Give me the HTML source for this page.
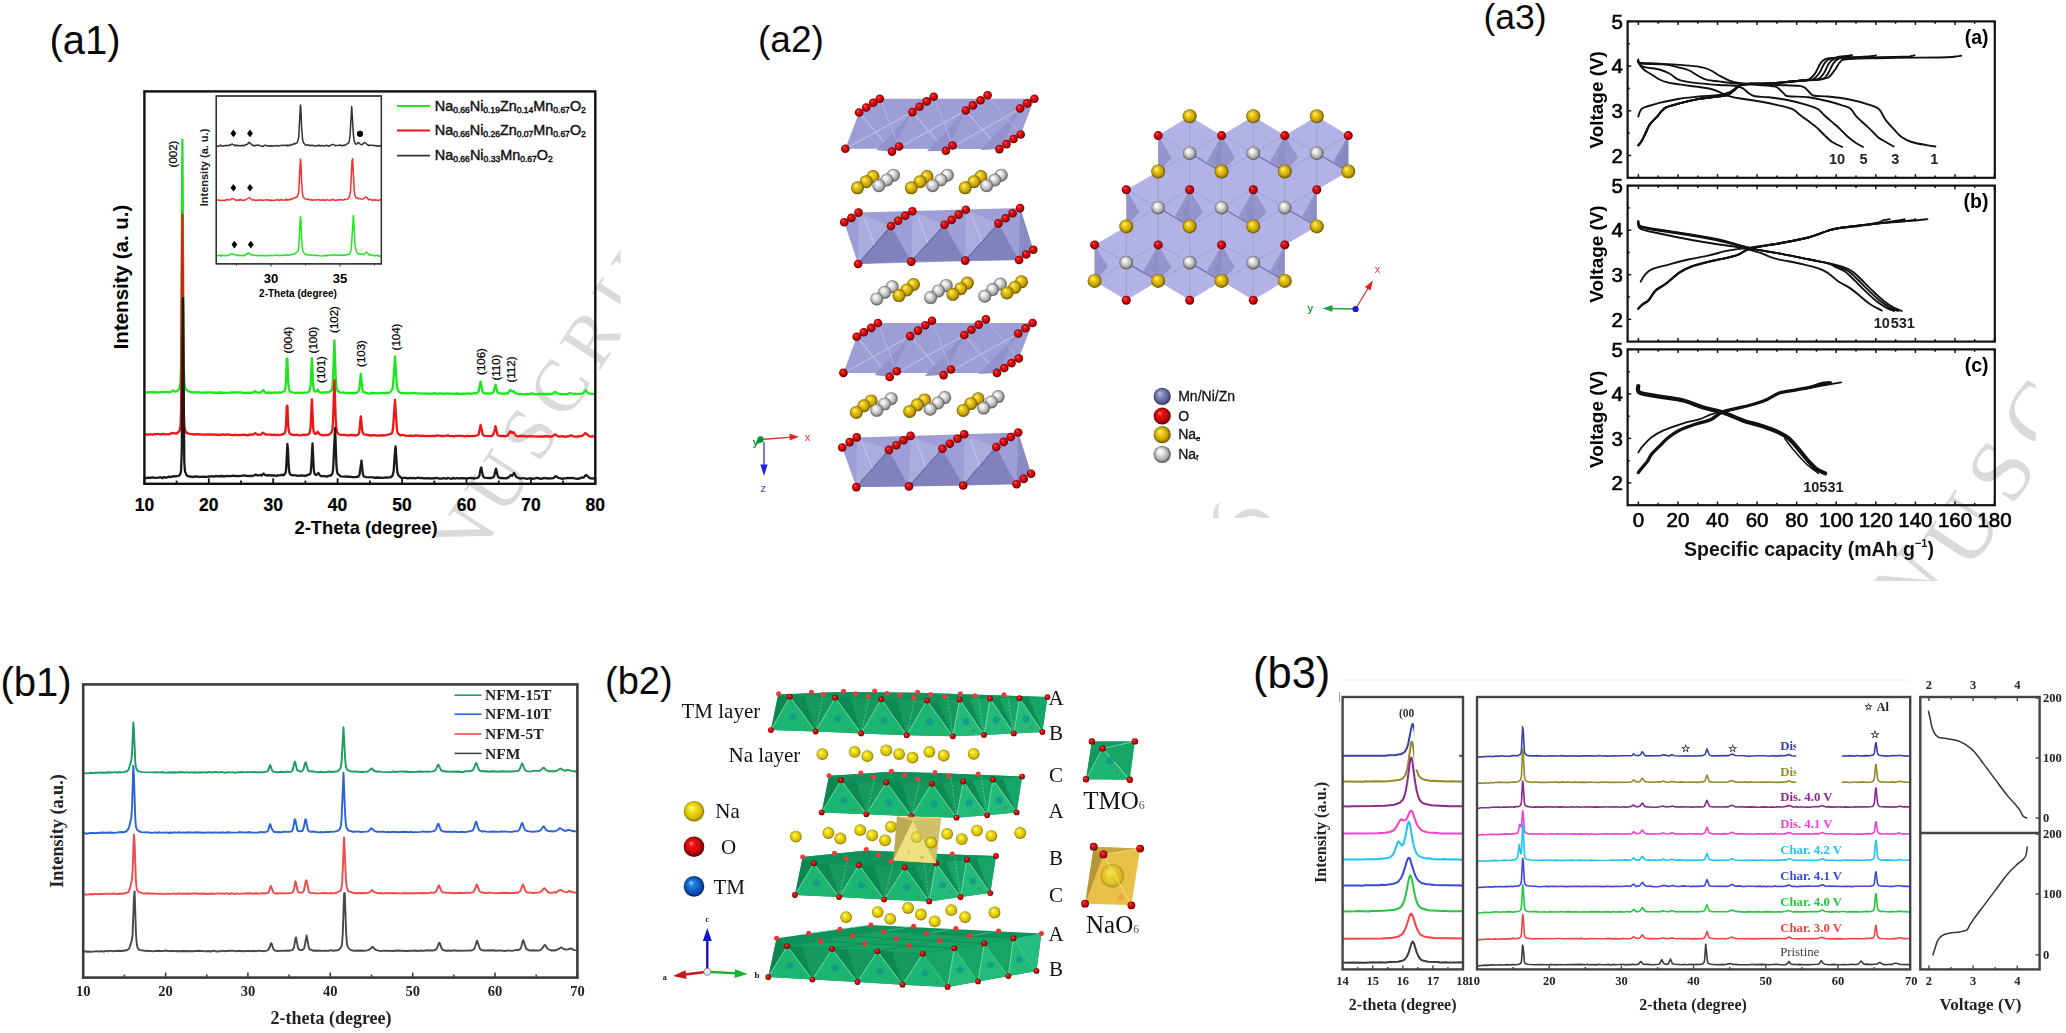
<!DOCTYPE html>
<html><head><meta charset="utf-8"><title>Figure</title>
<style>html,body{margin:0;padding:0;background:#fff;}svg{display:block;}</style></head>
<body>
<svg width="2066" height="1033" viewBox="0 0 2066 1033">
<rect width="2066" height="1033" fill="#fff"/>
<!-- p_wm -->
<clipPath id="wm1"><rect x="40" y="0" width="580.5" height="537"/></clipPath>
<g clip-path="url(#wm1)"><text transform="translate(469.5 571) rotate(-57)" font-family="'Liberation Serif',serif" font-size="74" letter-spacing="10" fill="#dadada">NUSCRIPT</text></g>
<clipPath id="wm3"><rect x="1470" y="0" width="565.7" height="581"/></clipPath>
<g clip-path="url(#wm3)" font-family="'Liberation Serif',serif" font-size="88" letter-spacing="14" fill="#dadada"><text transform="translate(1909.9 627.8) rotate(-50)">N</text><text transform="translate(1969.8 572.5) rotate(-57)">USCRIPT</text></g>
<clipPath id="wm2"><rect x="1100" y="400" width="200" height="118"/></clipPath>
<g clip-path="url(#wm2)"><ellipse cx="1252" cy="525" rx="20" ry="16" fill="#dcdcdc"/><ellipse cx="1252" cy="529" rx="18" ry="13" fill="#fff"/><path d="M1213,518 q0,-12 7,-16 q-3,8 -1,16z" fill="#dcdcdc"/></g>
<!-- p_labels -->
<text x="49.5" y="54" font-size="40" text-anchor="start" font-weight="normal" font-family="'Liberation Sans',sans-serif" fill="#0a0a0a" >(a1)</text>
<text x="758" y="52" font-size="37" text-anchor="start" font-weight="normal" font-family="'Liberation Sans',sans-serif" fill="#0a0a0a" >(a2)</text>
<text x="1483.5" y="28.6" font-size="35.5" text-anchor="start" font-weight="normal" font-family="'Liberation Sans',sans-serif" fill="#0a0a0a" >(a3)</text>
<text x="0.5" y="696" font-size="40" text-anchor="start" font-weight="normal" font-family="'Liberation Sans',sans-serif" fill="#0a0a0a" >(b1)</text>
<text x="605" y="693.7" font-size="38" text-anchor="start" font-weight="normal" font-family="'Liberation Sans',sans-serif" fill="#0a0a0a" >(b2)</text>
<text x="1253" y="687.5" font-size="43.5" text-anchor="start" font-weight="normal" font-family="'Liberation Sans',sans-serif" fill="#0a0a0a" >(b3)</text>
<!-- p_a1 -->
<polyline points="144.4,392.5 153.4,392.1 159.2,392.5 161.1,391.8 163.1,392.2 166.9,391.8 168.9,392.5 170.8,391.9 172.7,390.6 173.4,390.6 174.7,391.5 176.6,391.4 177.9,390.6 179.2,389 180.5,383.1 181.1,364.3 182.4,139.6 183.7,364.1 184.3,383.2 185,387.4 185.6,389.1 187.6,390.8 191.4,392.4 195.3,392.1 196.6,392.6 198.5,392.2 201.1,392.9 204.9,392.4 206.2,392.9 208.2,392.3 211.4,392.4 213.3,392.9 215.3,392.5 216.5,392.8 219.8,392.5 226.9,392.8 232.6,392.3 234.6,392.7 236.5,392.3 241,392.3 243.6,393.1 244.9,392.7 246.2,393.1 247.5,392.7 251.3,392.8 253.9,392.1 255.2,391.3 257.8,392.8 260.3,392.5 261.6,391.9 262.9,390.2 263.6,390.4 264.9,392.2 266.1,392.8 268.7,392.5 271.9,393 275.2,392.4 277.1,392.9 279,392.4 281.6,392.5 284.2,391.2 284.8,390.4 285.5,387.7 286.1,378.4 286.8,358.5 287.4,358.4 288,377.9 288.7,387.4 289.3,390.3 290,391.3 291.9,392.4 295.8,393 299,392.6 300.9,393 308,392.3 309.3,391.1 309.9,389.7 310.6,385.3 311.9,358.2 313.2,385.2 313.8,389.8 314.5,391.3 315.7,391.7 317.7,389.6 319,391.9 319.6,392.4 321.5,392.8 322.8,392.3 324.8,392.5 325.4,392.1 328,392.5 331.2,390.9 331.8,389.7 332.5,386.6 333.1,377.4 334.4,340.4 335.7,377.8 336.4,386.7 337,389.7 337.6,390.7 340.2,392.5 342.2,392.7 343.4,392.4 345.4,393 346.7,392.8 347.9,393.2 349.2,392.9 350.5,393.1 351.8,392.8 355.7,393 357.6,392.3 358.9,390.6 359.5,387.3 360.8,373.9 362.1,387.4 362.8,391 363.4,392.1 367.9,393.4 370.5,393.7 371.8,392.8 376.9,393.3 382.7,392.8 384.7,393.3 386,392.7 387.9,393 389.8,392.5 391.1,391.2 392.4,389.1 393,386.1 395,356.4 396.9,386.2 398.2,390.9 399.5,392.3 400.8,393 404.6,393.1 408.5,393.5 410.4,393 411.7,393.4 414.9,392.9 416.2,393.3 420.7,393.3 422.7,393.6 427.2,393.4 429.1,393.8 430.4,393.5 432.3,393.8 434.3,393.1 437.5,393.8 439.4,393.3 440.1,393.6 442,393.3 443.9,393.8 445.2,393.5 449.1,393.5 451,393.8 452.3,393.5 454.2,393.9 456.8,393.5 461.3,393.8 462.6,393.5 463.9,393.9 465.2,393.5 465.8,393.7 469.7,393.5 471.6,393.9 474.2,393 476.1,393.4 478.1,392.2 478.7,391.1 480.6,381.7 482.6,391.8 483.2,392.8 485.8,393.5 487.7,393.3 489.7,393.6 492.9,392.9 493.5,392 495.5,384.6 497.4,392.1 498,393 498.7,393.2 501.9,393.6 503.2,393.3 505.1,393.7 506.4,393.2 507.7,393.3 508.3,392.9 510.3,389.9 512.2,391.4 513.5,391.1 516.1,393.7 518,393.6 519.9,394.3 521.9,394 523.2,394.3 527.7,393.8 529.6,394.2 532.2,393.4 535.4,394.3 540.5,394 551.5,394 552.8,393.6 554.7,392.1 555.4,392 557.3,393.4 560.5,394.1 567.6,394.2 569.5,393 574,394 575.3,393.7 577.3,394.1 581.8,393.7 583.7,392.5 585.6,390.2 587.6,392.7 589.5,393.7 595.3,394.1" fill="none" stroke="#1ee61e" stroke-width="2.3" stroke-linejoin="round" />
<polyline points="144.4,434.5 145.7,434.3 148.9,434.6 150.8,434.2 152.1,434.8 154.7,434 156,434.3 157.3,433.8 161.1,434.4 163.1,433.8 165.7,434.4 168.9,434.3 172.7,432.9 174,433.4 176.6,433.5 179.2,431.5 179.8,430 180.5,426.3 181.1,410.2 182.4,214.6 183.7,410.3 184.3,426.5 185,429.9 186.3,432.7 189.5,433.9 194.6,434.5 197.9,434.1 202.4,434.7 209.5,434.4 210.7,434.7 212.7,434.4 219.1,435 223.6,434.4 224.9,434.8 226.9,434.4 233.3,435.1 235.9,434.7 237.2,435.2 238.4,434.8 239.7,435.1 244.2,434.6 246.8,435.3 248.1,434.9 249.4,435 251.3,434.3 253.3,434.6 255.2,433.1 257.8,434.9 259.1,434.6 260.3,434.7 261,434.6 262.9,432.6 264.9,434.1 266.1,434.7 270.7,434.7 271.9,435.1 273.9,434.7 275.8,435.1 277.7,434.7 279,435.2 281.6,434.6 284.2,433.6 284.8,432.9 285.5,430.8 286.1,423 286.8,406 287.4,405.6 288,422.3 288.7,430.3 289.3,432.7 290,433.6 291.3,434.5 294.5,435.1 296.4,434.6 298.4,435.2 300.3,435.3 303.5,434.6 304.8,435 307.4,434.6 309.3,433.7 309.9,432.1 310.6,427.3 311.9,399.3 313.2,427.6 313.8,432.2 314.5,433.4 315.7,433.9 316.4,433.6 317.7,431.7 319,433.7 320.3,434.7 323.5,435.3 325.4,434.8 328,435.2 331.2,432.9 331.8,431.9 332.5,428.8 333.1,419.2 334.4,380.3 335.7,418.9 336.4,428.4 337,431.6 337.6,433 338.9,434.3 340.2,434.8 345.4,434.9 346.7,435.3 349.2,435.4 350.5,434.9 356.3,435.5 358.3,434.4 358.9,433.4 359.5,430.2 360.8,416.4 362.1,429.8 362.8,432.8 364.1,434.4 371.1,435.5 374.4,435.2 376.3,435.6 380.8,435.3 381.4,435.7 383.4,435.2 384.7,435.5 391.1,433.8 391.8,433.3 392.4,431.8 393,428.5 395,399.9 396.9,429.1 397.5,432.5 398.2,433.8 400.8,435.5 402.7,434.7 404.6,435.5 407.2,435.8 411.1,435.6 413.7,435.9 415.6,435.5 418.8,435.6 420.7,436.1 422.7,435.7 424.6,436.1 425.9,435.8 430.4,436.2 431.7,435.8 435.6,436 437.5,435.3 440.7,436 443.3,436 445.9,435.9 447.8,435.4 449.7,436 452.9,436.1 454.2,436.4 455.5,435.9 458.1,435.8 462.6,435.9 464.5,436.3 466.5,435.8 471,436.1 472.9,435.9 474.2,436.2 478.1,435 478.7,434.2 480.6,424.9 482.6,434.1 483.2,435.1 484.5,435.9 490.9,436.2 492.9,435.2 494.2,432.1 495.5,426.2 497.4,434.6 498,435.5 500,436 503.2,435.9 505.1,436.3 507.7,435.4 510.3,431.3 512.2,433 513.5,432.1 515.4,435.2 516.7,436.2 518,436.4 520.6,435.8 521.9,436.2 524.4,435.9 527,436.7 528.3,436.2 538,436.7 539.9,436.3 543.8,436.5 545.7,436.1 547,436.4 548.3,436.1 550.2,436.9 552.8,436.2 554.7,434.5 555.4,434.4 556.7,435.6 558.6,436.6 563.1,436.2 565,436.8 569.5,436 570.8,435.3 574,436.6 577.9,436.5 581.8,435.9 583.7,434.8 585,433.3 585.6,433.2 589.5,436.4 590.8,436.7 592.7,436.2 594,436.8 595.3,436.8" fill="none" stroke="#f21414" stroke-width="2.3" stroke-linejoin="round" />
<polyline points="144.4,477.5 147,478.1 148.3,477.7 150.2,478 152.1,477.3 155.4,477.8 158.6,477.7 160.5,477.2 162.4,478.1 164.4,477.1 166.3,477.7 168.9,476.6 170.2,477.1 174,476.1 175.3,476.4 178.5,475.9 179.8,474.9 180.5,473.5 181.1,469.9 181.8,449.8 183,298.2 184.3,462.1 185,471.4 186.3,474.7 187.6,476.1 193.4,477 194.6,476.5 195.9,476.5 199.8,476.9 204.3,476.6 205.6,477.1 208.8,476.4 210.1,476.6 211.4,476.2 213.3,476.6 216.5,476 217.8,476.3 221.1,476 224.9,476.4 226.2,476 230.7,476.2 233.3,475.7 235.9,476.2 237.2,475.8 239.1,476.1 244.9,475.4 246.2,475.8 250.7,476 253.9,475.6 255.8,474.6 257.8,475.5 259.7,475 261.6,475.6 262.9,473.8 263.6,473.6 264.9,474.8 266.8,475.5 268.7,475.1 271.3,475.5 274.5,475.4 276.4,475.9 277.7,475.4 280.3,475.3 281.6,474.7 283.5,475.4 285.5,473 286.1,470.1 287.4,444 288,450.1 288.7,465.7 289.3,472 290,473.8 290.6,474.7 291.9,475.2 295.8,475.3 297.7,475.8 301.6,475.3 305.4,475.8 309.9,474.2 310.6,472.7 311.2,467.2 312.5,443.5 313.8,470 314.5,473.4 315.1,474.6 316.4,475 318.3,472.9 319.6,475 320.9,476.2 324.8,476.1 326.7,476.6 328.6,475.8 330.6,475.5 331.8,474.5 332.5,473.2 333.1,469.6 335.1,427.8 336.4,464.6 337,471.5 337.6,473.6 339.6,475.6 340.9,476.4 344.7,476.7 346.7,476.4 347.9,476.9 349.2,476.7 352.5,477.2 355.7,477.2 357,476.7 358.3,476.8 359.5,474.7 361.5,460.7 362.8,473.3 363.4,475.8 364.1,476.5 366,477.1 373.7,477.4 375,477.9 376.9,477.5 383.4,477.8 386,477.4 387.9,477.7 391.1,477.1 392.4,475.7 393,474.3 393.7,470.8 395,451.2 395.6,446.4 396.9,467 397.5,472.8 398.2,474.9 400.8,477.6 405.9,477.8 407.9,478.3 409.8,477.8 412.4,478.1 413.7,477.9 415.6,478.3 418.2,477.7 420.1,478.2 422,478 424,478.4 426.5,478.1 428.5,478.4 430.4,478.2 431,478.6 433,478.2 434.3,478.4 436.2,477.8 438.8,478.5 441.3,478.6 443.3,478.2 446.5,478.7 447.8,478 448.4,478 451.7,478.8 452.9,477.9 454.9,478.6 456.8,478 458.1,478.4 462,478.1 466.5,478.3 471,477.8 474.8,478.5 478.1,477.7 478.7,477 479.4,475.6 480.6,469 481.3,467.5 482.6,474.6 483.2,476.5 484.5,477.6 488.4,478.2 489.7,477.9 490.9,478.2 493.5,477.1 494.2,476 495.5,470.2 496.1,468.7 497.4,474.9 498,476.6 498.7,477.4 500,478 506.4,478.4 509,477.1 510.9,475 512.2,475.9 514.1,473 516.1,476.8 516.7,477.3 519.3,478.3 521.2,478.5 523.2,478 527,478.9 529,478.4 531.5,478.4 533.5,478.9 536,478 538.6,478.1 540.5,478.8 544.4,478 545.7,478.3 547,478.1 548.3,478.5 550.9,478.4 553.4,478.2 555.4,476.3 556,476.2 557.9,477.7 562.4,478.8 563.7,478.4 565.7,478.4 567.6,477.8 570.2,478.1 572.1,477.9 577.3,478.9 578.6,478.4 579.8,478.5 581.8,477.5 583.7,477.6 585.6,475.2 586.3,475.1 590.1,478.4 595.3,478.5" fill="none" stroke="#1a1a1a" stroke-width="2.3" stroke-linejoin="round" />
<rect x="144.4" y="91.4" width="450.9" height="392.4" stroke="#111" stroke-width="2.4" fill="none" />
<line x1="144.4" y1="483.8" x2="144.4" y2="478.3" stroke="#111" stroke-width="1.8" />
<line x1="176.6" y1="483.8" x2="176.6" y2="480.6" stroke="#111" stroke-width="1.8" />
<line x1="208.8" y1="483.8" x2="208.8" y2="478.3" stroke="#111" stroke-width="1.8" />
<line x1="241" y1="483.8" x2="241" y2="480.6" stroke="#111" stroke-width="1.8" />
<line x1="273.2" y1="483.8" x2="273.2" y2="478.3" stroke="#111" stroke-width="1.8" />
<line x1="305.4" y1="483.8" x2="305.4" y2="480.6" stroke="#111" stroke-width="1.8" />
<line x1="337.6" y1="483.8" x2="337.6" y2="478.3" stroke="#111" stroke-width="1.8" />
<line x1="369.9" y1="483.8" x2="369.9" y2="480.6" stroke="#111" stroke-width="1.8" />
<line x1="402.1" y1="483.8" x2="402.1" y2="478.3" stroke="#111" stroke-width="1.8" />
<line x1="434.3" y1="483.8" x2="434.3" y2="480.6" stroke="#111" stroke-width="1.8" />
<line x1="466.5" y1="483.8" x2="466.5" y2="478.3" stroke="#111" stroke-width="1.8" />
<line x1="498.7" y1="483.8" x2="498.7" y2="480.6" stroke="#111" stroke-width="1.8" />
<line x1="530.9" y1="483.8" x2="530.9" y2="478.3" stroke="#111" stroke-width="1.8" />
<line x1="563.1" y1="483.8" x2="563.1" y2="480.6" stroke="#111" stroke-width="1.8" />
<line x1="595.3" y1="483.8" x2="595.3" y2="478.3" stroke="#111" stroke-width="1.8" />
<text x="144.4" y="511" font-size="17.5" text-anchor="middle" font-weight="bold" font-family="'Liberation Sans',sans-serif" fill="#000" stroke="#000" stroke-width="0.2">10</text>
<text x="208.8" y="511" font-size="17.5" text-anchor="middle" font-weight="bold" font-family="'Liberation Sans',sans-serif" fill="#000" stroke="#000" stroke-width="0.2">20</text>
<text x="273.2" y="511" font-size="17.5" text-anchor="middle" font-weight="bold" font-family="'Liberation Sans',sans-serif" fill="#000" stroke="#000" stroke-width="0.2">30</text>
<text x="337.6" y="511" font-size="17.5" text-anchor="middle" font-weight="bold" font-family="'Liberation Sans',sans-serif" fill="#000" stroke="#000" stroke-width="0.2">40</text>
<text x="402.1" y="511" font-size="17.5" text-anchor="middle" font-weight="bold" font-family="'Liberation Sans',sans-serif" fill="#000" stroke="#000" stroke-width="0.2">50</text>
<text x="466.5" y="511" font-size="17.5" text-anchor="middle" font-weight="bold" font-family="'Liberation Sans',sans-serif" fill="#000" stroke="#000" stroke-width="0.2">60</text>
<text x="530.9" y="511" font-size="17.5" text-anchor="middle" font-weight="bold" font-family="'Liberation Sans',sans-serif" fill="#000" stroke="#000" stroke-width="0.2">70</text>
<text x="595.3" y="511" font-size="17.5" text-anchor="middle" font-weight="bold" font-family="'Liberation Sans',sans-serif" fill="#000" stroke="#000" stroke-width="0.2">80</text>
<text x="366" y="533.5" font-size="18.4" text-anchor="middle" font-weight="bold" font-family="'Liberation Sans',sans-serif" fill="#000" >2-Theta (degree)</text>
<text transform="translate(127.5 277) rotate(-90)" font-size="20.5" text-anchor="middle" font-weight="bold" font-family="'Liberation Sans',sans-serif" fill="#000" >Intensity (a. u.)</text>
<text transform="translate(176.5 154) rotate(-90)" font-size="11.5" text-anchor="middle" font-weight="normal" font-family="'Liberation Sans',sans-serif" fill="#000" stroke="#000" stroke-width="0.25">(002)</text>
<text transform="translate(292 340) rotate(-90)" font-size="11.5" text-anchor="middle" font-weight="normal" font-family="'Liberation Sans',sans-serif" fill="#000" stroke="#000" stroke-width="0.25">(004)</text>
<text transform="translate(316.5 340) rotate(-90)" font-size="11.5" text-anchor="middle" font-weight="normal" font-family="'Liberation Sans',sans-serif" fill="#000" stroke="#000" stroke-width="0.25">(100)</text>
<text transform="translate(325.3 369.5) rotate(-90)" font-size="11.5" text-anchor="middle" font-weight="normal" font-family="'Liberation Sans',sans-serif" fill="#000" stroke="#000" stroke-width="0.25">(101)</text>
<text transform="translate(337.8 319.5) rotate(-90)" font-size="11.5" text-anchor="middle" font-weight="normal" font-family="'Liberation Sans',sans-serif" fill="#000" stroke="#000" stroke-width="0.25">(102)</text>
<text transform="translate(364.8 353.5) rotate(-90)" font-size="11.5" text-anchor="middle" font-weight="normal" font-family="'Liberation Sans',sans-serif" fill="#000" stroke="#000" stroke-width="0.25">(103)</text>
<text transform="translate(400 337) rotate(-90)" font-size="11.5" text-anchor="middle" font-weight="normal" font-family="'Liberation Sans',sans-serif" fill="#000" stroke="#000" stroke-width="0.25">(104)</text>
<text transform="translate(485 361.5) rotate(-90)" font-size="11.5" text-anchor="middle" font-weight="normal" font-family="'Liberation Sans',sans-serif" fill="#000" stroke="#000" stroke-width="0.25">(106)</text>
<text transform="translate(499.8 367.5) rotate(-90)" font-size="11.5" text-anchor="middle" font-weight="normal" font-family="'Liberation Sans',sans-serif" fill="#000" stroke="#000" stroke-width="0.25">(110)</text>
<text transform="translate(514.8 369.5) rotate(-90)" font-size="11.5" text-anchor="middle" font-weight="normal" font-family="'Liberation Sans',sans-serif" fill="#000" stroke="#000" stroke-width="0.25">(112)</text>
<rect x="216.3" y="96" width="165.1" height="167.8" stroke="#333" stroke-width="1.3" fill="#fff" />
<polyline points="216.4,146 218.8,146.3 220.5,145.1 221.3,145.8 223,146.2 224.6,145.6 225.5,145.8 227.1,145.3 227.9,145.7 229.2,145.1 230.4,145.3 231.3,144.3 232.9,144.3 233.7,144.7 234.6,145.7 235.4,145.1 236.2,145.8 237.1,145.2 237.9,145.8 239.5,145.4 241.6,145.8 242.4,145.2 244.1,145.7 244.5,145.7 245.3,144.6 246.2,144.8 247.4,144.1 249.1,142.4 253.2,145.7 254,145.3 254.9,146 256.1,145.1 257.3,145.4 259,145 260.2,145.9 261.5,146.3 262.3,146 263.1,146.5 264,145.7 265.6,145.1 266.9,146 268.5,145.7 270.2,146.3 271,145.6 271.8,146.2 273.1,146.1 273.9,145.5 274.7,146.1 276.8,145.5 278,146.1 282.2,145.2 283,145.4 283.8,145.2 284.2,145.6 285.9,145.1 286.7,145.9 287.6,145.1 288.4,145.7 289.2,145 290,145.5 291.7,144.3 292.5,144.8 294.6,143.2 295.4,143.9 297.1,142.7 297.5,141.9 298.7,137.4 300.4,105 300.8,107 301.6,127.4 302.5,138.7 303.3,142.6 305.4,144.9 306.2,144.9 306.6,145.4 307.8,144.7 308.7,145.5 309.5,145.2 310.7,145.7 311.2,145.3 312.4,145.3 314.5,146 317,145.5 317.8,145.9 319,145.1 320.3,146.1 321.9,145.4 322.8,145.9 323.6,145.6 324.8,145.9 326.5,145.3 329,146.2 329.8,145.6 330.6,145.6 331.4,144.7 333.1,144.4 334.3,144.8 335.6,145.9 336.8,145.4 339.3,145.3 339.7,144.9 340.6,145.6 341.8,145.2 342.6,145.9 343.5,145.2 344.3,145.5 345.1,144.9 345.9,144.9 347.6,143.5 348.4,143.6 349.2,141.3 350.1,134.9 351.7,106.5 353.4,134.7 354.2,140.9 355.5,143.9 355.9,144.2 357.1,143.7 358.4,142.4 360,144.1 362.1,144.8 364.2,142.6 364.6,142.5 368.7,145.7 369.5,145.1 372,145.5 373.3,145.1 374.1,145.7 376.2,145.5 377.4,146.3 378.2,145.7 379.9,146.2 381.1,145.5" fill="none" stroke="#333" stroke-width="1.5" stroke-linejoin="round" />
<polyline points="216.4,200.2 218,199.9 219.3,200.4 220.5,200.2 222.6,200.6 223.4,200.3 224.2,200.6 225.5,200.4 226.3,199.6 227.1,199.9 227.9,199.3 228.8,199.9 230.4,199.8 232.1,198.4 236.6,200.5 238.3,200.1 239.1,199.6 240,200.3 240.8,199.4 242.8,200.6 243.7,200.1 244.5,200.2 246.2,199.5 249.1,197.5 252.8,200.3 254,199.6 255.3,200.4 257.3,199.9 259,200.2 260.7,199.8 261.5,200.2 264.4,200.2 265.2,199.8 266.4,199.7 267.3,200.1 268.1,199.8 268.9,200.4 269.8,199.8 271,200.8 271.8,200.1 272.7,200.5 276.4,199.9 276.8,200.1 277.6,199.6 279.3,200.5 280.9,199.5 283,200.3 284.7,199.9 285.5,200 286.3,199 287.1,200.3 288,199.6 288.8,200 290.5,199 291.7,199.6 292.9,198.3 294.6,198.3 295.4,197.3 296.7,197.2 297.1,196.8 298.3,193.8 298.7,191.6 300.4,159 300.8,161 301.6,181.9 302.5,193.7 302.9,196.1 304.5,198.6 307,199.6 308.3,199 309.5,199.9 311.2,199.9 311.6,199.5 312.4,200.3 314.9,199.7 317,200.1 317.8,199.6 319,199.7 319.9,200.4 321.1,199.8 322.3,200.4 323.6,199.7 325.6,200.5 326.9,199.6 329.4,200.4 331.9,199.8 332.7,199.2 333.5,199.9 334.3,199.9 335.6,200.5 338.1,199.8 339.3,199.9 340.1,199.3 341.4,200 343.9,199.9 344.7,199.2 345.5,199.5 347.6,199.1 349.2,197.2 349.7,196.2 350.5,191.4 352.1,160.5 352.6,158.7 354.2,190.2 355,195.7 355.9,197.5 356.3,198 357.5,198.1 358.4,198.8 359.2,198.4 362.1,199.4 364.2,198.4 365,197.2 365.8,196.9 369.1,199.9 370.4,199.3 372.8,200.5 374.5,199.4 375.3,200.2 376.6,199.9 378.6,200.7 379.5,199.8 380.3,200.1 381.1,199.6" fill="none" stroke="#f53030" stroke-width="1.5" stroke-linejoin="round" />
<polyline points="216.4,255.4 219.3,255.5 220.1,255.1 220.9,256 221.3,256 222.1,255.1 224.2,255.7 224.6,255.4 225.5,255.9 226.3,255.4 226.7,255.7 228.4,255.1 229.2,255.2 231.3,253.9 232.1,253.8 233.7,254.6 236.2,254.7 237.1,255.8 238.7,255.2 242.8,255.7 243.7,255.1 244.5,255.8 245.3,254.6 246.6,254.5 248.2,252.9 248.6,252.9 249.5,253.7 250.3,253.9 251.5,254.9 253.2,254.8 255.3,255.6 256.1,255.1 257.3,255.9 258.6,255.2 259.4,255.6 260.7,255.4 261.5,255.9 263.5,255.2 266,256 267.3,255.3 269.3,255.8 270.2,255.2 273.9,255.7 274.7,255.2 275.6,255.3 276.4,254.6 277.6,255.6 279.7,255.2 280.5,255.5 284.2,255.1 285.1,255.4 285.9,254.8 288,255.3 291.7,254.5 292.5,254.6 295.8,253.3 297.9,251.3 298.7,247.5 300.4,216.5 300.8,218.8 301.6,237.8 302.5,248.7 302.9,251 303.7,252.8 305.8,254.7 306.2,254.9 307,254 308.3,255.1 309.5,254.8 310.3,255.4 311.2,255 312.4,255.4 314.1,254.9 314.9,255.8 315.7,255.1 316.5,255.5 318.2,255.3 319.9,255.9 323.2,255.7 324,255.4 326.5,255.9 327.3,255.1 329.8,255.6 332.3,254.8 337.2,255.4 338.5,254.8 339.3,255.4 340.1,255 341,255.2 344.3,255 345.1,255.5 346.8,254.4 349.2,254.4 350.5,252.4 351.3,248.2 353.4,215.5 355,244.4 355.5,248 356.7,252.4 357.9,253.9 359.6,253.6 360.8,254.6 362.1,254.1 363.7,254.7 366.6,252 369.1,255 369.9,254.8 372,255.3 372.8,255 373.7,255.8 375.7,255.8 376.6,255.2 379.5,256.3 380.3,255.6 381.1,255.9" fill="none" stroke="#22e622" stroke-width="1.5" stroke-linejoin="round" />
<rect x="216.3" y="96" width="165.1" height="167.8" stroke="#333" stroke-width="1.3" fill="none" />
<line x1="236.5" y1="263.8" x2="236.5" y2="265.6" stroke="#333" stroke-width="1" />
<line x1="271" y1="263.8" x2="271" y2="266.6" stroke="#333" stroke-width="1" />
<line x1="305.5" y1="263.8" x2="305.5" y2="265.6" stroke="#333" stroke-width="1" />
<line x1="340" y1="263.8" x2="340" y2="266.6" stroke="#333" stroke-width="1" />
<line x1="374.5" y1="263.8" x2="374.5" y2="265.6" stroke="#333" stroke-width="1" />
<text x="271" y="283" font-size="13" text-anchor="middle" font-weight="bold" font-family="'Liberation Sans',sans-serif" fill="#000" >30</text>
<text x="340" y="283" font-size="13" text-anchor="middle" font-weight="bold" font-family="'Liberation Sans',sans-serif" fill="#000" >35</text>
<text x="298" y="296.8" font-size="10" text-anchor="middle" font-weight="bold" font-family="'Liberation Sans',sans-serif" fill="#000" >2-Theta (degree)</text>
<text transform="translate(208.3 167.5) rotate(-90)" font-size="11" text-anchor="middle" font-weight="bold" font-family="'Liberation Sans',sans-serif" fill="#222" >Intensity (a. u.)</text>
<polygon points="233.4,129.6 236.3,133.4 233.4,137.2 230.5,133.4" fill="#000" stroke="none" stroke-width="0" />
<polygon points="250,129.6 252.9,133.4 250,137.2 247.1,133.4" fill="#000" stroke="none" stroke-width="0" />
<polygon points="233.4,184 236.3,187.8 233.4,191.6 230.5,187.8" fill="#000" stroke="none" stroke-width="0" />
<polygon points="250,184 252.9,187.8 250,191.6 247.1,187.8" fill="#000" stroke="none" stroke-width="0" />
<polygon points="234.4,240.8 237.3,244.6 234.4,248.4 231.5,244.6" fill="#000" stroke="none" stroke-width="0" />
<polygon points="250.8,240.8 253.7,244.6 250.8,248.4 247.9,244.6" fill="#000" stroke="none" stroke-width="0" />
<circle cx="360" cy="133.8" r="3.1" fill="#000" />
<line x1="397" y1="106" x2="430" y2="106" stroke="#1ee61e" stroke-width="1.8" />
<text x="434.8" y="110.5" font-family="'Liberation Sans',sans-serif" fill="#111" stroke="#111" stroke-width="0.45" textLength="151" lengthAdjust="spacingAndGlyphs"><tspan font-size="14.5">Na</tspan><tspan font-size="8.6" dy="2.2">0.66</tspan><tspan dy="-2.2" font-size="1">&#8203;</tspan><tspan font-size="14.5">Ni</tspan><tspan font-size="8.6" dy="2.2">0.19</tspan><tspan dy="-2.2" font-size="1">&#8203;</tspan><tspan font-size="14.5">Zn</tspan><tspan font-size="8.6" dy="2.2">0.14</tspan><tspan dy="-2.2" font-size="1">&#8203;</tspan><tspan font-size="14.5">Mn</tspan><tspan font-size="8.6" dy="2.2">0.67</tspan><tspan dy="-2.2" font-size="1">&#8203;</tspan><tspan font-size="14.5">O</tspan><tspan font-size="8.6" dy="2.2">2</tspan><tspan dy="-2.2" font-size="1">&#8203;</tspan></text>
<line x1="397" y1="130.5" x2="430" y2="130.5" stroke="#f21414" stroke-width="1.8" />
<text x="434.8" y="135" font-family="'Liberation Sans',sans-serif" fill="#111" stroke="#111" stroke-width="0.45" textLength="151" lengthAdjust="spacingAndGlyphs"><tspan font-size="14.5">Na</tspan><tspan font-size="8.6" dy="2.2">0.66</tspan><tspan dy="-2.2" font-size="1">&#8203;</tspan><tspan font-size="14.5">Ni</tspan><tspan font-size="8.6" dy="2.2">0.26</tspan><tspan dy="-2.2" font-size="1">&#8203;</tspan><tspan font-size="14.5">Zn</tspan><tspan font-size="8.6" dy="2.2">0.07</tspan><tspan dy="-2.2" font-size="1">&#8203;</tspan><tspan font-size="14.5">Mn</tspan><tspan font-size="8.6" dy="2.2">0.67</tspan><tspan dy="-2.2" font-size="1">&#8203;</tspan><tspan font-size="14.5">O</tspan><tspan font-size="8.6" dy="2.2">2</tspan><tspan dy="-2.2" font-size="1">&#8203;</tspan></text>
<line x1="397" y1="155.6" x2="430" y2="155.6" stroke="#333" stroke-width="1.8" />
<text x="434.8" y="160.1" font-family="'Liberation Sans',sans-serif" fill="#111" stroke="#111" stroke-width="0.45" textLength="118" lengthAdjust="spacingAndGlyphs"><tspan font-size="14.5">Na</tspan><tspan font-size="8.6" dy="2.2">0.66</tspan><tspan dy="-2.2" font-size="1">&#8203;</tspan><tspan font-size="14.5">Ni</tspan><tspan font-size="8.6" dy="2.2">0.33</tspan><tspan dy="-2.2" font-size="1">&#8203;</tspan><tspan font-size="14.5">Mn</tspan><tspan font-size="8.6" dy="2.2">0.67</tspan><tspan dy="-2.2" font-size="1">&#8203;</tspan><tspan font-size="14.5">O</tspan><tspan font-size="8.6" dy="2.2">2</tspan><tspan dy="-2.2" font-size="1">&#8203;</tspan></text>
<!-- p_a2 -->
<defs>
<radialGradient id="gY" cx="0.5" cy="0.5" r="0.52" fx="0.34" fy="0.3"><stop offset="0" stop-color="#fff8a0"/><stop offset="0.28" stop-color="#f0d01e"/><stop offset="0.7" stop-color="#c6a208"/><stop offset="1" stop-color="#5c4a00"/></radialGradient>
<radialGradient id="gW" cx="0.5" cy="0.5" r="0.52" fx="0.34" fy="0.3"><stop offset="0" stop-color="#ffffff"/><stop offset="0.3" stop-color="#ebebeb"/><stop offset="0.7" stop-color="#b0b0b0"/><stop offset="1" stop-color="#4c4c4c"/></radialGradient>
<radialGradient id="gR" cx="0.5" cy="0.5" r="0.52" fx="0.34" fy="0.3"><stop offset="0" stop-color="#ff8478"/><stop offset="0.28" stop-color="#f01212"/><stop offset="0.7" stop-color="#c00606"/><stop offset="1" stop-color="#4a0000"/></radialGradient>
<radialGradient id="gB" cx="0.5" cy="0.5" r="0.52" fx="0.34" fy="0.3"><stop offset="0" stop-color="#c0c4e6"/><stop offset="0.3" stop-color="#8c92c2"/><stop offset="0.75" stop-color="#5a6092"/><stop offset="1" stop-color="#282c4c"/></radialGradient>
<radialGradient id="gTM" cx="0.5" cy="0.5" r="0.52" fx="0.34" fy="0.3"><stop offset="0" stop-color="#90ccff"/><stop offset="0.3" stop-color="#1e7ee2"/><stop offset="0.75" stop-color="#0a4cb2"/><stop offset="1" stop-color="#041c48"/></radialGradient>
<radialGradient id="gNa" cx="0.5" cy="0.5" r="0.52" fx="0.36" fy="0.32"><stop offset="0" stop-color="#ffffa0"/><stop offset="0.3" stop-color="#f4e41c"/><stop offset="0.75" stop-color="#d4bc08"/><stop offset="1" stop-color="#7a6a00"/></radialGradient>
<filter id="soft" x="-5%" y="-5%" width="110%" height="110%"><feGaussianBlur stdDeviation="0.6"/></filter>
</defs>
<g filter="url(#soft)">
<polygon points="859.1,112.5 879.8,98.7 1034.4,98.7 1020.7,134.5 999.4,149.1 845.3,148.7" fill="#9e9ed6" stroke="none" stroke-width="0" />
<line x1="859.1" y1="112.5" x2="892" y2="151.6" stroke="#bcbce4" stroke-width="1.1" />
<line x1="845.3" y1="148.7" x2="912.4" y2="112.1" stroke="#bcbce4" stroke-width="1.1" />
<polygon points="912.4,112.1 892,151.6 876.6,150.2" fill="#9292cc" stroke="none" stroke-width="0" />
<line x1="879.8" y1="98.7" x2="899.1" y2="146.5" stroke="#b4b4e2" stroke-width="0.9" />
<line x1="912.4" y1="112.1" x2="945.9" y2="150.8" stroke="#bcbce4" stroke-width="1.1" />
<line x1="892" y1="151.6" x2="965.8" y2="110.5" stroke="#bcbce4" stroke-width="1.1" />
<polygon points="965.8,110.5 945.9,150.8 927,151.2" fill="#9292cc" stroke="none" stroke-width="0" />
<line x1="933.7" y1="96.7" x2="952.6" y2="145.5" stroke="#b4b4e2" stroke-width="0.9" />
<line x1="965.8" y1="110.5" x2="999.4" y2="149.1" stroke="#bcbce4" stroke-width="1.1" />
<line x1="945.9" y1="150.8" x2="1020.1" y2="108.5" stroke="#bcbce4" stroke-width="1.1" />
<polygon points="1020.1,108.5 999.4,149.1 980.6,149.9" fill="#9292cc" stroke="none" stroke-width="0" />
<line x1="987.6" y1="95.3" x2="1020.7" y2="134.5" stroke="#b4b4e2" stroke-width="0.9" />
<polygon points="844.2,222.3 858.5,212.6 1020.1,208.1 1033.3,249.8 1019.1,260 858.1,264" fill="#9e9ed6" stroke="none" stroke-width="0" />
<polygon points="858.1,264 891,226 911.3,261.6" fill="#8181be" stroke="none" stroke-width="0" />
<polygon points="858.5,212.6 891,226 858.1,264" fill="#b6b6e4" stroke="none" stroke-width="0" opacity="0.55"/>
<line x1="858.1" y1="264" x2="891" y2="226" stroke="#6c6ca6" stroke-width="1.3" />
<line x1="891" y1="226" x2="911.3" y2="261.6" stroke="#9a9ad0" stroke-width="0.9" />
<line x1="874.5" y1="245" x2="864.5" y2="218.6" stroke="#c8c8ee" stroke-width="0.9" />
<polygon points="911.3,261.6 944.5,224.8 965.2,260.6" fill="#8181be" stroke="none" stroke-width="0" />
<polygon points="912.4,211.2 944.5,224.8 911.3,261.6" fill="#b6b6e4" stroke="none" stroke-width="0" opacity="0.55"/>
<line x1="911.3" y1="261.6" x2="944.5" y2="224.8" stroke="#6c6ca6" stroke-width="1.3" />
<line x1="944.5" y1="224.8" x2="965.2" y2="260.6" stroke="#9a9ad0" stroke-width="0.9" />
<line x1="927.9" y1="243.2" x2="918.4" y2="217.2" stroke="#c8c8ee" stroke-width="0.9" />
<polygon points="965.2,260.6 998.4,223.4 1019.1,260" fill="#8181be" stroke="none" stroke-width="0" />
<polygon points="965.8,209.7 998.4,223.4 965.2,260.6" fill="#b6b6e4" stroke="none" stroke-width="0" opacity="0.55"/>
<line x1="965.2" y1="260.6" x2="998.4" y2="223.4" stroke="#6c6ca6" stroke-width="1.3" />
<line x1="998.4" y1="223.4" x2="1019.1" y2="260" stroke="#9a9ad0" stroke-width="0.9" />
<line x1="981.8" y1="242" x2="971.8" y2="215.7" stroke="#c8c8ee" stroke-width="0.9" />
<polygon points="1019.1,260 1020.1,208.1 1033.3,249.8" fill="#8181be" stroke="none" stroke-width="0" opacity="0.7"/>
<polygon points="856.7,336.8 877.9,323 1032.6,323 1018.8,358.4 997,372.9 843.4,372.9" fill="#9e9ed6" stroke="none" stroke-width="0" />
<line x1="856.7" y1="336.8" x2="889.7" y2="376.9" stroke="#bcbce4" stroke-width="1.1" />
<line x1="843.4" y1="372.9" x2="910.2" y2="336.1" stroke="#bcbce4" stroke-width="1.1" />
<polygon points="910.2,336.1 889.7,376.9 874.5,374.9" fill="#9292cc" stroke="none" stroke-width="0" />
<line x1="877.9" y1="323" x2="896.8" y2="371.3" stroke="#b4b4e2" stroke-width="0.9" />
<line x1="910.2" y1="336.1" x2="943.6" y2="375.1" stroke="#bcbce4" stroke-width="1.1" />
<line x1="889.7" y1="376.9" x2="964.3" y2="335" stroke="#bcbce4" stroke-width="1.1" />
<polygon points="964.3,335 943.6,375.1 924.6,376" fill="#9292cc" stroke="none" stroke-width="0" />
<line x1="932" y1="320.8" x2="950.9" y2="369.5" stroke="#b4b4e2" stroke-width="0.9" />
<line x1="964.3" y1="335" x2="997" y2="372.9" stroke="#bcbce4" stroke-width="1.1" />
<line x1="943.6" y1="375.1" x2="1018.2" y2="333.5" stroke="#bcbce4" stroke-width="1.1" />
<polygon points="1018.2,333.5 997,372.9 978.3,374" fill="#9292cc" stroke="none" stroke-width="0" />
<line x1="985.9" y1="319.4" x2="1018.8" y2="358.4" stroke="#b4b4e2" stroke-width="0.9" />
<polygon points="842.2,447.5 856.7,437.4 1018.2,432.5 1031.1,473.7 1016.6,484.2 856.3,487.1" fill="#9e9ed6" stroke="none" stroke-width="0" />
<polygon points="856.3,487.1 889,449.9 909,486.4" fill="#8181be" stroke="none" stroke-width="0" />
<polygon points="856.7,437.4 889,449.9 856.3,487.1" fill="#b6b6e4" stroke="none" stroke-width="0" opacity="0.55"/>
<line x1="856.3" y1="487.1" x2="889" y2="449.9" stroke="#6c6ca6" stroke-width="1.3" />
<line x1="889" y1="449.9" x2="909" y2="486.4" stroke="#9a9ad0" stroke-width="0.9" />
<line x1="872.6" y1="468.5" x2="862.7" y2="443.4" stroke="#c8c8ee" stroke-width="0.9" />
<polygon points="909,486.4 942.4,448.8 963.2,485.5" fill="#8181be" stroke="none" stroke-width="0" />
<polygon points="910.6,435.9 942.4,448.8 909,486.4" fill="#b6b6e4" stroke="none" stroke-width="0" opacity="0.55"/>
<line x1="909" y1="486.4" x2="942.4" y2="448.8" stroke="#6c6ca6" stroke-width="1.3" />
<line x1="942.4" y1="448.8" x2="963.2" y2="485.5" stroke="#9a9ad0" stroke-width="0.9" />
<line x1="925.7" y1="467.6" x2="916.6" y2="441.9" stroke="#c8c8ee" stroke-width="0.9" />
<polygon points="963.2,485.5 996.3,447 1016.6,484.2" fill="#8181be" stroke="none" stroke-width="0" />
<polygon points="964.3,434.3 996.3,447 963.2,485.5" fill="#b6b6e4" stroke="none" stroke-width="0" opacity="0.55"/>
<line x1="963.2" y1="485.5" x2="996.3" y2="447" stroke="#6c6ca6" stroke-width="1.3" />
<line x1="996.3" y1="447" x2="1016.6" y2="484.2" stroke="#9a9ad0" stroke-width="0.9" />
<line x1="979.7" y1="466.3" x2="970.3" y2="440.3" stroke="#c8c8ee" stroke-width="0.9" />
<polygon points="1016.6,484.2 1018.2,432.5 1031.1,473.7" fill="#8181be" stroke="none" stroke-width="0" opacity="0.7"/>
<circle cx="879.8" cy="98.7" r="4.3" fill="url(#gR)"/>
<circle cx="873.1" cy="102.8" r="4.3" fill="url(#gR)"/>
<circle cx="866.2" cy="107.5" r="4.3" fill="url(#gR)"/>
<circle cx="859.1" cy="112.5" r="4.3" fill="url(#gR)"/>
<circle cx="933.7" cy="96.7" r="4.3" fill="url(#gR)"/>
<circle cx="926.6" cy="101.4" r="4.3" fill="url(#gR)"/>
<circle cx="919.5" cy="106.8" r="4.3" fill="url(#gR)"/>
<circle cx="912.4" cy="112.1" r="4.3" fill="url(#gR)"/>
<circle cx="987.6" cy="95.3" r="4.3" fill="url(#gR)"/>
<circle cx="980.5" cy="100.3" r="4.3" fill="url(#gR)"/>
<circle cx="972.9" cy="105.4" r="4.3" fill="url(#gR)"/>
<circle cx="965.8" cy="110.5" r="4.3" fill="url(#gR)"/>
<circle cx="1034.4" cy="98.7" r="4.3" fill="url(#gR)"/>
<circle cx="1027.2" cy="103.4" r="4.3" fill="url(#gR)"/>
<circle cx="1020.1" cy="108.5" r="4.3" fill="url(#gR)"/>
<circle cx="845.3" cy="148.7" r="4.3" fill="url(#gR)"/>
<circle cx="899.1" cy="146.5" r="4.3" fill="url(#gR)"/>
<circle cx="892" cy="151.6" r="4.3" fill="url(#gR)"/>
<circle cx="952.6" cy="145.5" r="4.3" fill="url(#gR)"/>
<circle cx="945.9" cy="150.8" r="4.3" fill="url(#gR)"/>
<circle cx="1020.7" cy="134.5" r="4.3" fill="url(#gR)"/>
<circle cx="1013.6" cy="139" r="4.3" fill="url(#gR)"/>
<circle cx="1006.5" cy="144.1" r="4.3" fill="url(#gR)"/>
<circle cx="999.4" cy="149.1" r="4.3" fill="url(#gR)"/>
<circle cx="858.5" cy="212.6" r="4.3" fill="url(#gR)"/>
<circle cx="851.4" cy="217.9" r="4.3" fill="url(#gR)"/>
<circle cx="844.2" cy="222.3" r="4.3" fill="url(#gR)"/>
<circle cx="912.4" cy="211.2" r="4.3" fill="url(#gR)"/>
<circle cx="905.2" cy="215.8" r="4.3" fill="url(#gR)"/>
<circle cx="898.1" cy="220.7" r="4.3" fill="url(#gR)"/>
<circle cx="891" cy="226" r="4.3" fill="url(#gR)"/>
<circle cx="965.8" cy="209.7" r="4.3" fill="url(#gR)"/>
<circle cx="958.7" cy="214.6" r="4.3" fill="url(#gR)"/>
<circle cx="951.6" cy="219.9" r="4.3" fill="url(#gR)"/>
<circle cx="944.5" cy="224.8" r="4.3" fill="url(#gR)"/>
<circle cx="1020.1" cy="208.1" r="4.3" fill="url(#gR)"/>
<circle cx="1012.6" cy="213.2" r="4.3" fill="url(#gR)"/>
<circle cx="1005.5" cy="218.3" r="4.3" fill="url(#gR)"/>
<circle cx="998.4" cy="223.4" r="4.3" fill="url(#gR)"/>
<circle cx="858.1" cy="264" r="4.3" fill="url(#gR)"/>
<circle cx="911.3" cy="261.6" r="4.3" fill="url(#gR)"/>
<circle cx="965.2" cy="260.6" r="4.3" fill="url(#gR)"/>
<circle cx="1033.3" cy="249.8" r="4.3" fill="url(#gR)"/>
<circle cx="1026.2" cy="254.5" r="4.3" fill="url(#gR)"/>
<circle cx="1019.1" cy="260" r="4.3" fill="url(#gR)"/>
<circle cx="877.9" cy="323" r="4.3" fill="url(#gR)"/>
<circle cx="871.2" cy="327.9" r="4.3" fill="url(#gR)"/>
<circle cx="863.8" cy="332.3" r="4.3" fill="url(#gR)"/>
<circle cx="856.7" cy="336.8" r="4.3" fill="url(#gR)"/>
<circle cx="932" cy="320.8" r="4.3" fill="url(#gR)"/>
<circle cx="925.3" cy="325.2" r="4.3" fill="url(#gR)"/>
<circle cx="918" cy="330.6" r="4.3" fill="url(#gR)"/>
<circle cx="910.2" cy="336.1" r="4.3" fill="url(#gR)"/>
<circle cx="985.9" cy="319.4" r="4.3" fill="url(#gR)"/>
<circle cx="978.7" cy="324.6" r="4.3" fill="url(#gR)"/>
<circle cx="971.4" cy="329.7" r="4.3" fill="url(#gR)"/>
<circle cx="964.3" cy="335" r="4.3" fill="url(#gR)"/>
<circle cx="1032.6" cy="323" r="4.3" fill="url(#gR)"/>
<circle cx="1025.5" cy="328.3" r="4.3" fill="url(#gR)"/>
<circle cx="1018.2" cy="333.5" r="4.3" fill="url(#gR)"/>
<circle cx="843.4" cy="372.9" r="4.3" fill="url(#gR)"/>
<circle cx="896.8" cy="371.3" r="4.3" fill="url(#gR)"/>
<circle cx="889.7" cy="376.9" r="4.3" fill="url(#gR)"/>
<circle cx="950.9" cy="369.5" r="4.3" fill="url(#gR)"/>
<circle cx="943.6" cy="375.1" r="4.3" fill="url(#gR)"/>
<circle cx="1018.8" cy="358.4" r="4.3" fill="url(#gR)"/>
<circle cx="1011.5" cy="363.1" r="4.3" fill="url(#gR)"/>
<circle cx="1004.3" cy="368" r="4.3" fill="url(#gR)"/>
<circle cx="997" cy="372.9" r="4.3" fill="url(#gR)"/>
<circle cx="856.7" cy="437.4" r="4.3" fill="url(#gR)"/>
<circle cx="849.6" cy="442.1" r="4.3" fill="url(#gR)"/>
<circle cx="842.2" cy="447.5" r="4.3" fill="url(#gR)"/>
<circle cx="910.6" cy="435.9" r="4.3" fill="url(#gR)"/>
<circle cx="903.5" cy="440.3" r="4.3" fill="url(#gR)"/>
<circle cx="896.4" cy="445.2" r="4.3" fill="url(#gR)"/>
<circle cx="889" cy="449.9" r="4.3" fill="url(#gR)"/>
<circle cx="964.3" cy="434.3" r="4.3" fill="url(#gR)"/>
<circle cx="957.4" cy="438.8" r="4.3" fill="url(#gR)"/>
<circle cx="949.8" cy="443.7" r="4.3" fill="url(#gR)"/>
<circle cx="942.4" cy="448.8" r="4.3" fill="url(#gR)"/>
<circle cx="1018.2" cy="432.5" r="4.3" fill="url(#gR)"/>
<circle cx="1010.8" cy="437" r="4.3" fill="url(#gR)"/>
<circle cx="1003.7" cy="441.9" r="4.3" fill="url(#gR)"/>
<circle cx="996.3" cy="447" r="4.3" fill="url(#gR)"/>
<circle cx="856.3" cy="487.1" r="4.3" fill="url(#gR)"/>
<circle cx="909" cy="486.4" r="4.3" fill="url(#gR)"/>
<circle cx="963.2" cy="485.5" r="4.3" fill="url(#gR)"/>
<circle cx="1031.1" cy="473.7" r="4.3" fill="url(#gR)"/>
<circle cx="1023.7" cy="478.9" r="4.3" fill="url(#gR)"/>
<circle cx="1016.6" cy="484.2" r="4.3" fill="url(#gR)"/>
<circle cx="893.4" cy="175.2" r="6.5" fill="url(#gW)"/>
<circle cx="873.1" cy="176.6" r="6.5" fill="url(#gY)"/>
<circle cx="886.9" cy="180" r="6.5" fill="url(#gW)"/>
<circle cx="866.2" cy="181.7" r="6.5" fill="url(#gY)"/>
<circle cx="878.8" cy="185.7" r="6.5" fill="url(#gW)"/>
<circle cx="857.5" cy="187.8" r="6.5" fill="url(#gY)"/>
<circle cx="947.3" cy="175.2" r="6.5" fill="url(#gW)"/>
<circle cx="927" cy="176.6" r="6.5" fill="url(#gY)"/>
<circle cx="940.8" cy="180" r="6.5" fill="url(#gW)"/>
<circle cx="920.1" cy="181.7" r="6.5" fill="url(#gY)"/>
<circle cx="932.7" cy="185.7" r="6.5" fill="url(#gW)"/>
<circle cx="911.3" cy="187.8" r="6.5" fill="url(#gY)"/>
<circle cx="1001.2" cy="175.2" r="6.5" fill="url(#gW)"/>
<circle cx="980.9" cy="176.6" r="6.5" fill="url(#gY)"/>
<circle cx="994.7" cy="180" r="6.5" fill="url(#gW)"/>
<circle cx="974" cy="181.7" r="6.5" fill="url(#gY)"/>
<circle cx="986.6" cy="185.7" r="6.5" fill="url(#gW)"/>
<circle cx="965.2" cy="187.8" r="6.5" fill="url(#gY)"/>
<circle cx="913.5" cy="284.5" r="6.5" fill="url(#gY)"/>
<circle cx="892.3" cy="286.7" r="6.5" fill="url(#gW)"/>
<circle cx="906.8" cy="290" r="6.5" fill="url(#gY)"/>
<circle cx="884.6" cy="292.3" r="6.5" fill="url(#gW)"/>
<circle cx="899" cy="295.6" r="6.5" fill="url(#gY)"/>
<circle cx="876.8" cy="298.9" r="6.5" fill="url(#gW)"/>
<circle cx="967.4" cy="283.1" r="6.5" fill="url(#gY)"/>
<circle cx="946.2" cy="285.4" r="6.5" fill="url(#gW)"/>
<circle cx="960.7" cy="288.7" r="6.5" fill="url(#gY)"/>
<circle cx="938.4" cy="290.9" r="6.5" fill="url(#gW)"/>
<circle cx="952.9" cy="294.3" r="6.5" fill="url(#gY)"/>
<circle cx="930.6" cy="297.6" r="6.5" fill="url(#gW)"/>
<circle cx="1021.5" cy="281.8" r="6.5" fill="url(#gY)"/>
<circle cx="1000.3" cy="284" r="6.5" fill="url(#gW)"/>
<circle cx="1014.8" cy="287.3" r="6.5" fill="url(#gY)"/>
<circle cx="992.5" cy="289.6" r="6.5" fill="url(#gW)"/>
<circle cx="1007" cy="292.9" r="6.5" fill="url(#gY)"/>
<circle cx="984.8" cy="296.2" r="6.5" fill="url(#gW)"/>
<circle cx="891.2" cy="398.7" r="6.5" fill="url(#gW)"/>
<circle cx="871.2" cy="400.9" r="6.5" fill="url(#gY)"/>
<circle cx="884.6" cy="404" r="6.5" fill="url(#gW)"/>
<circle cx="863.8" cy="405.8" r="6.5" fill="url(#gY)"/>
<circle cx="876.8" cy="410.3" r="6.5" fill="url(#gW)"/>
<circle cx="856.3" cy="412.5" r="6.5" fill="url(#gY)"/>
<circle cx="944.7" cy="397.6" r="6.5" fill="url(#gW)"/>
<circle cx="924.6" cy="399.9" r="6.5" fill="url(#gY)"/>
<circle cx="938" cy="403" r="6.5" fill="url(#gW)"/>
<circle cx="917.3" cy="404.8" r="6.5" fill="url(#gY)"/>
<circle cx="930.2" cy="409.2" r="6.5" fill="url(#gW)"/>
<circle cx="909.7" cy="411.4" r="6.5" fill="url(#gY)"/>
<circle cx="998.1" cy="396.6" r="6.5" fill="url(#gW)"/>
<circle cx="978.1" cy="398.8" r="6.5" fill="url(#gY)"/>
<circle cx="991.4" cy="401.9" r="6.5" fill="url(#gW)"/>
<circle cx="970.7" cy="403.7" r="6.5" fill="url(#gY)"/>
<circle cx="983.6" cy="408.1" r="6.5" fill="url(#gW)"/>
<circle cx="963.2" cy="410.4" r="6.5" fill="url(#gY)"/>
<clipPath id="hexclip"><polygon points="1158.2,135.6 1189.7,116.3 1221.6,135.6 1253.3,116.3 1284.8,135.6 1316.8,116.3 1348.3,135.6 1348.3,171.5 1316.8,189.8 1316.8,226.4 1284.8,244.9 1284.8,280.9 1253.3,300.2 1221.6,280.9 1189.7,300.2 1158.2,280.9 1126.3,300.2 1094.6,280.9 1094.6,244.9 1126.3,226.4 1126.3,189.8 1158.2,171.5"/></clipPath>
<polygon points="1158.2,135.6 1189.7,116.3 1221.6,135.6 1253.3,116.3 1284.8,135.6 1316.8,116.3 1348.3,135.6 1348.3,171.5 1316.8,189.8 1316.8,226.4 1284.8,244.9 1284.8,280.9 1253.3,300.2 1221.6,280.9 1189.7,300.2 1158.2,280.9 1126.3,300.2 1094.6,280.9 1094.6,244.9 1126.3,226.4 1126.3,189.8 1158.2,171.5" fill="#b2b2e6" stroke="none" stroke-width="0" />
<g clip-path="url(#hexclip)">
<polygon points="1158.2,135.6 1143.6,161.6 1158.2,172.3 1171.6,157.8" fill="#8787c0" stroke="none" stroke-width="0" opacity="0.68"/>
<polygon points="1158.2,135.6 1150.6,159.4 1158.2,172.3" fill="#8080b8" stroke="none" stroke-width="0" opacity="0.35"/>
<polygon points="1221.6,135.6 1207,161.6 1221.6,172.3 1235,157.8" fill="#8787c0" stroke="none" stroke-width="0" opacity="0.68"/>
<polygon points="1221.6,135.6 1214,159.4 1221.6,172.3" fill="#8080b8" stroke="none" stroke-width="0" opacity="0.35"/>
<polygon points="1284.8,135.6 1270.2,161.6 1284.8,172.3 1298.2,157.8" fill="#8787c0" stroke="none" stroke-width="0" opacity="0.68"/>
<polygon points="1284.8,135.6 1277.2,159.4 1284.8,172.3" fill="#8080b8" stroke="none" stroke-width="0" opacity="0.35"/>
<polygon points="1348.3,135.6 1333.6,161.6 1348.3,172.3 1361.6,157.8" fill="#8787c0" stroke="none" stroke-width="0" opacity="0.68"/>
<polygon points="1348.3,135.6 1340.6,159.4 1348.3,172.3" fill="#8080b8" stroke="none" stroke-width="0" opacity="0.35"/>
<polygon points="1126.3,189.8 1111.7,215.9 1126.3,226.5 1139.7,212" fill="#8787c0" stroke="none" stroke-width="0" opacity="0.68"/>
<polygon points="1126.3,189.8 1118.7,213.7 1126.3,226.5" fill="#8080b8" stroke="none" stroke-width="0" opacity="0.35"/>
<polygon points="1189.7,189.8 1175.1,215.9 1189.7,226.5 1203.1,212" fill="#8787c0" stroke="none" stroke-width="0" opacity="0.68"/>
<polygon points="1189.7,189.8 1182.1,213.7 1189.7,226.5" fill="#8080b8" stroke="none" stroke-width="0" opacity="0.35"/>
<polygon points="1253.3,189.8 1238.7,215.9 1253.3,226.5 1266.7,212" fill="#8787c0" stroke="none" stroke-width="0" opacity="0.68"/>
<polygon points="1253.3,189.8 1245.7,213.7 1253.3,226.5" fill="#8080b8" stroke="none" stroke-width="0" opacity="0.35"/>
<polygon points="1316.8,189.8 1302.1,215.9 1316.8,226.5 1330.1,212" fill="#8787c0" stroke="none" stroke-width="0" opacity="0.68"/>
<polygon points="1316.8,189.8 1309.1,213.7 1316.8,226.5" fill="#8080b8" stroke="none" stroke-width="0" opacity="0.35"/>
<polygon points="1094.6,244.9 1080,271 1094.6,281.6 1108,267.1" fill="#8787c0" stroke="none" stroke-width="0" opacity="0.68"/>
<polygon points="1094.6,244.9 1087,268.8 1094.6,281.6" fill="#8080b8" stroke="none" stroke-width="0" opacity="0.35"/>
<polygon points="1158.2,244.9 1143.6,271 1158.2,281.6 1171.6,267.1" fill="#8787c0" stroke="none" stroke-width="0" opacity="0.68"/>
<polygon points="1158.2,244.9 1150.6,268.8 1158.2,281.6" fill="#8080b8" stroke="none" stroke-width="0" opacity="0.35"/>
<polygon points="1221.6,244.9 1207,271 1221.6,281.6 1235,267.1" fill="#8787c0" stroke="none" stroke-width="0" opacity="0.68"/>
<polygon points="1221.6,244.9 1214,268.8 1221.6,281.6" fill="#8080b8" stroke="none" stroke-width="0" opacity="0.35"/>
<polygon points="1284.8,244.9 1270.2,271 1284.8,281.6 1298.2,267.1" fill="#8787c0" stroke="none" stroke-width="0" opacity="0.68"/>
<polygon points="1284.8,244.9 1277.2,268.8 1284.8,281.6" fill="#8080b8" stroke="none" stroke-width="0" opacity="0.35"/>
<polygon points="1126.3,300.2 1111.7,326.3 1126.3,336.9 1139.7,322.4" fill="#8787c0" stroke="none" stroke-width="0" opacity="0.68"/>
<polygon points="1126.3,300.2 1118.7,324 1126.3,336.9" fill="#8080b8" stroke="none" stroke-width="0" opacity="0.35"/>
<polygon points="1189.7,300.2 1175.1,326.3 1189.7,336.9 1203.1,322.4" fill="#8787c0" stroke="none" stroke-width="0" opacity="0.68"/>
<polygon points="1189.7,300.2 1182.1,324 1189.7,336.9" fill="#8080b8" stroke="none" stroke-width="0" opacity="0.35"/>
<polygon points="1253.3,300.2 1238.7,326.3 1253.3,336.9 1266.7,322.4" fill="#8787c0" stroke="none" stroke-width="0" opacity="0.68"/>
<polygon points="1253.3,300.2 1245.7,324 1253.3,336.9" fill="#8080b8" stroke="none" stroke-width="0" opacity="0.35"/>
<polygon points="1094.6,171.5 1080,197.6 1094.6,208.2 1108,193.7" fill="#8787c0" stroke="none" stroke-width="0" opacity="0.68"/>
<polygon points="1094.6,171.5 1087,195.4 1094.6,208.2" fill="#8080b8" stroke="none" stroke-width="0" opacity="0.35"/>
<polygon points="1348.3,135.6 1333.6,161.6 1348.3,172.3 1361.6,157.8" fill="#8787c0" stroke="none" stroke-width="0" opacity="0.68"/>
<polygon points="1348.3,135.6 1340.6,159.4 1348.3,172.3" fill="#8080b8" stroke="none" stroke-width="0" opacity="0.35"/>
<line x1="1189.7" y1="153.2" x2="1189.7" y2="116.5" stroke="#9c9cd0" stroke-width="0.8" />
<line x1="1189.7" y1="153.2" x2="1221.5" y2="134.9" stroke="#9c9cd0" stroke-width="0.8" />
<line x1="1189.7" y1="153.2" x2="1221.5" y2="171.6" stroke="#7676ac" stroke-width="1.3" />
<line x1="1189.7" y1="153.2" x2="1189.7" y2="189.9" stroke="#9c9cd0" stroke-width="0.8" />
<line x1="1189.7" y1="153.2" x2="1158" y2="171.6" stroke="#9c9cd0" stroke-width="0.8" />
<line x1="1189.7" y1="153.2" x2="1158" y2="134.9" stroke="#9c9cd0" stroke-width="0.8" />
<line x1="1253.3" y1="153.2" x2="1253.3" y2="116.5" stroke="#9c9cd0" stroke-width="0.8" />
<line x1="1253.3" y1="153.2" x2="1285.1" y2="134.9" stroke="#9c9cd0" stroke-width="0.8" />
<line x1="1253.3" y1="153.2" x2="1285.1" y2="171.6" stroke="#7676ac" stroke-width="1.3" />
<line x1="1253.3" y1="153.2" x2="1253.3" y2="189.9" stroke="#9c9cd0" stroke-width="0.8" />
<line x1="1253.3" y1="153.2" x2="1221.6" y2="171.6" stroke="#9c9cd0" stroke-width="0.8" />
<line x1="1253.3" y1="153.2" x2="1221.6" y2="134.9" stroke="#9c9cd0" stroke-width="0.8" />
<line x1="1316.8" y1="153.2" x2="1316.8" y2="116.5" stroke="#9c9cd0" stroke-width="0.8" />
<line x1="1316.8" y1="153.2" x2="1348.5" y2="134.9" stroke="#9c9cd0" stroke-width="0.8" />
<line x1="1316.8" y1="153.2" x2="1348.5" y2="171.6" stroke="#7676ac" stroke-width="1.3" />
<line x1="1316.8" y1="153.2" x2="1316.8" y2="189.9" stroke="#9c9cd0" stroke-width="0.8" />
<line x1="1316.8" y1="153.2" x2="1285" y2="171.6" stroke="#9c9cd0" stroke-width="0.8" />
<line x1="1316.8" y1="153.2" x2="1285" y2="134.9" stroke="#9c9cd0" stroke-width="0.8" />
<line x1="1158.2" y1="207.7" x2="1158.2" y2="171" stroke="#9c9cd0" stroke-width="0.8" />
<line x1="1158.2" y1="207.7" x2="1190" y2="189.4" stroke="#9c9cd0" stroke-width="0.8" />
<line x1="1158.2" y1="207.7" x2="1190" y2="226.1" stroke="#7676ac" stroke-width="1.3" />
<line x1="1158.2" y1="207.7" x2="1158.2" y2="244.4" stroke="#9c9cd0" stroke-width="0.8" />
<line x1="1158.2" y1="207.7" x2="1126.5" y2="226.1" stroke="#9c9cd0" stroke-width="0.8" />
<line x1="1158.2" y1="207.7" x2="1126.5" y2="189.4" stroke="#9c9cd0" stroke-width="0.8" />
<line x1="1221.6" y1="207.7" x2="1221.6" y2="171" stroke="#9c9cd0" stroke-width="0.8" />
<line x1="1221.6" y1="207.7" x2="1253.4" y2="189.4" stroke="#9c9cd0" stroke-width="0.8" />
<line x1="1221.6" y1="207.7" x2="1253.4" y2="226.1" stroke="#7676ac" stroke-width="1.3" />
<line x1="1221.6" y1="207.7" x2="1221.6" y2="244.4" stroke="#9c9cd0" stroke-width="0.8" />
<line x1="1221.6" y1="207.7" x2="1189.9" y2="226.1" stroke="#9c9cd0" stroke-width="0.8" />
<line x1="1221.6" y1="207.7" x2="1189.9" y2="189.4" stroke="#9c9cd0" stroke-width="0.8" />
<line x1="1284.8" y1="207.7" x2="1284.8" y2="171" stroke="#9c9cd0" stroke-width="0.8" />
<line x1="1284.8" y1="207.7" x2="1316.6" y2="189.4" stroke="#9c9cd0" stroke-width="0.8" />
<line x1="1284.8" y1="207.7" x2="1316.6" y2="226.1" stroke="#7676ac" stroke-width="1.3" />
<line x1="1284.8" y1="207.7" x2="1284.8" y2="244.4" stroke="#9c9cd0" stroke-width="0.8" />
<line x1="1284.8" y1="207.7" x2="1253.1" y2="226.1" stroke="#9c9cd0" stroke-width="0.8" />
<line x1="1284.8" y1="207.7" x2="1253.1" y2="189.4" stroke="#9c9cd0" stroke-width="0.8" />
<line x1="1126.3" y1="262.6" x2="1126.3" y2="225.9" stroke="#9c9cd0" stroke-width="0.8" />
<line x1="1126.3" y1="262.6" x2="1158.1" y2="244.2" stroke="#9c9cd0" stroke-width="0.8" />
<line x1="1126.3" y1="262.6" x2="1158.1" y2="280.9" stroke="#7676ac" stroke-width="1.3" />
<line x1="1126.3" y1="262.6" x2="1126.3" y2="299.3" stroke="#9c9cd0" stroke-width="0.8" />
<line x1="1126.3" y1="262.6" x2="1094.6" y2="280.9" stroke="#9c9cd0" stroke-width="0.8" />
<line x1="1126.3" y1="262.6" x2="1094.6" y2="244.2" stroke="#9c9cd0" stroke-width="0.8" />
<line x1="1189.7" y1="262.6" x2="1189.7" y2="225.9" stroke="#9c9cd0" stroke-width="0.8" />
<line x1="1189.7" y1="262.6" x2="1221.5" y2="244.2" stroke="#9c9cd0" stroke-width="0.8" />
<line x1="1189.7" y1="262.6" x2="1221.5" y2="280.9" stroke="#7676ac" stroke-width="1.3" />
<line x1="1189.7" y1="262.6" x2="1189.7" y2="299.3" stroke="#9c9cd0" stroke-width="0.8" />
<line x1="1189.7" y1="262.6" x2="1158" y2="280.9" stroke="#9c9cd0" stroke-width="0.8" />
<line x1="1189.7" y1="262.6" x2="1158" y2="244.2" stroke="#9c9cd0" stroke-width="0.8" />
<line x1="1253.3" y1="262.6" x2="1253.3" y2="225.9" stroke="#9c9cd0" stroke-width="0.8" />
<line x1="1253.3" y1="262.6" x2="1285.1" y2="244.2" stroke="#9c9cd0" stroke-width="0.8" />
<line x1="1253.3" y1="262.6" x2="1285.1" y2="280.9" stroke="#7676ac" stroke-width="1.3" />
<line x1="1253.3" y1="262.6" x2="1253.3" y2="299.3" stroke="#9c9cd0" stroke-width="0.8" />
<line x1="1253.3" y1="262.6" x2="1221.6" y2="280.9" stroke="#9c9cd0" stroke-width="0.8" />
<line x1="1253.3" y1="262.6" x2="1221.6" y2="244.2" stroke="#9c9cd0" stroke-width="0.8" />
</g>
<circle cx="1158.2" cy="135.6" r="4.5" fill="url(#gR)"/>
<circle cx="1221.6" cy="135.6" r="4.5" fill="url(#gR)"/>
<circle cx="1284.8" cy="135.6" r="4.5" fill="url(#gR)"/>
<circle cx="1348.3" cy="135.6" r="4.5" fill="url(#gR)"/>
<circle cx="1126.3" cy="189.8" r="4.5" fill="url(#gR)"/>
<circle cx="1189.7" cy="189.8" r="4.5" fill="url(#gR)"/>
<circle cx="1253.3" cy="189.8" r="4.5" fill="url(#gR)"/>
<circle cx="1316.8" cy="189.8" r="4.5" fill="url(#gR)"/>
<circle cx="1094.6" cy="244.9" r="4.5" fill="url(#gR)"/>
<circle cx="1158.2" cy="244.9" r="4.5" fill="url(#gR)"/>
<circle cx="1221.6" cy="244.9" r="4.5" fill="url(#gR)"/>
<circle cx="1284.8" cy="244.9" r="4.5" fill="url(#gR)"/>
<circle cx="1126.3" cy="300.2" r="4.5" fill="url(#gR)"/>
<circle cx="1189.7" cy="300.2" r="4.5" fill="url(#gR)"/>
<circle cx="1253.3" cy="300.2" r="4.5" fill="url(#gR)"/>
<circle cx="1189.7" cy="116.3" r="7" fill="url(#gY)"/>
<circle cx="1253.3" cy="116.3" r="7" fill="url(#gY)"/>
<circle cx="1316.8" cy="116.3" r="7" fill="url(#gY)"/>
<circle cx="1158.2" cy="171.5" r="7" fill="url(#gY)"/>
<circle cx="1221.6" cy="171.5" r="7" fill="url(#gY)"/>
<circle cx="1284.8" cy="171.5" r="7" fill="url(#gY)"/>
<circle cx="1348.3" cy="171.5" r="7" fill="url(#gY)"/>
<circle cx="1126.3" cy="226.4" r="7" fill="url(#gY)"/>
<circle cx="1189.7" cy="226.4" r="7" fill="url(#gY)"/>
<circle cx="1253.3" cy="226.4" r="7" fill="url(#gY)"/>
<circle cx="1316.8" cy="226.4" r="7" fill="url(#gY)"/>
<circle cx="1094.6" cy="280.9" r="7" fill="url(#gY)"/>
<circle cx="1158.2" cy="280.9" r="7" fill="url(#gY)"/>
<circle cx="1221.6" cy="280.9" r="7" fill="url(#gY)"/>
<circle cx="1284.8" cy="280.9" r="7" fill="url(#gY)"/>
<circle cx="1189.7" cy="153.2" r="6.8" fill="url(#gW)"/>
<circle cx="1253.3" cy="153.2" r="6.8" fill="url(#gW)"/>
<circle cx="1316.8" cy="153.2" r="6.8" fill="url(#gW)"/>
<circle cx="1158.2" cy="207.7" r="6.8" fill="url(#gW)"/>
<circle cx="1221.6" cy="207.7" r="6.8" fill="url(#gW)"/>
<circle cx="1284.8" cy="207.7" r="6.8" fill="url(#gW)"/>
<circle cx="1126.3" cy="262.6" r="6.8" fill="url(#gW)"/>
<circle cx="1189.7" cy="262.6" r="6.8" fill="url(#gW)"/>
<circle cx="1253.3" cy="262.6" r="6.8" fill="url(#gW)"/>
<circle cx="1162.2" cy="396.4" r="8.6" fill="url(#gB)"/>
<circle cx="1162.2" cy="416" r="8.6" fill="url(#gR)"/>
<circle cx="1162.2" cy="434.7" r="8.6" fill="url(#gY)"/>
<circle cx="1162.2" cy="454.3" r="8.6" fill="url(#gW)"/>
<line x1="761" y1="439.5" x2="792" y2="437.2" stroke="#e03030" stroke-width="1.3" />
<polygon points="799,436.8 789.5,433.8 789.8,440.6" fill="#e02020" stroke="none" stroke-width="0" />
<line x1="764" y1="442" x2="764" y2="466" stroke="#3030e0" stroke-width="1.3" />
<polygon points="764,476 760.4,464.5 767.6,464.5" fill="#2020e0" stroke="none" stroke-width="0" />
<circle cx="760.5" cy="439.5" r="3.2" fill="#109030" />
<polygon points="755.5,445 760,436 763,441" fill="#109030" stroke="none" stroke-width="0" />
<line x1="1355.4" y1="309" x2="1331" y2="308.5" stroke="#20a040" stroke-width="1.3" />
<polygon points="1322.5,308.4 1332.5,305 1332.5,311.8" fill="#20a040" stroke="none" stroke-width="0" />
<line x1="1356.5" y1="307.5" x2="1368.5" y2="287.5" stroke="#e03030" stroke-width="1.2" />
<polygon points="1373,280.5 1365,287 1370.5,290.5" fill="#e02020" stroke="none" stroke-width="0" />
<circle cx="1355.6" cy="309" r="3.1" fill="#1818e0" />
</g>
<text x="807.5" y="440.8" font-size="11" text-anchor="middle" font-weight="normal" font-family="'Liberation Sans',sans-serif" fill="#e03030" >x</text>
<text x="763.3" y="491.5" font-size="11" text-anchor="middle" font-weight="normal" font-family="'Liberation Sans',sans-serif" fill="#4040e0" >z</text>
<text x="755.5" y="446" font-size="10" text-anchor="middle" font-weight="bold" font-family="'Liberation Sans',sans-serif" fill="#109030" >y</text>
<text x="1310.3" y="311.5" font-size="11" text-anchor="middle" font-weight="bold" font-family="'Liberation Sans',sans-serif" fill="#30a050" >y</text>
<text x="1377.5" y="273" font-size="11" text-anchor="middle" font-weight="normal" font-family="'Liberation Sans',sans-serif" fill="#e04040" >x</text>
<text x="1178.2" y="400.9" font-size="14" text-anchor="start" font-weight="normal" font-family="'Liberation Sans',sans-serif" fill="#111" stroke="#111" stroke-width="0.3">Mn/Ni/Zn</text>
<text x="1178.2" y="420.6" font-size="14" text-anchor="start" font-weight="normal" font-family="'Liberation Sans',sans-serif" fill="#111" stroke="#111" stroke-width="0.3">O</text>
<text x="1178.2" y="439.2" font-family="'Liberation Sans',sans-serif" font-size="14" fill="#111" stroke="#111" stroke-width="0.3">Na<tspan font-size="8" dy="1.5">e</tspan></text>
<text x="1178.2" y="458.8" font-family="'Liberation Sans',sans-serif" font-size="14" fill="#111" stroke="#111" stroke-width="0.3">Na<tspan font-size="8" dy="1.5">f</tspan></text>
<!-- p_a3 -->
<path d="M1638.3,116.6C1638.5,115.8 1639.1,113.5 1639.7,112.2C1640.3,110.9 1640.9,109.6 1642.1,108.6C1643.2,107.7 1643.7,107.6 1646.6,106.6C1649.5,105.7 1654.1,104.2 1659.5,102.9C1665,101.6 1672.8,99.8 1679.4,98.7C1686,97.6 1692.6,97.2 1699.2,96.5C1705.8,95.9 1714.1,95.6 1719.1,94.9C1724,94.2 1726,93.6 1729,92.4C1732,91.1 1734.6,88.7 1736.9,87.4C1739.2,86.1 1739.2,85 1742.9,84.4C1746.5,83.8 1752.8,84.1 1758.8,83.8C1764.7,83.6 1772,83.5 1778.6,83C1785.2,82.6 1791.8,81.6 1798.5,81C1805.1,80.5 1813.3,80.1 1818.3,79.5C1823.3,78.9 1825.4,79.1 1828.2,77.5C1831,75.8 1833.2,72.1 1835.2,69.5C1837.2,67 1838.3,63.7 1840.1,62C1841.9,60.3 1839.8,59.8 1846.1,59.2C1852.4,58.6 1865.9,58.5 1877.8,58.2C1889.7,58 1905.9,57.8 1917.5,57.6C1929.1,57.5 1940.7,57.4 1947.3,57.2C1953.9,57 1954.9,56.7 1957.2,56.4C1959.5,56.2 1960.5,55.9 1961.2,55.8" fill="none" stroke="#111" stroke-width="1.9" stroke-linecap="round" stroke-linejoin="round" />
<path d="M1638.3,145.3C1638.9,144.6 1640.5,143 1641.7,141C1642.9,138.9 1644.3,135.8 1645.6,133C1647,130.3 1647.8,127.4 1649.6,124.7C1651.4,122.1 1654.6,119.4 1656.6,117.2C1658.5,114.9 1659.9,112.9 1661.5,111.2C1663.2,109.6 1663.5,108.6 1666.5,107.2C1669.5,105.9 1673.9,104.7 1679.4,103.3C1684.8,101.9 1692.6,100.1 1699.2,98.9C1705.8,97.7 1714.1,97.1 1719.1,96.3C1724,95.6 1726.3,95.5 1729,94.3C1731.6,93.2 1733,90.9 1734.9,89.4C1736.9,87.8 1738.3,85.9 1740.9,85C1743.5,84.1 1746.2,84.1 1750.8,83.8C1755.5,83.6 1762.4,83.8 1768.7,83.4C1775,83.1 1782.9,82.3 1788.5,81.8C1794.2,81.3 1798.9,80.9 1802.4,80.5C1805.9,80 1807.2,80.3 1809.4,79.1C1811.5,77.8 1813.5,75.7 1815.3,73.1C1817.1,70.5 1818.6,65.9 1820.3,63.6C1821.9,61.3 1822.8,60.2 1825.2,59.2C1827.7,58.2 1832.9,58 1835.2,57.6C1837.5,57.2 1837,57.1 1839.1,56.8C1841.3,56.6 1846.1,56.3 1848.1,56C1850,55.8 1850.5,55.4 1851,55.2" fill="none" stroke="#111" stroke-width="1.9" stroke-linecap="round" stroke-linejoin="round" />
<path d="M1638.3,145.3C1638.9,144.6 1640.5,143 1641.7,141C1642.9,138.9 1644.3,135.8 1645.6,133C1647,130.3 1647.8,127.4 1649.6,124.7C1651.4,122.1 1654.6,119.4 1656.6,117.2C1658.5,114.9 1659.9,112.9 1661.5,111.2C1663.2,109.6 1663.5,108.6 1666.5,107.2C1669.5,105.9 1673.9,104.7 1679.4,103.3C1684.8,101.9 1692.6,100.1 1699.2,98.9C1705.8,97.7 1714.1,97.1 1719.1,96.3C1724,95.6 1726.3,95.5 1729,94.3C1731.6,93.2 1733,90.9 1734.9,89.4C1736.9,87.8 1738.3,85.9 1740.9,85C1743.5,84.1 1746.2,84.1 1750.8,83.8C1755.5,83.6 1762.4,83.8 1768.7,83.4C1775,83.1 1782.9,82.3 1788.5,81.8C1794.2,81.3 1798.3,80.9 1802.4,80.5C1806.6,80 1810.5,80.3 1813.3,79.1C1816.1,77.8 1817.5,75.7 1819.3,73.1C1821.1,70.5 1822.6,65.9 1824.3,63.6C1825.9,61.3 1826.7,60.2 1829.2,59.2C1831.7,58.2 1837.3,58 1839.1,57.6C1841,57.2 1838.5,57.1 1840.1,56.8C1841.8,56.6 1847.1,56.3 1849.1,56C1851,55.8 1851.5,55.4 1852,55.2" fill="none" stroke="#111" stroke-width="1.9" stroke-linecap="round" stroke-linejoin="round" />
<path d="M1638.3,145.3C1638.9,144.6 1640.5,143 1641.7,141C1642.9,138.9 1644.3,135.8 1645.6,133C1647,130.3 1647.8,127.4 1649.6,124.7C1651.4,122.1 1654.6,119.4 1656.6,117.2C1658.5,114.9 1659.9,112.9 1661.5,111.2C1663.2,109.6 1663.5,108.6 1666.5,107.2C1669.5,105.9 1673.9,104.7 1679.4,103.3C1684.8,101.9 1692.6,100.1 1699.2,98.9C1705.8,97.7 1714.1,97.1 1719.1,96.3C1724,95.6 1726.3,95.5 1729,94.3C1731.6,93.2 1733,90.9 1734.9,89.4C1736.9,87.8 1738.3,85.9 1740.9,85C1743.5,84.1 1746.2,84.1 1750.8,83.8C1755.5,83.6 1762.4,83.8 1768.7,83.4C1775,83.1 1782.9,82.3 1788.5,81.8C1794.2,81.3 1797.5,80.9 1802.4,80.5C1807.3,80 1814.3,80.3 1817.9,79.1C1821.5,77.8 1822,75.7 1823.9,73.1C1825.7,70.5 1827.2,65.9 1828.8,63.6C1830.5,61.3 1831.3,60.2 1833.8,59.2C1836.3,58.2 1838.7,58 1843.7,57.6C1848.7,57.2 1859.1,57.1 1863.9,56.8C1868.8,56.6 1870.9,56.3 1872.9,56C1874.9,55.8 1875.4,55.4 1875.8,55.2" fill="none" stroke="#111" stroke-width="1.9" stroke-linecap="round" stroke-linejoin="round" />
<path d="M1638.3,145.3C1638.9,144.6 1640.5,143 1641.7,141C1642.9,138.9 1644.3,135.8 1645.6,133C1647,130.3 1647.8,127.4 1649.6,124.7C1651.4,122.1 1654.6,119.4 1656.6,117.2C1658.5,114.9 1659.9,112.9 1661.5,111.2C1663.2,109.6 1663.5,108.6 1666.5,107.2C1669.5,105.9 1673.9,104.7 1679.4,103.3C1684.8,101.9 1692.6,100.1 1699.2,98.9C1705.8,97.7 1714.1,97.1 1719.1,96.3C1724,95.6 1726.3,95.5 1729,94.3C1731.6,93.2 1733,90.9 1734.9,89.4C1736.9,87.8 1738.3,85.9 1740.9,85C1743.5,84.1 1746.2,84.1 1750.8,83.8C1755.5,83.6 1762.4,83.8 1768.7,83.4C1775,83.1 1782.9,82.3 1788.5,81.8C1794.2,81.3 1796.8,80.9 1802.4,80.5C1808,80 1818,80.3 1822.3,79.1C1826.6,77.8 1826.4,75.7 1828.2,73.1C1830,70.5 1831.5,65.9 1833.2,63.6C1834.8,61.3 1835.7,60.2 1838.1,59.2C1840.6,58.2 1837.3,58 1848.1,57.6C1858.8,57.2 1892.1,57.1 1902.6,56.8C1913.2,56.6 1909.6,56.3 1911.6,56C1913.6,55.8 1914.1,55.4 1914.5,55.2" fill="none" stroke="#111" stroke-width="1.9" stroke-linecap="round" stroke-linejoin="round" />
<path d="M1638.3,59.6C1638.5,60.1 1636.2,61.9 1639.7,62.6C1643.2,63.3 1651.3,63.1 1659.5,63.6C1667.8,64.1 1682,64.9 1689.3,65.6C1696.6,66.2 1699.6,66.7 1703.2,67.6C1706.8,68.4 1708.5,69.2 1711.1,70.5C1713.8,71.9 1716.1,73.8 1719.1,75.5C1722,77.1 1725.7,79.2 1729,80.5C1732.3,81.7 1734,82.4 1738.9,83C1743.9,83.6 1752.1,83.7 1758.8,84C1765.4,84.4 1772,84.7 1778.6,85C1785.2,85.3 1794.2,85.4 1798.5,85.8C1802.8,86.2 1802.4,86.1 1804.4,87.4C1806.4,88.7 1808.7,92 1810.4,93.3C1812,94.7 1811.4,95.2 1814.3,95.7C1817.3,96.3 1822.6,95.9 1828.2,96.5C1833.8,97.1 1841.5,98 1848.1,99.3C1854.7,100.6 1862.9,102.8 1867.9,104.3C1872.9,105.8 1875.5,106.7 1877.8,108.2C1880.1,109.7 1880.5,111.2 1881.8,113.2C1883.1,115.2 1883.8,117.5 1885.8,120.1C1887.8,122.8 1891.1,126.3 1893.7,129.1C1896.4,131.9 1898.7,134.9 1901.6,137C1904.6,139.2 1907.6,140.6 1911.6,142C1915.5,143.3 1921.5,144.2 1925.5,144.9C1929.4,145.7 1933.7,146.3 1935.4,146.5" fill="none" stroke="#111" stroke-width="1.9" stroke-linecap="round" stroke-linejoin="round" />
<path d="M1638.3,60.6C1638.9,61.1 1637.1,62.9 1641.7,63.6C1646.2,64.2 1659.2,63.9 1665.5,64.6C1671.8,65.2 1675.4,66.6 1679.4,67.6C1683.3,68.5 1686,69 1689.3,70.5C1692.6,72 1696.2,74.9 1699.2,76.5C1702.2,78 1703.9,79 1707.2,79.9C1710.5,80.7 1713.8,80.8 1719.1,81.4C1724.4,82.1 1732.3,83.2 1738.9,83.8C1745.5,84.4 1752.8,84.6 1758.8,85C1764.7,85.4 1771.2,85.7 1774.6,86.4C1778.1,87.1 1777.9,88.1 1779.6,89.4C1781.3,90.7 1783.1,93.2 1784.6,94.3C1786,95.5 1784.6,95.8 1788.5,96.3C1792.5,96.8 1801.8,96.5 1808.4,97.3C1815,98.1 1822.6,100 1828.2,101.3C1833.8,102.6 1838.5,104.1 1842.1,105.3C1845.7,106.4 1848.1,106.9 1850,108.2C1852,109.6 1852.7,111.5 1854,113.2C1855.3,114.8 1855.7,115.8 1858,118.2C1860.3,120.5 1864.6,123.9 1867.9,127.1C1871.2,130.2 1874.9,134.5 1877.8,137C1880.8,139.5 1883.1,140.4 1885.8,142C1888.4,143.6 1892.4,145.8 1893.7,146.5" fill="none" stroke="#111" stroke-width="1.9" stroke-linecap="round" stroke-linejoin="round" />
<path d="M1638.3,61.6C1639,62.4 1639.1,65.2 1642.7,66.6C1646.2,67.9 1655.1,68.4 1659.5,69.5C1664,70.7 1666.5,71.9 1669.5,73.5C1672.4,75.1 1674.8,77.7 1677.4,79.1C1680,80.4 1681.7,80.7 1685.3,81.4C1689,82.2 1693.6,82.8 1699.2,83.4C1704.8,84 1713.1,84.6 1719.1,85C1725,85.4 1731,85.2 1734.9,85.8C1738.9,86.4 1740.6,87.1 1742.9,88.4C1745.2,89.6 1746.9,92 1748.8,93.3C1750.8,94.7 1751.5,95.7 1754.8,96.3C1758.1,97 1763.1,96.7 1768.7,97.3C1774.3,98 1781.9,99 1788.5,100.3C1795.1,101.6 1803.4,103.8 1808.4,105.3C1813.3,106.7 1815.7,107.6 1818.3,109.2C1820.9,110.9 1821.9,113 1824.3,115.2C1826.6,117.3 1829.5,119.8 1832.2,122.1C1834.8,124.4 1837.5,126.6 1840.1,129.1C1842.8,131.6 1845.4,134.7 1848.1,137C1850.7,139.3 1853.5,141.3 1856,143C1858.5,144.6 1861.8,146.3 1862.9,146.9" fill="none" stroke="#111" stroke-width="1.9" stroke-linecap="round" stroke-linejoin="round" />
<path d="M1638.3,62.6C1639.2,63.7 1641.4,67.6 1643.7,69.5C1645.9,71.5 1649,72.8 1651.6,74.5C1654.2,76.2 1656.9,78.1 1659.5,79.5C1662.2,80.8 1664.2,81.6 1667.5,82.4C1670.8,83.3 1674.1,83.7 1679.4,84.4C1684.7,85.2 1693.9,86.2 1699.2,87C1704.5,87.8 1707.8,88.2 1711.1,89C1714.4,89.8 1716.4,90.6 1719.1,91.8C1721.7,92.9 1723.7,94.6 1727,95.7C1730.3,96.8 1733.6,97.4 1738.9,98.3C1744.2,99.2 1752.1,100.1 1758.8,101.3C1765.4,102.4 1773,103.9 1778.6,105.3C1784.2,106.6 1788.9,107.6 1792.5,109.2C1796.1,110.9 1797.8,113.2 1800.4,115.2C1803.1,117.2 1805.7,119.1 1808.4,121.1C1811,123.1 1813.7,124.8 1816.3,127.1C1819,129.4 1821.6,132.5 1824.3,135C1826.9,137.5 1829.2,140 1832.2,142C1835.2,144 1840.5,146.1 1842.1,146.9" fill="none" stroke="#111" stroke-width="1.9" stroke-linecap="round" stroke-linejoin="round" />
<path d="M1640.7,281.6C1641.3,280.5 1642.8,277.3 1644.7,275.2C1646.5,273.2 1647.5,271.1 1651.6,269.3C1655.7,267.4 1663.2,266 1669.5,264.3C1675.7,262.6 1682.7,260.8 1689.3,259.3C1695.9,257.9 1702.5,256.9 1709.1,255.4C1715.8,253.9 1722,251.7 1729,250.4C1735.9,249.1 1742.6,248.6 1750.8,247.4C1759.1,246.3 1769,245.1 1778.6,243.5C1788.2,241.8 1800.1,239.7 1808.4,237.5C1816.6,235.4 1823.3,232.1 1828.2,230.6C1833.2,229 1833.2,228.9 1838.1,228.2C1843.1,227.5 1851.4,227 1858,226.2C1864.6,225.4 1871.2,224.4 1877.8,223.6C1884.4,222.9 1891.1,222.2 1897.7,221.6C1904.3,221.1 1912.6,220.7 1917.5,220.2C1922.5,219.8 1925.8,219.3 1927.4,219.1" fill="none" stroke="#111" stroke-width="1.9" stroke-linecap="round" stroke-linejoin="round" />
<path d="M1638.3,308.4C1639,307.6 1640.9,305.4 1642.7,304C1644.4,302.6 1646.5,302.3 1648.6,300C1650.8,297.7 1652.8,292.8 1655.6,290.1C1658.4,287.4 1661.5,286.7 1665.5,283.8C1669.5,280.8 1675.1,275.2 1679.4,272.2C1683.7,269.3 1686.3,268.1 1691.3,266.3C1696.2,264.5 1702.9,262.8 1709.1,261.3C1715.4,259.8 1724,258.5 1729,257.4C1734,256.2 1735.3,255.9 1738.9,254.4C1742.6,252.9 1744.2,250.2 1750.8,248.4C1757.4,246.6 1769,245.3 1778.6,243.5C1788.2,241.6 1800.1,239.7 1808.4,237.5C1816.6,235.4 1823.3,232.1 1828.2,230.6C1833.2,229 1833.2,229 1838.1,228.2C1843.1,227.4 1851.4,226.5 1858,225.6C1864.6,224.7 1873.5,223.5 1877.8,222.6C1882.1,221.7 1881.8,220.8 1883.8,220.2C1885.8,219.7 1888.7,219.3 1889.7,219.1" fill="none" stroke="#111" stroke-width="1.9" stroke-linecap="round" stroke-linejoin="round" />
<path d="M1638.3,308.7C1639,308 1640.9,305.7 1642.7,304.4C1644.4,303 1646.5,302.7 1648.6,300.4C1650.8,298.1 1652.8,293.2 1655.6,290.5C1658.4,287.7 1661.5,287.1 1665.5,284.1C1669.5,281.1 1675.1,275.5 1679.4,272.6C1683.7,269.7 1686.3,268.5 1691.3,266.6C1696.2,264.8 1702.9,263.2 1709.1,261.7C1715.4,260.1 1724,258.6 1729,257.4C1734,256.1 1735.3,255.9 1738.9,254.4C1742.6,252.9 1744.2,250.2 1750.8,248.4C1757.4,246.6 1769,245.3 1778.6,243.5C1788.2,241.6 1800.1,239.7 1808.4,237.5C1816.6,235.4 1823.3,232.1 1828.2,230.6C1833.2,229 1833.2,229 1838.1,228.2C1843.1,227.4 1851.4,226.4 1858,225.6C1864.6,224.8 1871.1,224.1 1877.8,223.2C1884.6,222.4 1894.2,221.2 1898.7,220.5C1903.1,219.9 1903.6,219.3 1904.6,219.1" fill="none" stroke="#111" stroke-width="1.9" stroke-linecap="round" stroke-linejoin="round" />
<path d="M1638.3,309C1639,308.2 1640.9,306 1642.7,304.6C1644.4,303.2 1646.5,302.9 1648.6,300.6C1650.8,298.3 1652.8,293.4 1655.6,290.7C1658.4,288 1661.5,287.3 1665.5,284.3C1669.5,281.4 1675.1,275.7 1679.4,272.8C1683.7,269.9 1686.3,268.7 1691.3,266.9C1696.2,265.1 1702.9,263.5 1709.1,261.9C1715.4,260.3 1724,258.6 1729,257.4C1734,256.1 1735.3,255.9 1738.9,254.4C1742.6,252.9 1744.2,250.2 1750.8,248.4C1757.4,246.6 1769,245.3 1778.6,243.5C1788.2,241.6 1800.1,239.7 1808.4,237.5C1816.6,235.4 1823.3,232.1 1828.2,230.6C1833.2,229 1833.2,229 1838.1,228.2C1843.1,227.4 1851.4,226.4 1858,225.6C1864.6,224.8 1869.2,224.4 1877.8,223.6C1886.4,222.8 1903.3,221.5 1909.6,220.7C1915.9,220 1914.5,219.3 1915.5,219.1" fill="none" stroke="#111" stroke-width="1.9" stroke-linecap="round" stroke-linejoin="round" />
<path d="M1638.3,221C1638.7,221.9 1637.1,224.8 1640.7,226.2C1644.2,227.6 1651.4,228.3 1659.5,229.6C1667.6,230.9 1679.4,232.5 1689.3,234.1C1699.2,235.8 1708.8,237.1 1719.1,239.5C1729.3,241.9 1740.9,246.1 1750.8,248.4C1760.7,250.7 1769,251.6 1778.6,253.4C1788.2,255.2 1800.1,257.7 1808.4,259.3C1816.6,261 1822.6,262.1 1828.2,263.3C1833.8,264.5 1838.1,265.4 1842.1,266.7C1846.1,268 1849.1,269.3 1852,271.2C1855,273.2 1856.7,275.1 1860,278.2C1863.3,281.3 1867.9,286.3 1871.9,290.1C1875.8,293.9 1880.1,298.1 1883.8,301C1887.4,303.9 1890.7,305.9 1893.7,307.6C1896.7,309.2 1900.3,310.4 1901.6,310.9" fill="none" stroke="#111" stroke-width="1.9" stroke-linecap="round" stroke-linejoin="round" />
<path d="M1638.3,221.6C1638.7,222.5 1637.1,225.4 1640.7,226.8C1644.2,228.2 1651.4,228.8 1659.5,230.2C1667.6,231.5 1679.4,233.1 1689.3,234.7C1699.2,236.4 1708.8,237.8 1719.1,240.1C1729.3,242.4 1740.9,246.2 1750.8,248.4C1760.7,250.6 1769,251.6 1778.6,253.4C1788.2,255.2 1800.1,257.7 1808.4,259.3C1816.6,261 1823.2,262.1 1828.2,263.3C1833.2,264.5 1835.2,265.4 1838.5,266.7C1841.9,268 1845.5,269.3 1848.5,271.2C1851.4,273.2 1853.1,275.1 1856.4,278.2C1859.7,281.3 1864.3,286.3 1868.3,290.1C1872.3,293.9 1876.6,298.1 1880.2,301C1883.9,303.9 1887.2,305.9 1890.1,307.6C1893.1,309.2 1896.8,310.4 1898.1,310.9" fill="none" stroke="#111" stroke-width="1.9" stroke-linecap="round" stroke-linejoin="round" />
<path d="M1638.3,222.2C1638.7,223.1 1637.1,226 1640.7,227.4C1644.2,228.8 1651.4,229.4 1659.5,230.8C1667.6,232.1 1679.4,233.7 1689.3,235.3C1699.2,237 1708.8,238.5 1719.1,240.7C1729.3,242.9 1740.9,246.3 1750.8,248.4C1760.7,250.5 1769,251.6 1778.6,253.4C1788.2,255.2 1800.1,257.7 1808.4,259.3C1816.6,261 1823.9,262.1 1828.2,263.3C1832.6,264.5 1831.9,265.4 1834.6,266.7C1837.3,268 1841.5,269.3 1844.5,271.2C1847.5,273.2 1849.1,275.1 1852.4,278.2C1855.7,281.3 1860.4,286.3 1864.3,290.1C1868.3,293.9 1872.6,298.1 1876.2,301C1879.9,303.9 1883.2,305.9 1886.2,307.6C1889.1,309.2 1892.8,310.4 1894.1,310.9" fill="none" stroke="#111" stroke-width="1.9" stroke-linecap="round" stroke-linejoin="round" />
<path d="M1638.3,222.6C1638.7,223.7 1637.1,227.2 1640.7,229C1644.2,230.8 1651.4,231.8 1659.5,233.5C1667.6,235.3 1679.4,237.7 1689.3,239.5C1699.2,241.3 1710.8,243.1 1719.1,244.5C1727.3,245.8 1732.3,246.1 1738.9,247.4C1745.5,248.8 1752.8,250.6 1758.8,252.4C1764.7,254.2 1768,256.5 1774.6,258.3C1781.3,260.2 1791.2,261.7 1798.5,263.3C1805.7,265 1813.3,266.6 1818.3,268.3C1823.3,269.9 1824.9,271.1 1828.2,273.2C1831.5,275.4 1834.5,278.7 1838.1,281.2C1841.8,283.7 1846.4,285.6 1850,288.1C1853.7,290.6 1856.7,293.4 1860,296.1C1863.3,298.7 1866.3,301.6 1869.9,304C1873.5,306.4 1879.8,309.5 1881.8,310.5" fill="none" stroke="#111" stroke-width="1.9" stroke-linecap="round" stroke-linejoin="round" />
<path d="M1638.3,452.5C1639,451.5 1640.5,448.7 1642.7,446.2C1644.9,443.6 1648.1,439.9 1651.6,437.2C1655.1,434.6 1658.2,432.6 1663.5,430.3C1668.8,428 1677.4,425.2 1683.3,423.3C1689.3,421.5 1694.6,420.9 1699.2,419.4C1703.9,417.9 1707.2,415.8 1711.1,414.4C1715.1,413 1716.8,412.5 1723,411C1729.3,409.6 1741.9,407.2 1748.8,405.5C1755.8,403.7 1759.8,402.6 1764.7,400.5C1769.7,398.5 1774.6,394.7 1778.6,393.2C1782.6,391.6 1783.6,392.1 1788.5,391.2C1793.5,390.3 1801.8,389.1 1808.4,388C1815,386.9 1822.8,385.6 1828.2,384.7C1833.7,383.7 1839,382.7 1841.1,382.3" fill="none" stroke="#111" stroke-width="1.8" stroke-linecap="round" stroke-linejoin="round" />
<path d="M1638.3,472.6C1639,471.6 1641.1,468.9 1642.7,467C1644.2,465.1 1646.1,463.2 1647.6,461.1C1649.1,458.9 1649.6,456.6 1651.6,454.1C1653.6,451.6 1656.9,448.8 1659.5,446.2C1662.2,443.5 1664.2,440.9 1667.5,438.2C1670.8,435.6 1674.8,432.6 1679.4,430.3C1684,428 1690,426.2 1695.3,424.3C1700.5,422.5 1706.5,421.5 1711.1,419.4C1715.8,417.3 1716.8,414.2 1723,411.8C1729.3,409.5 1741.9,407.4 1748.8,405.5C1755.8,403.6 1759.8,402.6 1764.7,400.5C1769.7,398.5 1774.6,394.7 1778.6,393.2C1782.6,391.6 1783.6,392.1 1788.5,391.2C1793.5,390.3 1802.8,388.8 1808.4,387.6C1814,386.4 1818.6,384.8 1822.3,384.1C1825.9,383.3 1828.9,383.2 1830.2,383.1" fill="none" stroke="#111" stroke-width="3.3" stroke-linecap="round" stroke-linejoin="round" />
<path d="M1638.3,386C1638.5,387.1 1636.2,390.8 1639.7,392.6C1643.2,394.3 1652.3,395.2 1659.5,396.6C1666.8,397.9 1676.1,398.7 1683.3,400.5C1690.6,402.3 1696.6,405.5 1703.2,407.5C1709.8,409.5 1716.4,410.3 1723,412.4C1729.7,414.6 1736.3,418.1 1742.9,420.4C1749.5,422.7 1756.8,424.3 1762.7,426.3C1768.7,428.3 1774.3,430.3 1778.6,432.3C1782.9,434.3 1785.2,435.4 1788.5,438.2C1791.8,441 1795.1,445.3 1798.5,449.1C1801.8,453 1805.4,457.7 1808.4,461.1C1811.4,464.4 1813.5,466.9 1816.3,469C1819.1,471 1823.8,472.6 1825.2,473.4" fill="none" stroke="#111" stroke-width="4.2" stroke-linecap="round" stroke-linejoin="round" />
<path d="M1810.4,387.2C1812.3,386.4 1818.8,383.3 1822.3,382.5C1825.7,381.6 1829.7,382.1 1831.2,382.1" fill="none" stroke="#111" stroke-width="1.5" stroke-linecap="round" stroke-linejoin="round" />
<path d="M1784.6,438.2C1786.2,440.4 1790.8,446.8 1794.5,451.1C1798.1,455.4 1802.4,460.3 1806.4,464C1810.4,467.7 1816.3,471.8 1818.3,473.4" fill="none" stroke="#111" stroke-width="1.5" stroke-linecap="round" stroke-linejoin="round" />
<rect x="1627.6" y="21.4" width="367.2" height="156.4" stroke="#111" stroke-width="2.2" fill="none" />
<line x1="1638.4" y1="177.8" x2="1638.4" y2="174.2" stroke="#111" stroke-width="1.5" />
<line x1="1638.4" y1="21.4" x2="1638.4" y2="25" stroke="#111" stroke-width="1.5" />
<line x1="1658.2" y1="177.8" x2="1658.2" y2="175.4" stroke="#111" stroke-width="1.5" />
<line x1="1658.2" y1="21.4" x2="1658.2" y2="23.8" stroke="#111" stroke-width="1.5" />
<line x1="1678" y1="177.8" x2="1678" y2="174.2" stroke="#111" stroke-width="1.5" />
<line x1="1678" y1="21.4" x2="1678" y2="25" stroke="#111" stroke-width="1.5" />
<line x1="1697.8" y1="177.8" x2="1697.8" y2="175.4" stroke="#111" stroke-width="1.5" />
<line x1="1697.8" y1="21.4" x2="1697.8" y2="23.8" stroke="#111" stroke-width="1.5" />
<line x1="1717.5" y1="177.8" x2="1717.5" y2="174.2" stroke="#111" stroke-width="1.5" />
<line x1="1717.5" y1="21.4" x2="1717.5" y2="25" stroke="#111" stroke-width="1.5" />
<line x1="1737.3" y1="177.8" x2="1737.3" y2="175.4" stroke="#111" stroke-width="1.5" />
<line x1="1737.3" y1="21.4" x2="1737.3" y2="23.8" stroke="#111" stroke-width="1.5" />
<line x1="1757.1" y1="177.8" x2="1757.1" y2="174.2" stroke="#111" stroke-width="1.5" />
<line x1="1757.1" y1="21.4" x2="1757.1" y2="25" stroke="#111" stroke-width="1.5" />
<line x1="1776.9" y1="177.8" x2="1776.9" y2="175.4" stroke="#111" stroke-width="1.5" />
<line x1="1776.9" y1="21.4" x2="1776.9" y2="23.8" stroke="#111" stroke-width="1.5" />
<line x1="1796.7" y1="177.8" x2="1796.7" y2="174.2" stroke="#111" stroke-width="1.5" />
<line x1="1796.7" y1="21.4" x2="1796.7" y2="25" stroke="#111" stroke-width="1.5" />
<line x1="1816.5" y1="177.8" x2="1816.5" y2="175.4" stroke="#111" stroke-width="1.5" />
<line x1="1816.5" y1="21.4" x2="1816.5" y2="23.8" stroke="#111" stroke-width="1.5" />
<line x1="1836.2" y1="177.8" x2="1836.2" y2="174.2" stroke="#111" stroke-width="1.5" />
<line x1="1836.2" y1="21.4" x2="1836.2" y2="25" stroke="#111" stroke-width="1.5" />
<line x1="1856" y1="177.8" x2="1856" y2="175.4" stroke="#111" stroke-width="1.5" />
<line x1="1856" y1="21.4" x2="1856" y2="23.8" stroke="#111" stroke-width="1.5" />
<line x1="1875.8" y1="177.8" x2="1875.8" y2="174.2" stroke="#111" stroke-width="1.5" />
<line x1="1875.8" y1="21.4" x2="1875.8" y2="25" stroke="#111" stroke-width="1.5" />
<line x1="1895.6" y1="177.8" x2="1895.6" y2="175.4" stroke="#111" stroke-width="1.5" />
<line x1="1895.6" y1="21.4" x2="1895.6" y2="23.8" stroke="#111" stroke-width="1.5" />
<line x1="1915.4" y1="177.8" x2="1915.4" y2="174.2" stroke="#111" stroke-width="1.5" />
<line x1="1915.4" y1="21.4" x2="1915.4" y2="25" stroke="#111" stroke-width="1.5" />
<line x1="1935.2" y1="177.8" x2="1935.2" y2="175.4" stroke="#111" stroke-width="1.5" />
<line x1="1935.2" y1="21.4" x2="1935.2" y2="23.8" stroke="#111" stroke-width="1.5" />
<line x1="1955" y1="177.8" x2="1955" y2="174.2" stroke="#111" stroke-width="1.5" />
<line x1="1955" y1="21.4" x2="1955" y2="25" stroke="#111" stroke-width="1.5" />
<line x1="1974.7" y1="177.8" x2="1974.7" y2="175.4" stroke="#111" stroke-width="1.5" />
<line x1="1974.7" y1="21.4" x2="1974.7" y2="23.8" stroke="#111" stroke-width="1.5" />
<line x1="1994.5" y1="177.8" x2="1994.5" y2="174.2" stroke="#111" stroke-width="1.5" />
<line x1="1994.5" y1="21.4" x2="1994.5" y2="25" stroke="#111" stroke-width="1.5" />
<line x1="1627.6" y1="155.5" x2="1631.2" y2="155.5" stroke="#111" stroke-width="1.5" />
<text x="1623" y="162.7" font-size="20.5" text-anchor="end" font-weight="normal" font-family="'Liberation Sans',sans-serif" fill="#000" stroke="#000" stroke-width="0.6">2</text>
<line x1="1627.6" y1="133.1" x2="1629.8" y2="133.1" stroke="#111" stroke-width="1.5" />
<line x1="1627.6" y1="110.8" x2="1631.2" y2="110.8" stroke="#111" stroke-width="1.5" />
<text x="1623" y="118" font-size="20.5" text-anchor="end" font-weight="normal" font-family="'Liberation Sans',sans-serif" fill="#000" stroke="#000" stroke-width="0.6">3</text>
<line x1="1627.6" y1="88.4" x2="1629.8" y2="88.4" stroke="#111" stroke-width="1.5" />
<line x1="1627.6" y1="66.1" x2="1631.2" y2="66.1" stroke="#111" stroke-width="1.5" />
<text x="1623" y="73.3" font-size="20.5" text-anchor="end" font-weight="normal" font-family="'Liberation Sans',sans-serif" fill="#000" stroke="#000" stroke-width="0.6">4</text>
<line x1="1627.6" y1="43.7" x2="1629.8" y2="43.7" stroke="#111" stroke-width="1.5" />
<line x1="1627.6" y1="21.4" x2="1631.2" y2="21.4" stroke="#111" stroke-width="1.5" />
<text x="1623" y="28.6" font-size="20.5" text-anchor="end" font-weight="normal" font-family="'Liberation Sans',sans-serif" fill="#000" stroke="#000" stroke-width="0.6">5</text>
<text transform="translate(1602.5 99.8) rotate(-90)" font-size="18.9" text-anchor="middle" font-weight="bold" font-family="'Liberation Sans',sans-serif" fill="#000" >Voltage (V)</text>
<text x="1988.5" y="44.2" font-size="19.5" text-anchor="end" font-weight="bold" font-family="'Liberation Sans',sans-serif" fill="#000" >(a)</text>
<rect x="1627.6" y="185.6" width="367.2" height="156" stroke="#111" stroke-width="2.2" fill="none" />
<line x1="1638.4" y1="341.6" x2="1638.4" y2="338" stroke="#111" stroke-width="1.5" />
<line x1="1638.4" y1="185.6" x2="1638.4" y2="189.2" stroke="#111" stroke-width="1.5" />
<line x1="1658.2" y1="341.6" x2="1658.2" y2="339.2" stroke="#111" stroke-width="1.5" />
<line x1="1658.2" y1="185.6" x2="1658.2" y2="188" stroke="#111" stroke-width="1.5" />
<line x1="1678" y1="341.6" x2="1678" y2="338" stroke="#111" stroke-width="1.5" />
<line x1="1678" y1="185.6" x2="1678" y2="189.2" stroke="#111" stroke-width="1.5" />
<line x1="1697.8" y1="341.6" x2="1697.8" y2="339.2" stroke="#111" stroke-width="1.5" />
<line x1="1697.8" y1="185.6" x2="1697.8" y2="188" stroke="#111" stroke-width="1.5" />
<line x1="1717.5" y1="341.6" x2="1717.5" y2="338" stroke="#111" stroke-width="1.5" />
<line x1="1717.5" y1="185.6" x2="1717.5" y2="189.2" stroke="#111" stroke-width="1.5" />
<line x1="1737.3" y1="341.6" x2="1737.3" y2="339.2" stroke="#111" stroke-width="1.5" />
<line x1="1737.3" y1="185.6" x2="1737.3" y2="188" stroke="#111" stroke-width="1.5" />
<line x1="1757.1" y1="341.6" x2="1757.1" y2="338" stroke="#111" stroke-width="1.5" />
<line x1="1757.1" y1="185.6" x2="1757.1" y2="189.2" stroke="#111" stroke-width="1.5" />
<line x1="1776.9" y1="341.6" x2="1776.9" y2="339.2" stroke="#111" stroke-width="1.5" />
<line x1="1776.9" y1="185.6" x2="1776.9" y2="188" stroke="#111" stroke-width="1.5" />
<line x1="1796.7" y1="341.6" x2="1796.7" y2="338" stroke="#111" stroke-width="1.5" />
<line x1="1796.7" y1="185.6" x2="1796.7" y2="189.2" stroke="#111" stroke-width="1.5" />
<line x1="1816.5" y1="341.6" x2="1816.5" y2="339.2" stroke="#111" stroke-width="1.5" />
<line x1="1816.5" y1="185.6" x2="1816.5" y2="188" stroke="#111" stroke-width="1.5" />
<line x1="1836.2" y1="341.6" x2="1836.2" y2="338" stroke="#111" stroke-width="1.5" />
<line x1="1836.2" y1="185.6" x2="1836.2" y2="189.2" stroke="#111" stroke-width="1.5" />
<line x1="1856" y1="341.6" x2="1856" y2="339.2" stroke="#111" stroke-width="1.5" />
<line x1="1856" y1="185.6" x2="1856" y2="188" stroke="#111" stroke-width="1.5" />
<line x1="1875.8" y1="341.6" x2="1875.8" y2="338" stroke="#111" stroke-width="1.5" />
<line x1="1875.8" y1="185.6" x2="1875.8" y2="189.2" stroke="#111" stroke-width="1.5" />
<line x1="1895.6" y1="341.6" x2="1895.6" y2="339.2" stroke="#111" stroke-width="1.5" />
<line x1="1895.6" y1="185.6" x2="1895.6" y2="188" stroke="#111" stroke-width="1.5" />
<line x1="1915.4" y1="341.6" x2="1915.4" y2="338" stroke="#111" stroke-width="1.5" />
<line x1="1915.4" y1="185.6" x2="1915.4" y2="189.2" stroke="#111" stroke-width="1.5" />
<line x1="1935.2" y1="341.6" x2="1935.2" y2="339.2" stroke="#111" stroke-width="1.5" />
<line x1="1935.2" y1="185.6" x2="1935.2" y2="188" stroke="#111" stroke-width="1.5" />
<line x1="1955" y1="341.6" x2="1955" y2="338" stroke="#111" stroke-width="1.5" />
<line x1="1955" y1="185.6" x2="1955" y2="189.2" stroke="#111" stroke-width="1.5" />
<line x1="1974.7" y1="341.6" x2="1974.7" y2="339.2" stroke="#111" stroke-width="1.5" />
<line x1="1974.7" y1="185.6" x2="1974.7" y2="188" stroke="#111" stroke-width="1.5" />
<line x1="1994.5" y1="341.6" x2="1994.5" y2="338" stroke="#111" stroke-width="1.5" />
<line x1="1994.5" y1="185.6" x2="1994.5" y2="189.2" stroke="#111" stroke-width="1.5" />
<line x1="1627.6" y1="319.3" x2="1631.2" y2="319.3" stroke="#111" stroke-width="1.5" />
<text x="1623" y="326.5" font-size="20.5" text-anchor="end" font-weight="normal" font-family="'Liberation Sans',sans-serif" fill="#000" stroke="#000" stroke-width="0.6">2</text>
<line x1="1627.6" y1="297" x2="1629.8" y2="297" stroke="#111" stroke-width="1.5" />
<line x1="1627.6" y1="274.7" x2="1631.2" y2="274.7" stroke="#111" stroke-width="1.5" />
<text x="1623" y="281.9" font-size="20.5" text-anchor="end" font-weight="normal" font-family="'Liberation Sans',sans-serif" fill="#000" stroke="#000" stroke-width="0.6">3</text>
<line x1="1627.6" y1="252.5" x2="1629.8" y2="252.5" stroke="#111" stroke-width="1.5" />
<line x1="1627.6" y1="230.2" x2="1631.2" y2="230.2" stroke="#111" stroke-width="1.5" />
<text x="1623" y="237.4" font-size="20.5" text-anchor="end" font-weight="normal" font-family="'Liberation Sans',sans-serif" fill="#000" stroke="#000" stroke-width="0.6">4</text>
<line x1="1627.6" y1="207.9" x2="1629.8" y2="207.9" stroke="#111" stroke-width="1.5" />
<line x1="1627.6" y1="185.6" x2="1631.2" y2="185.6" stroke="#111" stroke-width="1.5" />
<text x="1623" y="192.8" font-size="20.5" text-anchor="end" font-weight="normal" font-family="'Liberation Sans',sans-serif" fill="#000" stroke="#000" stroke-width="0.6">5</text>
<text transform="translate(1602.5 254) rotate(-90)" font-size="18.9" text-anchor="middle" font-weight="bold" font-family="'Liberation Sans',sans-serif" fill="#000" >Voltage (V)</text>
<text x="1988.5" y="208.4" font-size="19.5" text-anchor="end" font-weight="bold" font-family="'Liberation Sans',sans-serif" fill="#000" >(b)</text>
<rect x="1627.6" y="349.4" width="367.2" height="155.8" stroke="#111" stroke-width="2.2" fill="none" />
<line x1="1638.4" y1="505.2" x2="1638.4" y2="501.6" stroke="#111" stroke-width="1.5" />
<line x1="1638.4" y1="349.4" x2="1638.4" y2="353" stroke="#111" stroke-width="1.5" />
<line x1="1658.2" y1="505.2" x2="1658.2" y2="502.8" stroke="#111" stroke-width="1.5" />
<line x1="1658.2" y1="349.4" x2="1658.2" y2="351.8" stroke="#111" stroke-width="1.5" />
<line x1="1678" y1="505.2" x2="1678" y2="501.6" stroke="#111" stroke-width="1.5" />
<line x1="1678" y1="349.4" x2="1678" y2="353" stroke="#111" stroke-width="1.5" />
<line x1="1697.8" y1="505.2" x2="1697.8" y2="502.8" stroke="#111" stroke-width="1.5" />
<line x1="1697.8" y1="349.4" x2="1697.8" y2="351.8" stroke="#111" stroke-width="1.5" />
<line x1="1717.5" y1="505.2" x2="1717.5" y2="501.6" stroke="#111" stroke-width="1.5" />
<line x1="1717.5" y1="349.4" x2="1717.5" y2="353" stroke="#111" stroke-width="1.5" />
<line x1="1737.3" y1="505.2" x2="1737.3" y2="502.8" stroke="#111" stroke-width="1.5" />
<line x1="1737.3" y1="349.4" x2="1737.3" y2="351.8" stroke="#111" stroke-width="1.5" />
<line x1="1757.1" y1="505.2" x2="1757.1" y2="501.6" stroke="#111" stroke-width="1.5" />
<line x1="1757.1" y1="349.4" x2="1757.1" y2="353" stroke="#111" stroke-width="1.5" />
<line x1="1776.9" y1="505.2" x2="1776.9" y2="502.8" stroke="#111" stroke-width="1.5" />
<line x1="1776.9" y1="349.4" x2="1776.9" y2="351.8" stroke="#111" stroke-width="1.5" />
<line x1="1796.7" y1="505.2" x2="1796.7" y2="501.6" stroke="#111" stroke-width="1.5" />
<line x1="1796.7" y1="349.4" x2="1796.7" y2="353" stroke="#111" stroke-width="1.5" />
<line x1="1816.5" y1="505.2" x2="1816.5" y2="502.8" stroke="#111" stroke-width="1.5" />
<line x1="1816.5" y1="349.4" x2="1816.5" y2="351.8" stroke="#111" stroke-width="1.5" />
<line x1="1836.2" y1="505.2" x2="1836.2" y2="501.6" stroke="#111" stroke-width="1.5" />
<line x1="1836.2" y1="349.4" x2="1836.2" y2="353" stroke="#111" stroke-width="1.5" />
<line x1="1856" y1="505.2" x2="1856" y2="502.8" stroke="#111" stroke-width="1.5" />
<line x1="1856" y1="349.4" x2="1856" y2="351.8" stroke="#111" stroke-width="1.5" />
<line x1="1875.8" y1="505.2" x2="1875.8" y2="501.6" stroke="#111" stroke-width="1.5" />
<line x1="1875.8" y1="349.4" x2="1875.8" y2="353" stroke="#111" stroke-width="1.5" />
<line x1="1895.6" y1="505.2" x2="1895.6" y2="502.8" stroke="#111" stroke-width="1.5" />
<line x1="1895.6" y1="349.4" x2="1895.6" y2="351.8" stroke="#111" stroke-width="1.5" />
<line x1="1915.4" y1="505.2" x2="1915.4" y2="501.6" stroke="#111" stroke-width="1.5" />
<line x1="1915.4" y1="349.4" x2="1915.4" y2="353" stroke="#111" stroke-width="1.5" />
<line x1="1935.2" y1="505.2" x2="1935.2" y2="502.8" stroke="#111" stroke-width="1.5" />
<line x1="1935.2" y1="349.4" x2="1935.2" y2="351.8" stroke="#111" stroke-width="1.5" />
<line x1="1955" y1="505.2" x2="1955" y2="501.6" stroke="#111" stroke-width="1.5" />
<line x1="1955" y1="349.4" x2="1955" y2="353" stroke="#111" stroke-width="1.5" />
<line x1="1974.7" y1="505.2" x2="1974.7" y2="502.8" stroke="#111" stroke-width="1.5" />
<line x1="1974.7" y1="349.4" x2="1974.7" y2="351.8" stroke="#111" stroke-width="1.5" />
<line x1="1994.5" y1="505.2" x2="1994.5" y2="501.6" stroke="#111" stroke-width="1.5" />
<line x1="1994.5" y1="349.4" x2="1994.5" y2="353" stroke="#111" stroke-width="1.5" />
<line x1="1627.6" y1="482.9" x2="1631.2" y2="482.9" stroke="#111" stroke-width="1.5" />
<text x="1623" y="490.1" font-size="20.5" text-anchor="end" font-weight="normal" font-family="'Liberation Sans',sans-serif" fill="#000" stroke="#000" stroke-width="0.6">2</text>
<line x1="1627.6" y1="460.7" x2="1629.8" y2="460.7" stroke="#111" stroke-width="1.5" />
<line x1="1627.6" y1="438.4" x2="1631.2" y2="438.4" stroke="#111" stroke-width="1.5" />
<text x="1623" y="445.6" font-size="20.5" text-anchor="end" font-weight="normal" font-family="'Liberation Sans',sans-serif" fill="#000" stroke="#000" stroke-width="0.6">3</text>
<line x1="1627.6" y1="416.2" x2="1629.8" y2="416.2" stroke="#111" stroke-width="1.5" />
<line x1="1627.6" y1="393.9" x2="1631.2" y2="393.9" stroke="#111" stroke-width="1.5" />
<text x="1623" y="401.1" font-size="20.5" text-anchor="end" font-weight="normal" font-family="'Liberation Sans',sans-serif" fill="#000" stroke="#000" stroke-width="0.6">4</text>
<line x1="1627.6" y1="371.7" x2="1629.8" y2="371.7" stroke="#111" stroke-width="1.5" />
<line x1="1627.6" y1="349.4" x2="1631.2" y2="349.4" stroke="#111" stroke-width="1.5" />
<text x="1623" y="356.6" font-size="20.5" text-anchor="end" font-weight="normal" font-family="'Liberation Sans',sans-serif" fill="#000" stroke="#000" stroke-width="0.6">5</text>
<text transform="translate(1602.5 419.3) rotate(-90)" font-size="18.9" text-anchor="middle" font-weight="bold" font-family="'Liberation Sans',sans-serif" fill="#000" >Voltage (V)</text>
<text x="1988.5" y="372.2" font-size="19.5" text-anchor="end" font-weight="bold" font-family="'Liberation Sans',sans-serif" fill="#000" >(c)</text>
<text x="1638.4" y="527" font-size="20.5" text-anchor="middle" font-weight="normal" font-family="'Liberation Sans',sans-serif" fill="#000" stroke="#000" stroke-width="0.6">0</text>
<text x="1678" y="527" font-size="20.5" text-anchor="middle" font-weight="normal" font-family="'Liberation Sans',sans-serif" fill="#000" stroke="#000" stroke-width="0.6">20</text>
<text x="1717.5" y="527" font-size="20.5" text-anchor="middle" font-weight="normal" font-family="'Liberation Sans',sans-serif" fill="#000" stroke="#000" stroke-width="0.6">40</text>
<text x="1757.1" y="527" font-size="20.5" text-anchor="middle" font-weight="normal" font-family="'Liberation Sans',sans-serif" fill="#000" stroke="#000" stroke-width="0.6">60</text>
<text x="1796.7" y="527" font-size="20.5" text-anchor="middle" font-weight="normal" font-family="'Liberation Sans',sans-serif" fill="#000" stroke="#000" stroke-width="0.6">80</text>
<text x="1836.2" y="527" font-size="20.5" text-anchor="middle" font-weight="normal" font-family="'Liberation Sans',sans-serif" fill="#000" stroke="#000" stroke-width="0.6">100</text>
<text x="1875.8" y="527" font-size="20.5" text-anchor="middle" font-weight="normal" font-family="'Liberation Sans',sans-serif" fill="#000" stroke="#000" stroke-width="0.6">120</text>
<text x="1915.4" y="527" font-size="20.5" text-anchor="middle" font-weight="normal" font-family="'Liberation Sans',sans-serif" fill="#000" stroke="#000" stroke-width="0.6">140</text>
<text x="1955" y="527" font-size="20.5" text-anchor="middle" font-weight="normal" font-family="'Liberation Sans',sans-serif" fill="#000" stroke="#000" stroke-width="0.6">160</text>
<text x="1994.5" y="527" font-size="20.5" text-anchor="middle" font-weight="normal" font-family="'Liberation Sans',sans-serif" fill="#000" stroke="#000" stroke-width="0.6">180</text>
<text x="1809" y="556" text-anchor="middle" font-family="'Liberation Sans',sans-serif" font-size="19.5" font-weight="bold" fill="#111">Specific capacity (mAh g<tspan font-size="11" dy="-9">&#8722;1</tspan><tspan dy="9">)</tspan></text>
<text x="1837" y="163.8" font-size="14.5" text-anchor="middle" font-weight="bold" font-family="'Liberation Sans',sans-serif" fill="#222" >10</text>
<text x="1863.5" y="163.8" font-size="14.5" text-anchor="middle" font-weight="bold" font-family="'Liberation Sans',sans-serif" fill="#222" >5</text>
<text x="1895.3" y="163.8" font-size="14.5" text-anchor="middle" font-weight="bold" font-family="'Liberation Sans',sans-serif" fill="#222" >3</text>
<text x="1934.4" y="163.8" font-size="14.5" text-anchor="middle" font-weight="bold" font-family="'Liberation Sans',sans-serif" fill="#222" >1</text>
<text x="1881.7" y="328.2" font-size="14.5" text-anchor="middle" font-weight="bold" font-family="'Liberation Sans',sans-serif" fill="#222" >10</text>
<text x="1902.8" y="328.2" font-size="14.5" text-anchor="middle" font-weight="bold" font-family="'Liberation Sans',sans-serif" fill="#222" >531</text>
<text x="1823.4" y="492.4" font-size="14.5" text-anchor="middle" font-weight="bold" font-family="'Liberation Sans',sans-serif" fill="#222" >10531</text>
<!-- p_b1 -->
<polyline points="83.2,951.5 83.9,951.3 87.2,951.8 89.1,951.5 89.8,951.8 93.7,951.6 96.4,951.1 99,951.6 100.3,951.2 103.6,951.5 106.9,950.9 108.2,951.5 110.2,950.6 112.2,951.2 119.4,950.7 121.4,951 126.7,950.3 128.7,949 129.3,948.2 130.6,944.4 132,939.3 132.6,934.3 133.9,899.1 134.6,891.4 135.9,931.9 136.6,942.2 137.2,946.4 137.9,948.1 139.2,949.8 141.2,950.4 142.5,950.3 144.5,950.8 150.4,951 152.4,951.4 158.3,950.8 162.9,951.1 165.6,950.5 168.2,951.1 171.5,950.9 172.8,951.2 174.1,950.8 176.1,951.3 178.1,951 179.4,951.4 181.4,951 192.6,951.2 199.2,950.8 205.1,951.4 208.4,951 211,951.5 213.7,950.7 216.3,951.5 220.3,951.3 222.2,950.7 223.6,951.2 230.1,950.8 234.1,950.8 236.1,951.3 239.4,950.8 242,951.2 249.9,950.9 251.9,951.2 253.9,950.8 255.8,951.2 258.5,950.6 264.4,951.2 267.7,950.4 268.4,949.7 269.7,947.3 271,943.1 271.7,943.9 273.6,949.5 274.9,950.5 277.6,951 283.5,950.6 285.5,950.9 286.8,950.5 288.8,950.7 292.1,950.1 293.4,948.7 294.1,946.9 295.4,938.9 296,937.4 298,947.9 299.3,949.8 300,950.1 302,950 303.3,949.4 303.9,948.6 304.6,946.7 306.6,935.5 308.6,946.6 309.2,948.7 309.9,949.7 311.2,949.6 313.2,950.8 315.1,950.5 318.4,950.8 319.8,950.5 321.1,950.9 325,950.6 328.3,950.9 331,950.2 332.9,950.8 337.5,950.3 338.9,949.7 340.8,947.6 341.5,946.1 342.2,942.3 342.8,932.8 344.1,893.2 344.8,893.3 346.1,932.7 346.8,942.1 347.4,945.9 348.8,948.4 350.1,949.6 352.7,950.5 354.7,950.7 360,950.5 363.9,950.8 367.2,950.4 369.8,949.3 372.5,946.8 373.1,947.1 374.4,948.8 376.4,950.1 381,951.1 383,950.6 392.9,951 397.5,950.5 406.1,951 410.7,950.7 412,950.9 414,950.5 417.3,951 421.2,950.5 423.9,950.9 425.8,950.3 433.1,950.5 434.4,950.3 436.4,949.2 437,948.3 439,942.7 439.7,943.2 441.7,948.6 443,950 446.3,950.7 449.6,950.5 451.5,950.9 453.5,950.3 457.5,950.8 468,950.6 469.3,950.4 470.7,950.6 473.9,949.4 475.3,946.3 476.6,941.4 477.2,940.7 479.9,948.7 481.2,949.9 483.8,950.5 493.7,950.3 495.7,950.7 499.6,950.4 504.9,951 508.2,950.4 512.2,950.9 516.1,949.9 518.1,950.2 520.1,949.1 520.7,948.3 521.4,946.5 522.7,940.9 523.4,940.3 526,948.4 527.3,949.5 530,950.6 532.6,950.2 539.2,950.6 541.8,949 544.5,945 545.1,945 547.7,949 551,950.5 553,950.2 555,950.5 558.9,948.9 560.9,947.5 561.6,947.5 563.6,949 566.2,949.6 568.2,949.4 570.2,948.4 572.1,948.9 574.1,950.1 577.4,950.4" fill="none" stroke="#484848" stroke-width="1.9" stroke-linejoin="round" />
<polyline points="83.2,894.7 85.2,894.4 87.2,894.6 91.1,894 92.4,894.5 94.4,893.9 98.4,894.3 99.7,893.8 103,894.1 104.9,893.6 106.3,893.9 108.2,893.7 110.9,893.9 112.9,893.5 118.1,894.1 119.4,893.5 122.7,893.7 126.7,892.8 128,892.3 128.7,891.5 130,887.9 132,879.6 132.6,871.6 133.9,834.4 134.6,842.9 135.9,881.2 136.6,887.7 137.2,890.1 138.6,891.8 143.8,893.6 147.1,893.2 153,893.7 153.7,893.5 155.7,893.9 161,893.7 162.3,894.1 168.2,893.6 171.5,893.9 173.5,893.4 176.1,894.1 178.1,893.4 181.4,893.7 189.9,893.5 191.3,893.9 193.2,893.3 198.5,893.7 204.4,893.5 206.4,894 212.4,893.5 214.3,893.9 217,893.4 224.2,893.8 226.2,893.2 228.8,894 232.1,893.3 234.8,894 236.7,893.4 238.7,893.9 249.3,893.3 253.9,893.7 255.8,893.3 260.5,893.6 262.4,892.9 263.7,893.6 267.7,893 268.4,892.6 269,891.5 270.3,886.9 271,886 273,891.9 274.3,893.1 275.6,893.5 283.5,893.1 286.8,893.4 291.4,892.9 292.7,892.3 294.1,888.6 295.4,881.3 296,882.7 297.4,890.1 298,891.7 299.3,892.5 301.3,892.9 302.6,892.4 303.9,890.7 305.9,880.4 306.6,880.5 308.6,890.9 309.2,892.2 309.9,892.7 311.2,893.1 313.8,893.1 315.8,893.4 320.4,893.3 322.4,892.9 323.7,893.3 325,893 329.6,893.4 331,893 333.6,893.4 336.2,892.8 340.2,891 340.8,890 341.5,887.8 342.2,882.5 344.1,837.4 345.5,869.7 346.1,882 346.8,887.5 348.1,890.9 348.8,891.5 350.7,891.8 352,892.5 355.3,893.2 361.3,893 363.2,893.3 368.5,892.7 369.8,892.1 371.8,890.1 374.4,892.2 377.7,893.2 381,893 383.7,893.5 385.7,892.9 387.6,893.5 388.9,892.9 391.6,893.3 393.6,893 394.9,893.4 396.2,893.1 402.8,893.4 404.8,893 406.1,893.3 416,893.2 417.9,892.9 419.3,893.2 420.6,893 425.8,893.3 429.1,893.1 430.5,892.5 433.8,892.8 435.7,891.9 436.4,891.2 438.4,885.8 439,885.5 441.7,891.6 443,892.6 445,892.5 446.9,892.9 448.9,892.7 454.8,893.2 460.1,892.7 464.1,893.1 466,892.8 469.3,892.9 473.3,892.3 474.6,890.1 476.6,884.6 477.2,884.9 479.2,890.7 479.9,891.5 481.2,892.2 485.1,893 487.8,893.1 489.8,892.3 491.1,892.9 497,893.2 502.3,892.8 513.5,893 516.1,892.5 518.1,892.7 520.1,891.3 520.7,890.3 522.7,884.6 523.4,885 524.7,889.1 526,891.7 526.7,892.3 528,892.6 530,892.4 532.6,893 539.2,892.5 541.8,890.9 543.8,888.3 544.5,888.1 548.4,892.5 552.4,892.7 554.3,892.2 556.3,892.6 558.9,890.5 560.9,889.9 562.9,891.3 564.9,891.9 567.5,892.2 568.2,891.5 569.5,891 572.1,892 577.4,892.9" fill="none" stroke="#f04a4a" stroke-width="1.9" stroke-linejoin="round" />
<polyline points="83.2,833.2 85.2,833.2 86.5,833.7 90.4,833 93.7,832.9 94.4,833.2 102.3,832.5 104.3,832.8 110.9,832.5 114.2,832.9 121.4,832 123.4,832.3 126,831.5 128,829.5 129.3,826.3 131.3,817.7 132,808.4 133.3,765.7 133.9,775.3 135.3,818.7 135.9,826.2 136.6,828.8 137.2,829.9 139.9,831.7 141.8,832.1 144.5,832.4 147.8,832.1 149.8,832.9 151.1,832.6 152.4,832.9 155.7,832.4 157.7,832.7 159.6,832.3 161.6,832.8 166.2,832.4 168.9,833 170.2,832.5 172.2,832.8 174.1,832.3 176.8,832.6 178.7,832.2 181.4,832.6 183.4,832.4 185.3,832.7 188,832.2 193.2,832.6 195.9,832.2 203.1,832.8 209.1,832.4 211.7,832.7 213.7,832.4 220.3,832.8 222.9,832.3 224.9,832.8 228.2,832.2 232.1,832.6 238,832.4 240,832 242,832.4 247.9,832.5 249.3,832 251.2,832.6 254.5,832.6 258.5,832.5 260.5,831.9 262.4,832.3 265.1,832.2 267.7,831.4 268.4,830 269.7,824.7 270.3,824.1 271.7,828.7 273.6,831.6 274.3,832 275.6,831.8 276.9,832.2 278.9,832 280.9,832.4 282.9,831.8 288.1,831.9 291.4,831.5 292.1,831 292.7,829.7 293.4,827 294.7,819.2 295.4,820.3 297.4,830.2 298.7,831.3 302,831.1 302.6,830.7 303.9,827.2 305.3,819.5 305.9,819.4 307.9,829.8 309.2,831.4 310.5,831.9 312.5,831.5 319.1,832.4 321.1,832 323.1,832.4 325,831.9 329,832 331,831.6 332.9,831.9 336.9,831.1 338.9,830.2 340.2,828.3 340.8,826.1 341.5,820.4 343.5,772.7 344.8,807 345.5,820.2 346.1,826 346.8,828.3 348.1,830.1 349.4,830.9 350.7,831 352,831.7 354.7,831.8 358,831.4 360.6,832 366.5,831.6 368.5,831.2 371.2,828.3 371.8,828.3 373.8,830.4 375.1,831.3 377.7,831.9 383,831.6 386.3,832.1 388.3,831.8 389.6,832.2 393.6,831.7 394.9,832.1 396.2,831.9 397.5,832.2 404.1,831.8 408.7,832.3 411.3,831.8 413.3,832.3 421.2,831.9 423.2,831.4 425.2,831.9 426.5,831.7 429.1,831.9 433.1,831.4 435.1,830.4 436.4,828.4 437.7,824.3 438.4,823.6 441,830.3 443.6,831.5 445.6,831.8 451.5,831.7 452.9,832.1 454.8,831.5 457.5,832.1 461.4,831.8 466,832.1 469.3,831.1 470.7,831.2 472.6,830.6 473.9,828.4 475.9,821.6 476.6,822.4 477.9,827.4 479.2,830.4 482.5,831.7 484.5,831.2 485.8,831.6 489.8,831.9 491.7,831.5 499,831.9 501,831.3 502.3,831.7 504.3,831.4 508.2,831.9 512.8,831.7 514.1,831.3 517.4,831.4 519.4,829.7 522,822.9 522.7,823.5 524,827.8 525.3,830.2 526.7,831 529.3,831.4 531.9,831.7 535.2,831.5 537.9,831.2 540.5,830.5 543.1,826.7 543.8,826.4 546.4,830.2 548.4,831.1 550.4,831.3 552.4,831.2 554.3,831.5 557.6,830.1 559.6,828.3 560.3,828.3 564.2,830.8 566.2,830.8 567.5,830.2 568.8,830 570.2,830.1 572.1,831 574.1,831.2 576.1,831.4 577.4,831.1" fill="none" stroke="#2b62d9" stroke-width="1.9" stroke-linejoin="round" />
<polyline points="83.2,773.2 88.5,773.4 91.1,772.8 93.1,773.1 95.1,772.7 97.7,772.8 99.7,772.3 101,772.8 103,772.5 104.9,772.7 108.9,772.2 110.2,772.5 114.2,772.4 115.5,772.1 117.5,772.7 118.8,772 121.4,772.4 124.1,772.1 125.4,771.4 127.3,771.2 128.7,769.2 131.3,760.6 132,753.8 133.3,722.4 133.9,729.9 135.3,761.9 135.9,767 136.6,769.1 137.9,771.2 139.2,771.3 141.8,772.1 153.7,772.4 157,772.1 160.3,772.6 161.6,772 163.6,772.5 167.5,772.6 169.5,772.2 170.8,772.5 174.1,772.2 178.7,772.5 180.7,772 184.7,772.5 187.3,772.2 189.3,772.7 191.3,772.1 193.2,772.5 195.9,772.2 197.9,772.6 199.8,772.2 201.8,772.5 205.1,772.1 207.1,772.5 209.1,771.9 211.7,772.5 216.3,771.9 218.3,772.5 219.6,772.4 221.6,771.8 224.9,772.8 226.2,772.3 230.8,772.4 232.8,772.1 235.4,772.8 237.4,772.1 240.7,772.3 242,772 243.3,772.4 247.3,772.1 253.2,772.1 253.9,771.8 255.8,772.4 258.5,772.1 261.8,772.3 264.4,772.1 267.7,771.2 268.4,770.1 269.7,765.9 270.3,765.1 272.3,770.9 273,771.5 274.3,771.6 275.6,772.2 278.2,772.3 281.5,771.8 283.5,772.1 286.2,771.7 290.1,771.9 291.4,771.6 292.7,770 294.7,761.4 295.4,762.7 296.7,769 297.4,770.3 298,770.8 298.7,770.7 300.6,771.6 302,771.1 303.3,769.7 305.3,762.5 305.9,762.4 307.9,770 308.6,771 309.2,771.3 313.8,771.5 315.1,771.9 318.4,772.2 321.7,771.8 323.7,772.4 329.6,771.5 331.6,772 334.3,771.8 335.6,771.4 336.9,771.6 338.2,770.9 340.2,768.8 340.8,767.1 341.5,762.7 343.5,727.1 344.8,753.2 345.5,763.1 346.1,767.4 347.4,769.9 348.8,770.7 351.4,771.6 356,771.4 357.3,771.8 361.9,772 367.2,771.6 369.2,770.5 371.2,768.7 371.8,768.5 374.4,771 376.4,771.7 378.4,771.4 381.7,771.9 391.6,772.1 393.6,771.5 394.9,772 401.5,771.4 404.8,771.8 406.1,771.5 408.1,772 417.3,771.9 418.6,771.5 423.9,771.8 425.8,771.3 427.8,771.8 432.4,771.4 434.4,771 435.7,770 437.7,765.1 438.4,764.7 441,770.2 442.3,771 448.2,771.8 450.2,771.3 452.2,771.8 458.8,771.5 460.1,772 463.4,772 466,771.2 468.7,771.3 472.6,770.5 473.9,768.3 475.9,763 476.6,763.5 478.6,769 479.9,770.9 481.2,771.2 483.2,771 484.5,771.5 486.5,771.3 489.1,771.7 492.4,771.3 498.3,771.8 502.9,771.3 506.9,771.8 508.2,771.4 512.8,771.5 514.8,771.1 516.8,771.1 518.8,770.5 519.4,769.9 522,763.5 522.7,764.1 524,767.9 525.3,770.3 526,770.9 530,771.6 533.3,770.9 539.8,770.7 542.5,768.4 543.8,767.7 545.8,769.9 548.4,771.2 554.3,771.3 555.7,771.1 558.3,770 560.3,768.5 560.9,768.6 562.2,769.6 564.9,770.8 566.9,770 568.8,770.1 570.8,770.9 575.4,771.5 577.4,771" fill="none" stroke="#1d9c60" stroke-width="1.9" stroke-linejoin="round" />
<rect x="83.2" y="684.4" width="494.2" height="293.2" stroke="#3c3c3c" stroke-width="2.6" fill="none" />
<line x1="83.2" y1="977.6" x2="83.2" y2="972.6" stroke="#3c3c3c" stroke-width="1.6" />
<line x1="124.4" y1="977.6" x2="124.4" y2="974.6" stroke="#3c3c3c" stroke-width="1.6" />
<line x1="165.6" y1="977.6" x2="165.6" y2="972.6" stroke="#3c3c3c" stroke-width="1.6" />
<line x1="206.8" y1="977.6" x2="206.8" y2="974.6" stroke="#3c3c3c" stroke-width="1.6" />
<line x1="247.9" y1="977.6" x2="247.9" y2="972.6" stroke="#3c3c3c" stroke-width="1.6" />
<line x1="289.1" y1="977.6" x2="289.1" y2="974.6" stroke="#3c3c3c" stroke-width="1.6" />
<line x1="330.3" y1="977.6" x2="330.3" y2="972.6" stroke="#3c3c3c" stroke-width="1.6" />
<line x1="371.5" y1="977.6" x2="371.5" y2="974.6" stroke="#3c3c3c" stroke-width="1.6" />
<line x1="412.7" y1="977.6" x2="412.7" y2="972.6" stroke="#3c3c3c" stroke-width="1.6" />
<line x1="453.8" y1="977.6" x2="453.8" y2="974.6" stroke="#3c3c3c" stroke-width="1.6" />
<line x1="495" y1="977.6" x2="495" y2="972.6" stroke="#3c3c3c" stroke-width="1.6" />
<line x1="536.2" y1="977.6" x2="536.2" y2="974.6" stroke="#3c3c3c" stroke-width="1.6" />
<line x1="577.4" y1="977.6" x2="577.4" y2="972.6" stroke="#3c3c3c" stroke-width="1.6" />
<text x="83.2" y="996" font-size="14.5" text-anchor="middle" font-weight="bold" font-family="'Liberation Serif',serif" fill="#222" >10</text>
<text x="165.6" y="996" font-size="14.5" text-anchor="middle" font-weight="bold" font-family="'Liberation Serif',serif" fill="#222" >20</text>
<text x="247.9" y="996" font-size="14.5" text-anchor="middle" font-weight="bold" font-family="'Liberation Serif',serif" fill="#222" >30</text>
<text x="330.3" y="996" font-size="14.5" text-anchor="middle" font-weight="bold" font-family="'Liberation Serif',serif" fill="#222" >40</text>
<text x="412.7" y="996" font-size="14.5" text-anchor="middle" font-weight="bold" font-family="'Liberation Serif',serif" fill="#222" >50</text>
<text x="495" y="996" font-size="14.5" text-anchor="middle" font-weight="bold" font-family="'Liberation Serif',serif" fill="#222" >60</text>
<text x="577.4" y="996" font-size="14.5" text-anchor="middle" font-weight="bold" font-family="'Liberation Serif',serif" fill="#222" >70</text>
<text x="331" y="1024.3" font-size="18" text-anchor="middle" font-weight="bold" font-family="'Liberation Serif',serif" fill="#222" >2-theta (degree)</text>
<text transform="translate(62.5 831) rotate(-90)" font-size="18.2" text-anchor="middle" font-weight="bold" font-family="'Liberation Serif',serif" fill="#222" >Intensity (a.u.)</text>
<line x1="454.5" y1="695.2" x2="481.5" y2="695.2" stroke="#1d9c60" stroke-width="1.6" />
<text x="485" y="700.4" font-size="15.5" text-anchor="start" font-weight="bold" font-family="'Liberation Serif',serif" fill="#222" >NFM-15T</text>
<line x1="454.5" y1="714.2" x2="481.5" y2="714.2" stroke="#2b62d9" stroke-width="1.6" />
<text x="485" y="719.4" font-size="15.5" text-anchor="start" font-weight="bold" font-family="'Liberation Serif',serif" fill="#222" >NFM-10T</text>
<line x1="454.5" y1="734" x2="481.5" y2="734" stroke="#f04a4a" stroke-width="1.6" />
<text x="485" y="739.2" font-size="15.5" text-anchor="start" font-weight="bold" font-family="'Liberation Serif',serif" fill="#222" >NFM-5T</text>
<line x1="454.5" y1="753.4" x2="481.5" y2="753.4" stroke="#484848" stroke-width="1.6" />
<text x="485" y="758.6" font-size="15.5" text-anchor="start" font-weight="bold" font-family="'Liberation Serif',serif" fill="#222" >NFM</text>
<!-- p_b2 -->
<g filter="url(#soft)">
<polygon points="778.2,694.5 843.5,691.9 917.5,692.8 1047.5,697.1 1042.4,732 1013.8,733.4 984,734.9 952.8,736.3 906.7,735.2 861.2,733.4 815.6,731.5 770.9,730.1" fill="#17a565" stroke="none" stroke-width="0" />
<polygon points="778.2,694.5 843.5,691.9 917.5,692.8 1047.5,697.1 1019.5,698.2 990.1,698.6 959.7,699.6 927,700.6 881.2,699.2 835.2,697.7 789.8,696.7" fill="#11935a" stroke="none" stroke-width="0" />
<polygon points="789.8,696.7 835.2,697.7 815.6,731.5" fill="#13995c" stroke="none" stroke-width="0" />
<polygon points="789.8,696.7 804.8,697 815.6,731.5" fill="#0d8550" stroke="none" stroke-width="0" opacity="0.8"/>
<polygon points="835.2,697.7 881.2,699.2 861.2,733.4" fill="#13995c" stroke="none" stroke-width="0" />
<polygon points="835.2,697.7 850.4,698.2 861.2,733.4" fill="#0d8550" stroke="none" stroke-width="0" opacity="0.8"/>
<polygon points="881.2,699.2 927,700.6 906.7,735.2" fill="#13995c" stroke="none" stroke-width="0" />
<polygon points="881.2,699.2 896.3,699.6 906.7,735.2" fill="#0d8550" stroke="none" stroke-width="0" opacity="0.8"/>
<polygon points="927,700.6 959.7,699.6 952.8,736.3" fill="#13995c" stroke="none" stroke-width="0" />
<polygon points="927,700.6 937.8,700.3 952.8,736.3" fill="#0d8550" stroke="none" stroke-width="0" opacity="0.8"/>
<polygon points="959.7,699.6 990.1,698.6 984,734.9" fill="#17a565" stroke="none" stroke-width="0" />
<polygon points="959.7,699.6 969.7,699.3 984,734.9" fill="#0d8550" stroke="none" stroke-width="0" opacity="0.8"/>
<polygon points="990.1,698.6 1019.5,698.2 1013.8,733.4" fill="#17a565" stroke="none" stroke-width="0" />
<polygon points="990.1,698.6 999.8,698.4 1013.8,733.4" fill="#0d8550" stroke="none" stroke-width="0" opacity="0.8"/>
<polygon points="1019.5,698.2 1047.5,697.1 1042.4,732" fill="#17a565" stroke="none" stroke-width="0" />
<polygon points="1019.5,698.2 1028.7,697.8 1042.4,732" fill="#0d8550" stroke="none" stroke-width="0" opacity="0.8"/>
<polygon points="778.2,694.5 789.8,696.7 770.9,730.1" fill="#0d8550" stroke="none" stroke-width="0" />
<polygon points="770.9,730.1 789.8,696.7 815.6,731.5" fill="#1fb673" stroke="none" stroke-width="0" />
<circle cx="792.7" cy="717.4" r="3.6" fill="#17988a" opacity="0.8"/>
<circle cx="804.6" cy="727" r="1.6" fill="#3f9a50" opacity="0.8"/>
<line x1="789.8" y1="696.7" x2="770.9" y2="730.1" stroke="#8fe0b8" stroke-width="0.8" />
<line x1="789.8" y1="696.7" x2="815.6" y2="731.5" stroke="#8fe0b8" stroke-width="0.8" />

<polygon points="815.6,731.5 835.2,697.7 861.2,733.4" fill="#1fb673" stroke="none" stroke-width="0" />
<circle cx="838" cy="718.8" r="3.6" fill="#17988a" opacity="0.8"/>
<circle cx="850.2" cy="728.9" r="1.6" fill="#3f9a50" opacity="0.8"/>
<line x1="835.2" y1="697.7" x2="815.6" y2="731.5" stroke="#8fe0b8" stroke-width="0.8" />
<line x1="835.2" y1="697.7" x2="861.2" y2="733.4" stroke="#8fe0b8" stroke-width="0.8" />
<line x1="823.2" y1="694.7" x2="815.6" y2="731.5" stroke="#9fe0c0" stroke-width="0.7" stroke-dasharray="2 1.5" opacity="0.7"/>
<polygon points="861.2,733.4 881.2,699.2 906.7,735.2" fill="#1fb673" stroke="none" stroke-width="0" />
<circle cx="883.7" cy="720.5" r="3.6" fill="#17988a" opacity="0.8"/>
<circle cx="895.7" cy="730.7" r="1.6" fill="#3f9a50" opacity="0.8"/>
<line x1="881.2" y1="699.2" x2="861.2" y2="733.4" stroke="#8fe0b8" stroke-width="0.8" />
<line x1="881.2" y1="699.2" x2="906.7" y2="735.2" stroke="#8fe0b8" stroke-width="0.8" />
<line x1="869.2" y1="696.2" x2="861.2" y2="733.4" stroke="#9fe0c0" stroke-width="0.7" stroke-dasharray="2 1.5" opacity="0.7"/>
<polygon points="906.7,735.2 927,700.6 952.8,736.3" fill="#1fb673" stroke="none" stroke-width="0" />
<circle cx="929.5" cy="721.9" r="3.6" fill="#17988a" opacity="0.8"/>
<circle cx="941.8" cy="731.8" r="1.6" fill="#3f9a50" opacity="0.8"/>
<line x1="927" y1="700.6" x2="906.7" y2="735.2" stroke="#8fe0b8" stroke-width="0.8" />
<line x1="927" y1="700.6" x2="952.8" y2="736.3" stroke="#8fe0b8" stroke-width="0.8" />
<line x1="915" y1="697.6" x2="906.7" y2="735.2" stroke="#9fe0c0" stroke-width="0.7" stroke-dasharray="2 1.5" opacity="0.7"/>
<polygon points="952.8,736.3 959.7,699.6 984,734.9" fill="#22bb7a" stroke="none" stroke-width="0" />
<circle cx="965.8" cy="721.4" r="3.6" fill="#17988a" opacity="0.8"/>
<circle cx="973" cy="730.4" r="1.6" fill="#3f9a50" opacity="0.8"/>
<line x1="959.7" y1="699.6" x2="952.8" y2="736.3" stroke="#8fe0b8" stroke-width="0.8" />
<line x1="959.7" y1="699.6" x2="984" y2="734.9" stroke="#8fe0b8" stroke-width="0.8" />
<line x1="947.7" y1="696.6" x2="952.8" y2="736.3" stroke="#9fe0c0" stroke-width="0.7" stroke-dasharray="2 1.5" opacity="0.7"/>
<polygon points="984,734.9 990.1,698.6 1013.8,733.4" fill="#22bb7a" stroke="none" stroke-width="0" />
<circle cx="996.3" cy="720.1" r="3.6" fill="#17988a" opacity="0.8"/>
<circle cx="1002.8" cy="728.9" r="1.6" fill="#3f9a50" opacity="0.8"/>
<line x1="990.1" y1="698.6" x2="984" y2="734.9" stroke="#8fe0b8" stroke-width="0.8" />
<line x1="990.1" y1="698.6" x2="1013.8" y2="733.4" stroke="#8fe0b8" stroke-width="0.8" />
<line x1="978.1" y1="695.6" x2="984" y2="734.9" stroke="#9fe0c0" stroke-width="0.7" stroke-dasharray="2 1.5" opacity="0.7"/>
<polygon points="1013.8,733.4 1019.5,698.2 1042.4,732" fill="#22bb7a" stroke="none" stroke-width="0" />
<circle cx="1025.5" cy="719.1" r="3.6" fill="#17988a" opacity="0.8"/>
<circle cx="1031.4" cy="727.5" r="1.6" fill="#3f9a50" opacity="0.8"/>
<line x1="1019.5" y1="698.2" x2="1013.8" y2="733.4" stroke="#8fe0b8" stroke-width="0.8" />
<line x1="1019.5" y1="698.2" x2="1042.4" y2="732" stroke="#8fe0b8" stroke-width="0.8" />
<line x1="1007.5" y1="695.2" x2="1013.8" y2="733.4" stroke="#9fe0c0" stroke-width="0.7" stroke-dasharray="2 1.5" opacity="0.7"/>
<circle cx="778.6" cy="693.8" r="2.5" fill="#ee3a3a" />
<circle cx="811.5" cy="692.3" r="2.5" fill="#ee3a3a" />
<circle cx="823.2" cy="694.5" r="2.5" fill="#ee3a3a" />
<circle cx="843.5" cy="691.3" r="2.5" fill="#ee3a3a" />
<circle cx="855.8" cy="693.8" r="2.5" fill="#ee3a3a" />
<circle cx="868.2" cy="696.3" r="2.5" fill="#ee3a3a" />
<circle cx="874.7" cy="690.9" r="2.5" fill="#ee3a3a" />
<circle cx="887.1" cy="693.4" r="2.5" fill="#ee3a3a" />
<circle cx="900.1" cy="695.2" r="2.5" fill="#ee3a3a" />
<circle cx="913.6" cy="697.7" r="2.5" fill="#ee3a3a" />
<circle cx="917.5" cy="692.3" r="2.5" fill="#ee3a3a" />
<circle cx="930.6" cy="694.5" r="2.5" fill="#ee3a3a" />
<circle cx="944.7" cy="696.7" r="2.5" fill="#ee3a3a" />
<circle cx="960.4" cy="693.8" r="2.5" fill="#ee3a3a" />
<circle cx="974.9" cy="695.7" r="2.5" fill="#ee3a3a" />
<circle cx="1003.9" cy="694.8" r="2.5" fill="#ee3a3a" />
<circle cx="789.8" cy="696.7" r="2.9" fill="url(#gR)"/>
<circle cx="835.2" cy="697.7" r="2.9" fill="url(#gR)"/>
<circle cx="881.2" cy="699.2" r="2.9" fill="url(#gR)"/>
<circle cx="927" cy="700.6" r="2.9" fill="url(#gR)"/>
<circle cx="959.7" cy="699.6" r="2.9" fill="url(#gR)"/>
<circle cx="990.1" cy="698.6" r="2.9" fill="url(#gR)"/>
<circle cx="1019.5" cy="698.2" r="2.9" fill="url(#gR)"/>
<circle cx="1047.5" cy="697.1" r="2.9" fill="url(#gR)"/>
<circle cx="770.9" cy="730.1" r="2.9" fill="url(#gR)"/>
<circle cx="815.6" cy="731.5" r="2.9" fill="url(#gR)"/>
<circle cx="861.2" cy="733.4" r="2.9" fill="url(#gR)"/>
<circle cx="906.7" cy="735.2" r="2.9" fill="url(#gR)"/>
<circle cx="952.8" cy="736.3" r="2.9" fill="url(#gR)"/>
<circle cx="984" cy="734.9" r="2.9" fill="url(#gR)"/>
<circle cx="1013.8" cy="733.4" r="2.9" fill="url(#gR)"/>
<circle cx="1042.4" cy="732" r="2.9" fill="url(#gR)"/>
<circle cx="822.4" cy="754.1" r="5.9" fill="url(#gNa)"/>
<circle cx="854.7" cy="751.9" r="5.9" fill="url(#gNa)"/>
<circle cx="867.4" cy="756.2" r="5.9" fill="url(#gNa)"/>
<circle cx="886.3" cy="750.4" r="5.9" fill="url(#gNa)"/>
<circle cx="899.1" cy="754.1" r="5.9" fill="url(#gNa)"/>
<circle cx="912.5" cy="757.7" r="5.9" fill="url(#gNa)"/>
<circle cx="929.4" cy="751.9" r="5.9" fill="url(#gNa)"/>
<circle cx="943.7" cy="755.5" r="5.9" fill="url(#gNa)"/>
<circle cx="973.7" cy="753.8" r="5.9" fill="url(#gNa)"/>
<polygon points="829,775.8 891.4,771.8 935,772.9 1022.1,776.6 1016.6,812.4 987.2,815.3 956.5,817.7 911.4,816.2 866.4,814.3 821.7,812.4" fill="#17a565" stroke="none" stroke-width="0" />
<polygon points="829,775.8 891.4,771.8 935,772.9 1022.1,776.6 993,779.5 963.3,781.6 931.8,783.8 886.3,782.4 841,780.2" fill="#11935a" stroke="none" stroke-width="0" />
<polygon points="841,780.2 886.3,782.4 866.4,814.3" fill="#13995c" stroke="none" stroke-width="0" />
<polygon points="841,780.2 856,780.9 866.4,814.3" fill="#0d8550" stroke="none" stroke-width="0" opacity="0.8"/>
<polygon points="886.3,782.4 931.8,783.8 911.4,816.2" fill="#13995c" stroke="none" stroke-width="0" />
<polygon points="886.3,782.4 901.3,782.8 911.4,816.2" fill="#0d8550" stroke="none" stroke-width="0" opacity="0.8"/>
<polygon points="931.8,783.8 963.3,781.6 956.5,817.7" fill="#13995c" stroke="none" stroke-width="0" />
<polygon points="931.8,783.8 942.2,783.1 956.5,817.7" fill="#0d8550" stroke="none" stroke-width="0" opacity="0.8"/>
<polygon points="963.3,781.6 993,779.5 987.2,815.3" fill="#17a565" stroke="none" stroke-width="0" />
<polygon points="963.3,781.6 973.1,780.9 987.2,815.3" fill="#0d8550" stroke="none" stroke-width="0" opacity="0.8"/>
<polygon points="993,779.5 1022.1,776.6 1016.6,812.4" fill="#17a565" stroke="none" stroke-width="0" />
<polygon points="993,779.5 1002.6,778.5 1016.6,812.4" fill="#0d8550" stroke="none" stroke-width="0" opacity="0.8"/>
<polygon points="829,775.8 841,780.2 821.7,812.4" fill="#0d8550" stroke="none" stroke-width="0" />
<polygon points="821.7,812.4 841,780.2 866.4,814.3" fill="#1fb673" stroke="none" stroke-width="0" />
<circle cx="843.7" cy="800.3" r="3.6" fill="#17988a" opacity="0.8"/>
<circle cx="855.4" cy="809.8" r="1.6" fill="#3f9a50" opacity="0.8"/>
<line x1="841" y1="780.2" x2="821.7" y2="812.4" stroke="#8fe0b8" stroke-width="0.8" />
<line x1="841" y1="780.2" x2="866.4" y2="814.3" stroke="#8fe0b8" stroke-width="0.8" />

<polygon points="866.4,814.3 886.3,782.4 911.4,816.2" fill="#1fb673" stroke="none" stroke-width="0" />
<circle cx="888.7" cy="802.3" r="3.6" fill="#17988a" opacity="0.8"/>
<circle cx="900.4" cy="811.7" r="1.6" fill="#3f9a50" opacity="0.8"/>
<line x1="886.3" y1="782.4" x2="866.4" y2="814.3" stroke="#8fe0b8" stroke-width="0.8" />
<line x1="886.3" y1="782.4" x2="911.4" y2="816.2" stroke="#8fe0b8" stroke-width="0.8" />
<line x1="874.3" y1="779.4" x2="866.4" y2="814.3" stroke="#9fe0c0" stroke-width="0.7" stroke-dasharray="2 1.5" opacity="0.7"/>
<polygon points="911.4,816.2 931.8,783.8 956.5,817.7" fill="#1fb673" stroke="none" stroke-width="0" />
<circle cx="933.9" cy="803.9" r="3.6" fill="#17988a" opacity="0.8"/>
<circle cx="945.5" cy="813.2" r="1.6" fill="#3f9a50" opacity="0.8"/>
<line x1="931.8" y1="783.8" x2="911.4" y2="816.2" stroke="#8fe0b8" stroke-width="0.8" />
<line x1="931.8" y1="783.8" x2="956.5" y2="817.7" stroke="#8fe0b8" stroke-width="0.8" />
<line x1="919.8" y1="780.8" x2="911.4" y2="816.2" stroke="#9fe0c0" stroke-width="0.7" stroke-dasharray="2 1.5" opacity="0.7"/>
<polygon points="956.5,817.7 963.3,781.6 987.2,815.3" fill="#22bb7a" stroke="none" stroke-width="0" />
<circle cx="969.3" cy="802.8" r="3.6" fill="#17988a" opacity="0.8"/>
<circle cx="976.2" cy="810.8" r="1.6" fill="#3f9a50" opacity="0.8"/>
<line x1="963.3" y1="781.6" x2="956.5" y2="817.7" stroke="#8fe0b8" stroke-width="0.8" />
<line x1="963.3" y1="781.6" x2="987.2" y2="815.3" stroke="#8fe0b8" stroke-width="0.8" />
<line x1="951.3" y1="778.6" x2="956.5" y2="817.7" stroke="#9fe0c0" stroke-width="0.7" stroke-dasharray="2 1.5" opacity="0.7"/>
<polygon points="987.2,815.3 993,779.5 1016.6,812.4" fill="#22bb7a" stroke="none" stroke-width="0" />
<circle cx="999.2" cy="800.3" r="3.6" fill="#17988a" opacity="0.8"/>
<circle cx="1005.6" cy="807.9" r="1.6" fill="#3f9a50" opacity="0.8"/>
<line x1="993" y1="779.5" x2="987.2" y2="815.3" stroke="#8fe0b8" stroke-width="0.8" />
<line x1="993" y1="779.5" x2="1016.6" y2="812.4" stroke="#8fe0b8" stroke-width="0.8" />
<line x1="981" y1="776.5" x2="987.2" y2="815.3" stroke="#9fe0c0" stroke-width="0.7" stroke-dasharray="2 1.5" opacity="0.7"/>
<circle cx="829" cy="775.8" r="2.5" fill="#ee3a3a" />
<circle cx="860.9" cy="772.9" r="2.5" fill="#ee3a3a" />
<circle cx="873.5" cy="777" r="2.5" fill="#ee3a3a" />
<circle cx="891.4" cy="771.2" r="2.5" fill="#ee3a3a" />
<circle cx="904.5" cy="775.1" r="2.5" fill="#ee3a3a" />
<circle cx="918" cy="779.2" r="2.5" fill="#ee3a3a" />
<circle cx="935" cy="772.6" r="2.5" fill="#ee3a3a" />
<circle cx="948.8" cy="776.1" r="2.5" fill="#ee3a3a" />
<circle cx="978.2" cy="774.1" r="2.5" fill="#ee3a3a" />
<circle cx="841" cy="780.2" r="2.9" fill="url(#gR)"/>
<circle cx="886.3" cy="782.4" r="2.9" fill="url(#gR)"/>
<circle cx="931.8" cy="783.8" r="2.9" fill="url(#gR)"/>
<circle cx="963.3" cy="781.6" r="2.9" fill="url(#gR)"/>
<circle cx="993" cy="779.5" r="2.9" fill="url(#gR)"/>
<circle cx="1022.1" cy="776.6" r="2.9" fill="url(#gR)"/>
<circle cx="821.7" cy="812.4" r="2.9" fill="url(#gR)"/>
<circle cx="866.4" cy="814.3" r="2.9" fill="url(#gR)"/>
<circle cx="911.4" cy="816.2" r="2.9" fill="url(#gR)"/>
<circle cx="956.5" cy="817.7" r="2.9" fill="url(#gR)"/>
<circle cx="987.2" cy="815.3" r="2.9" fill="url(#gR)"/>
<circle cx="1016.6" cy="812.4" r="2.9" fill="url(#gR)"/>
<circle cx="891" cy="826.9" r="5.9" fill="url(#gNa)"/>
<circle cx="860.2" cy="830.2" r="5.9" fill="url(#gNa)"/>
<circle cx="977" cy="830.6" r="5.9" fill="url(#gNa)"/>
<circle cx="828.4" cy="833" r="5.9" fill="url(#gNa)"/>
<circle cx="1020.3" cy="833" r="5.9" fill="url(#gNa)"/>
<circle cx="947.2" cy="833.9" r="5.9" fill="url(#gNa)"/>
<circle cx="872.2" cy="835.4" r="5.9" fill="url(#gNa)"/>
<circle cx="991.4" cy="835.8" r="5.9" fill="url(#gNa)"/>
<circle cx="795.9" cy="836.7" r="5.9" fill="url(#gNa)"/>
<circle cx="840.4" cy="838.5" r="5.9" fill="url(#gNa)"/>
<circle cx="961.8" cy="839.1" r="5.9" fill="url(#gNa)"/>
<circle cx="885.1" cy="840.3" r="5.9" fill="url(#gNa)"/>
<polygon points="802.7,856.9 866.3,850.5 952.2,854.5 996,856 990.3,893.1 960.5,897 929.2,901.4 884.2,899.6 839.1,897 794.9,895" fill="#17a565" stroke="none" stroke-width="0" />
<polygon points="802.7,856.9 866.3,850.5 952.2,854.5 996,856 966.9,859.7 936,863.3 904.8,867.4 859,865.2 813.9,863.3" fill="#11935a" stroke="none" stroke-width="0" />
<polygon points="813.9,863.3 859,865.2 839.1,897" fill="#13995c" stroke="none" stroke-width="0" />
<polygon points="813.9,863.3 828.8,863.9 839.1,897" fill="#0d8550" stroke="none" stroke-width="0" opacity="0.8"/>
<polygon points="859,865.2 904.8,867.4 884.2,899.6" fill="#13995c" stroke="none" stroke-width="0" />
<polygon points="859,865.2 874.1,865.9 884.2,899.6" fill="#0d8550" stroke="none" stroke-width="0" opacity="0.8"/>
<polygon points="904.8,867.4 936,863.3 929.2,901.4" fill="#13995c" stroke="none" stroke-width="0" />
<polygon points="904.8,867.4 915.1,866.1 929.2,901.4" fill="#0d8550" stroke="none" stroke-width="0" opacity="0.8"/>
<polygon points="936,863.3 966.9,859.7 960.5,897" fill="#17a565" stroke="none" stroke-width="0" />
<polygon points="936,863.3 946.2,862.1 960.5,897" fill="#0d8550" stroke="none" stroke-width="0" opacity="0.8"/>
<polygon points="966.9,859.7 996,856 990.3,893.1" fill="#17a565" stroke="none" stroke-width="0" />
<polygon points="966.9,859.7 976.5,858.4 990.3,893.1" fill="#0d8550" stroke="none" stroke-width="0" opacity="0.8"/>
<polygon points="802.7,856.9 813.9,863.3 794.9,895" fill="#0d8550" stroke="none" stroke-width="0" />
<polygon points="794.9,895 813.9,863.3 839.1,897" fill="#1fb673" stroke="none" stroke-width="0" />
<circle cx="816.6" cy="883.1" r="3.6" fill="#17988a" opacity="0.8"/>
<circle cx="828.1" cy="892.5" r="1.6" fill="#3f9a50" opacity="0.8"/>
<line x1="813.9" y1="863.3" x2="794.9" y2="895" stroke="#8fe0b8" stroke-width="0.8" />
<line x1="813.9" y1="863.3" x2="839.1" y2="897" stroke="#8fe0b8" stroke-width="0.8" />

<polygon points="839.1,897 859,865.2 884.2,899.6" fill="#1fb673" stroke="none" stroke-width="0" />
<circle cx="861.4" cy="885.2" r="3.6" fill="#17988a" opacity="0.8"/>
<circle cx="873.2" cy="895.1" r="1.6" fill="#3f9a50" opacity="0.8"/>
<line x1="859" y1="865.2" x2="839.1" y2="897" stroke="#8fe0b8" stroke-width="0.8" />
<line x1="859" y1="865.2" x2="884.2" y2="899.6" stroke="#8fe0b8" stroke-width="0.8" />
<line x1="847" y1="862.2" x2="839.1" y2="897" stroke="#9fe0c0" stroke-width="0.7" stroke-dasharray="2 1.5" opacity="0.7"/>
<polygon points="884.2,899.6 904.8,867.4 929.2,901.4" fill="#1fb673" stroke="none" stroke-width="0" />
<circle cx="906.7" cy="887.5" r="3.6" fill="#17988a" opacity="0.8"/>
<circle cx="918.2" cy="896.9" r="1.6" fill="#3f9a50" opacity="0.8"/>
<line x1="904.8" y1="867.4" x2="884.2" y2="899.6" stroke="#8fe0b8" stroke-width="0.8" />
<line x1="904.8" y1="867.4" x2="929.2" y2="901.4" stroke="#8fe0b8" stroke-width="0.8" />
<line x1="892.8" y1="864.4" x2="884.2" y2="899.6" stroke="#9fe0c0" stroke-width="0.7" stroke-dasharray="2 1.5" opacity="0.7"/>
<polygon points="929.2,901.4 936,863.3 960.5,897" fill="#22bb7a" stroke="none" stroke-width="0" />
<circle cx="942.2" cy="885.1" r="3.6" fill="#17988a" opacity="0.8"/>
<circle cx="949.5" cy="892.5" r="1.6" fill="#3f9a50" opacity="0.8"/>
<line x1="936" y1="863.3" x2="929.2" y2="901.4" stroke="#8fe0b8" stroke-width="0.8" />
<line x1="936" y1="863.3" x2="960.5" y2="897" stroke="#8fe0b8" stroke-width="0.8" />
<line x1="924" y1="860.3" x2="929.2" y2="901.4" stroke="#9fe0c0" stroke-width="0.7" stroke-dasharray="2 1.5" opacity="0.7"/>
<polygon points="960.5,897 966.9,859.7 990.3,893.1" fill="#22bb7a" stroke="none" stroke-width="0" />
<circle cx="972.9" cy="881.1" r="3.6" fill="#17988a" opacity="0.8"/>
<circle cx="979.3" cy="888.6" r="1.6" fill="#3f9a50" opacity="0.8"/>
<line x1="966.9" y1="859.7" x2="960.5" y2="897" stroke="#8fe0b8" stroke-width="0.8" />
<line x1="966.9" y1="859.7" x2="990.3" y2="893.1" stroke="#8fe0b8" stroke-width="0.8" />
<line x1="954.9" y1="856.7" x2="960.5" y2="897" stroke="#9fe0c0" stroke-width="0.7" stroke-dasharray="2 1.5" opacity="0.7"/>
<circle cx="802.7" cy="856.9" r="2.5" fill="#ee3a3a" />
<circle cx="834.5" cy="853.2" r="2.5" fill="#ee3a3a" />
<circle cx="846.4" cy="858.7" r="2.5" fill="#ee3a3a" />
<circle cx="866.3" cy="849.5" r="2.5" fill="#ee3a3a" />
<circle cx="878.6" cy="855.1" r="2.5" fill="#ee3a3a" />
<circle cx="891" cy="861.1" r="2.5" fill="#ee3a3a" />
<circle cx="952.2" cy="854.1" r="2.5" fill="#ee3a3a" />
<circle cx="813.9" cy="863.3" r="2.9" fill="url(#gR)"/>
<circle cx="859" cy="865.2" r="2.9" fill="url(#gR)"/>
<circle cx="904.8" cy="867.4" r="2.9" fill="url(#gR)"/>
<circle cx="936" cy="863.3" r="2.9" fill="url(#gR)"/>
<circle cx="966.9" cy="859.7" r="2.9" fill="url(#gR)"/>
<circle cx="996" cy="856" r="2.9" fill="url(#gR)"/>
<circle cx="794.9" cy="895" r="2.9" fill="url(#gR)"/>
<circle cx="839.1" cy="897" r="2.9" fill="url(#gR)"/>
<circle cx="884.2" cy="899.6" r="2.9" fill="url(#gR)"/>
<circle cx="929.2" cy="901.4" r="2.9" fill="url(#gR)"/>
<circle cx="960.5" cy="897" r="2.9" fill="url(#gR)"/>
<circle cx="990.3" cy="893.1" r="2.9" fill="url(#gR)"/>
<polygon points="897,816.4 941.2,817.4 935.7,863.3 893.4,860.6" fill="#d9c765" stroke="none" stroke-width="0" opacity="0.92"/>
<polygon points="897,816.4 912.7,821 893.4,860.6" fill="#b8a84e" stroke="none" stroke-width="0" opacity="0.9"/>
<polygon points="912.7,821 935.7,863.3 893.4,860.6" fill="#efe183" stroke="none" stroke-width="0" opacity="0.95"/>
<polygon points="912.7,821 941.2,817.4 935.7,863.3" fill="#cfc068" stroke="none" stroke-width="0" opacity="0.9"/>
<circle cx="916.7" cy="837.2" r="5.6" fill="url(#gNa)"/>
<circle cx="916.7" cy="837.2" r="5.8" fill="#eadf80" opacity="0.45"/>
<circle cx="931.1" cy="842.7" r="5.9" fill="url(#gNa)"/>
<circle cx="921.9" cy="857.5" r="1.8" fill="#f0a050" opacity="0.8"/>
<circle cx="909" cy="851.9" r="1.8" fill="#f0b060" opacity="0.6"/>
<circle cx="908.1" cy="908" r="5.9" fill="url(#gNa)"/>
<circle cx="877.7" cy="912.1" r="5.9" fill="url(#gNa)"/>
<circle cx="951.3" cy="910.2" r="5.9" fill="url(#gNa)"/>
<circle cx="994.5" cy="912.5" r="5.9" fill="url(#gNa)"/>
<circle cx="920.9" cy="914.5" r="5.9" fill="url(#gNa)"/>
<circle cx="846.1" cy="917.1" r="5.9" fill="url(#gNa)"/>
<circle cx="965.1" cy="917.1" r="5.9" fill="url(#gNa)"/>
<circle cx="890.2" cy="918.9" r="5.9" fill="url(#gNa)"/>
<circle cx="934.7" cy="921.3" r="5.9" fill="url(#gNa)"/>
<polygon points="776.6,938.2 840,929.2 870.9,925 1041.4,933.6 1036.5,970.9 1008.3,976.1 978,981.4 947.6,986.9 902.5,984.7 857.5,982 812.4,979.6 768.3,977" fill="#11935a" stroke="none" stroke-width="0" />
<line x1="808.7" y1="933.2" x2="840" y2="929.2" stroke="#5fcf9a" stroke-width="0.8" opacity="0.7"/>
<line x1="840" y1="929.2" x2="870.9" y2="925" stroke="#5fcf9a" stroke-width="0.8" opacity="0.7"/>
<line x1="820.7" y1="941" x2="852.5" y2="936" stroke="#5fcf9a" stroke-width="0.8" opacity="0.7"/>
<line x1="852.5" y1="936" x2="883.6" y2="931.4" stroke="#5fcf9a" stroke-width="0.8" opacity="0.7"/>
<line x1="883.6" y1="931.4" x2="913.6" y2="926.2" stroke="#5fcf9a" stroke-width="0.8" opacity="0.7"/>
<line x1="864.5" y1="943.4" x2="896.1" y2="938.8" stroke="#5fcf9a" stroke-width="0.8" opacity="0.7"/>
<line x1="896.1" y1="938.8" x2="926.5" y2="933.6" stroke="#5fcf9a" stroke-width="0.8" opacity="0.7"/>
<line x1="926.5" y1="933.6" x2="955.9" y2="928.6" stroke="#5fcf9a" stroke-width="0.8" opacity="0.7"/>
<line x1="909.4" y1="945.7" x2="939.9" y2="940.6" stroke="#5fcf9a" stroke-width="0.8" opacity="0.7"/>
<line x1="939.9" y1="940.6" x2="969.7" y2="936" stroke="#5fcf9a" stroke-width="0.8" opacity="0.7"/>
<line x1="969.7" y1="936" x2="998.6" y2="931" stroke="#5fcf9a" stroke-width="0.8" opacity="0.7"/>
<polygon points="787.2,946.1 820.7,941 864.5,943.4 832.1,948.9" fill="#17a866" stroke="#0c7e48" stroke-width="0.5" opacity="0.75"/>
<polygon points="832.1,948.9 864.5,943.4 909.4,945.7 877.4,951.3" fill="#17a866" stroke="#0c7e48" stroke-width="0.5" opacity="0.75"/>
<polygon points="877.4,951.3 909.4,945.7 954.4,948.3 922.8,953.8" fill="#17a866" stroke="#0c7e48" stroke-width="0.5" opacity="0.75"/>
<polygon points="820.7,941 852.5,936 896.1,938.8 864.5,943.4" fill="#17a866" stroke="#0c7e48" stroke-width="0.5" opacity="0.75"/>
<polygon points="864.5,943.4 896.1,938.8 939.9,940.6 909.4,945.7" fill="#17a866" stroke="#0c7e48" stroke-width="0.5" opacity="0.75"/>
<polygon points="909.4,945.7 939.9,940.6 984.4,943.4 954.4,948.3" fill="#17a866" stroke="#0c7e48" stroke-width="0.5" opacity="0.75"/>
<polygon points="852.5,936 883.6,931.4 926.5,933.6 896.1,938.8" fill="#17a866" stroke="#0c7e48" stroke-width="0.5" opacity="0.75"/>
<polygon points="896.1,938.8 926.5,933.6 969.7,936 939.9,940.6" fill="#17a866" stroke="#0c7e48" stroke-width="0.5" opacity="0.75"/>
<polygon points="939.9,940.6 969.7,936 1013.5,938.4 984.4,943.4" fill="#17a866" stroke="#0c7e48" stroke-width="0.5" opacity="0.75"/>
<polygon points="776.6,938.2 787.2,946.1 768.3,977" fill="#0d8550" stroke="none" stroke-width="0" />
<polygon points="787.2,946.1 832.1,948.9 812.4,979.6" fill="#13995c" stroke="none" stroke-width="0" />
<polygon points="787.2,946.1 802,947 812.4,979.6" fill="#0d8550" stroke="none" stroke-width="0" opacity="0.8"/>
<polygon points="832.1,948.9 877.4,951.3 857.5,982" fill="#13995c" stroke="none" stroke-width="0" />
<polygon points="832.1,948.9 847,949.7 857.5,982" fill="#0d8550" stroke="none" stroke-width="0" opacity="0.8"/>
<polygon points="877.4,951.3 922.8,953.8 902.5,984.7" fill="#13995c" stroke="none" stroke-width="0" />
<polygon points="877.4,951.3 892.3,952.1 902.5,984.7" fill="#0d8550" stroke="none" stroke-width="0" opacity="0.8"/>
<polygon points="922.8,953.8 954.4,948.3 947.6,986.9" fill="#13995c" stroke="none" stroke-width="0" />
<polygon points="922.8,953.8 933.2,952 947.6,986.9" fill="#0d8550" stroke="none" stroke-width="0" opacity="0.8"/>
<polygon points="768.3,977 787.2,946.1 812.4,979.6" fill="#1fb673" stroke="none" stroke-width="0" />
<circle cx="789.9" cy="965.6" r="3.6" fill="#17988a" opacity="0.8"/>
<circle cx="801.4" cy="975.1" r="1.6" fill="#3f9a50" opacity="0.8"/>
<line x1="787.2" y1="946.1" x2="768.3" y2="977" stroke="#8fe0b8" stroke-width="0.8" />
<line x1="787.2" y1="946.1" x2="812.4" y2="979.6" stroke="#8fe0b8" stroke-width="0.8" />
<polygon points="812.4,979.6 832.1,948.9 857.5,982" fill="#1fb673" stroke="none" stroke-width="0" />
<circle cx="834.6" cy="968.2" r="3.6" fill="#17988a" opacity="0.8"/>
<circle cx="846.5" cy="977.5" r="1.6" fill="#3f9a50" opacity="0.8"/>
<line x1="832.1" y1="948.9" x2="812.4" y2="979.6" stroke="#8fe0b8" stroke-width="0.8" />
<line x1="832.1" y1="948.9" x2="857.5" y2="982" stroke="#8fe0b8" stroke-width="0.8" />
<polygon points="857.5,982 877.4,951.3 902.5,984.7" fill="#1fb673" stroke="none" stroke-width="0" />
<circle cx="879.8" cy="970.7" r="3.6" fill="#17988a" opacity="0.8"/>
<circle cx="891.5" cy="980.2" r="1.6" fill="#3f9a50" opacity="0.8"/>
<line x1="877.4" y1="951.3" x2="857.5" y2="982" stroke="#8fe0b8" stroke-width="0.8" />
<line x1="877.4" y1="951.3" x2="902.5" y2="984.7" stroke="#8fe0b8" stroke-width="0.8" />
<polygon points="902.5,984.7 922.8,953.8 947.6,986.9" fill="#1fb673" stroke="none" stroke-width="0" />
<circle cx="925" cy="973.2" r="3.6" fill="#17988a" opacity="0.8"/>
<circle cx="936.6" cy="982.4" r="1.6" fill="#3f9a50" opacity="0.8"/>
<line x1="922.8" y1="953.8" x2="902.5" y2="984.7" stroke="#8fe0b8" stroke-width="0.8" />
<line x1="922.8" y1="953.8" x2="947.6" y2="986.9" stroke="#8fe0b8" stroke-width="0.8" />
<polygon points="922.8,953.8 954.4,948.3 978,981.4 947.6,986.9" fill="#17a565" stroke="none" stroke-width="0" />
<polygon points="954.4,948.3 947.6,986.9 978,981.4" fill="#22bb7a" stroke="none" stroke-width="0" />
<circle cx="960" cy="970.1" r="3.4" fill="#17988a" opacity="0.8"/>
<line x1="954.4" y1="948.3" x2="947.6" y2="986.9" stroke="#8fe0b8" stroke-width="0.8" />
<line x1="954.4" y1="948.3" x2="978" y2="981.4" stroke="#8fe0b8" stroke-width="0.8" />
<polygon points="954.4,948.3 984.4,943.4 1008.3,976.1 978,981.4" fill="#17a565" stroke="none" stroke-width="0" />
<polygon points="984.4,943.4 978,981.4 1008.3,976.1" fill="#22bb7a" stroke="none" stroke-width="0" />
<circle cx="990.2" cy="964.8" r="3.4" fill="#17988a" opacity="0.8"/>
<line x1="984.4" y1="943.4" x2="978" y2="981.4" stroke="#8fe0b8" stroke-width="0.8" />
<line x1="984.4" y1="943.4" x2="1008.3" y2="976.1" stroke="#8fe0b8" stroke-width="0.8" />
<polygon points="984.4,943.4 1013.5,938.4 1036.5,970.9 1008.3,976.1" fill="#17a565" stroke="none" stroke-width="0" />
<polygon points="1013.5,938.4 1008.3,976.1 1036.5,970.9" fill="#22bb7a" stroke="none" stroke-width="0" />
<circle cx="1019.4" cy="959.7" r="3.4" fill="#17988a" opacity="0.8"/>
<line x1="1013.5" y1="938.4" x2="1008.3" y2="976.1" stroke="#8fe0b8" stroke-width="0.8" />
<line x1="1013.5" y1="938.4" x2="1036.5" y2="970.9" stroke="#8fe0b8" stroke-width="0.8" />
<polygon points="1013.5,938.4 1041.4,933.6 1036.5,970.9" fill="#25be80" stroke="none" stroke-width="0" />
<circle cx="776.6" cy="938.2" r="2.5" fill="#ee3333" />
<circle cx="808.7" cy="933.2" r="2.5" fill="#ee3333" />
<circle cx="840" cy="929.2" r="2.5" fill="#ee3333" />
<circle cx="870.9" cy="925" r="2.5" fill="#ee3333" />
<circle cx="820.7" cy="941" r="2.5" fill="#ee3333" />
<circle cx="852.5" cy="936" r="2.5" fill="#ee3333" />
<circle cx="883.6" cy="931.4" r="2.5" fill="#ee3333" />
<circle cx="913.6" cy="926.2" r="2.5" fill="#ee3333" />
<circle cx="864.5" cy="943.4" r="2.5" fill="#ee3333" />
<circle cx="896.1" cy="938.8" r="2.5" fill="#ee3333" />
<circle cx="926.5" cy="933.6" r="2.5" fill="#ee3333" />
<circle cx="955.9" cy="928.6" r="2.5" fill="#ee3333" />
<circle cx="909.4" cy="945.7" r="2.5" fill="#ee3333" />
<circle cx="939.9" cy="940.6" r="2.5" fill="#ee3333" />
<circle cx="969.7" cy="936" r="2.5" fill="#ee3333" />
<circle cx="998.6" cy="931" r="2.5" fill="#ee3333" />
<circle cx="1041.4" cy="933.6" r="2.5" fill="#ee3333" />
<circle cx="787.2" cy="946.1" r="2.9" fill="url(#gR)"/>
<circle cx="832.1" cy="948.9" r="2.9" fill="url(#gR)"/>
<circle cx="877.4" cy="951.3" r="2.9" fill="url(#gR)"/>
<circle cx="922.8" cy="953.8" r="2.9" fill="url(#gR)"/>
<circle cx="768.3" cy="977" r="2.9" fill="url(#gR)"/>
<circle cx="812.4" cy="979.6" r="2.9" fill="url(#gR)"/>
<circle cx="857.5" cy="982" r="2.9" fill="url(#gR)"/>
<circle cx="902.5" cy="984.7" r="2.9" fill="url(#gR)"/>
<circle cx="947.6" cy="986.9" r="2.9" fill="url(#gR)"/>
<circle cx="954.4" cy="948.3" r="2.9" fill="url(#gR)"/>
<circle cx="984.4" cy="943.4" r="2.9" fill="url(#gR)"/>
<circle cx="1013.5" cy="938.4" r="2.9" fill="url(#gR)"/>
<circle cx="978" cy="981.4" r="2.9" fill="url(#gR)"/>
<circle cx="1008.3" cy="976.1" r="2.9" fill="url(#gR)"/>
<circle cx="1036.5" cy="970.9" r="2.9" fill="url(#gR)"/>
<circle cx="694" cy="811.2" r="10.3" fill="url(#gNa)"/>
<circle cx="694" cy="846.8" r="10.3" fill="url(#gR)"/>
<circle cx="694" cy="886.4" r="10.3" fill="url(#gTM)"/>
<polygon points="1091.9,741.4 1134.9,741.4 1129.8,779.8 1086,779.3" fill="#17a565" stroke="none" stroke-width="0" />
<polygon points="1091.9,741.4 1134.9,741.4 1102.6,748.4" fill="#13995c" stroke="none" stroke-width="0" />
<polygon points="1091.9,741.4 1102.6,748.4 1086,779.3" fill="#13995c" stroke="none" stroke-width="0" />
<polygon points="1102.6,748.4 1129.8,779.8 1086,779.3" fill="#1fb673" stroke="none" stroke-width="0" />
<line x1="1102.6" y1="748.4" x2="1129.8" y2="779.8" stroke="#9fe6c4" stroke-width="0.8" />
<line x1="1102.6" y1="748.4" x2="1134.9" y2="741.4" stroke="#9fe6c4" stroke-width="0.7" />
<line x1="1102.6" y1="748.4" x2="1086" y2="779.3" stroke="#9fe6c4" stroke-width="0.7" />
<circle cx="1110" cy="760.7" r="3.8" fill="#17988a" opacity="0.85"/>
<circle cx="1117.7" cy="771.6" r="1.8" fill="#3f9a50" />
<circle cx="1091.9" cy="741.4" r="3.2" fill="url(#gR)"/>
<circle cx="1134.9" cy="741.4" r="3.2" fill="url(#gR)"/>
<circle cx="1102.6" cy="748.4" r="3.2" fill="url(#gR)"/>
<circle cx="1086" cy="779.3" r="3.2" fill="url(#gR)"/>
<circle cx="1129.8" cy="779.8" r="3.2" fill="url(#gR)"/>
<polygon points="1093.7,846.7 1140.2,848.6 1131.4,905.3 1085.1,903.7" fill="#e9c14a" stroke="none" stroke-width="0" />
<polygon points="1093.7,846.7 1140.2,848.6 1103.5,854.4" fill="#c9a53a" stroke="none" stroke-width="0" />
<polygon points="1093.7,846.7 1103.5,854.4 1085.1,903.7" fill="#b8953a" stroke="none" stroke-width="0" />
<circle cx="1112.3" cy="875.8" r="11.6" fill="url(#gNa)"/>
<circle cx="1112.3" cy="875.8" r="11.8" fill="#e9c14a" opacity="0.45"/>
<line x1="1103.5" y1="854.4" x2="1131.4" y2="905.3" stroke="#f6e08a" stroke-width="0.9" />
<line x1="1103.5" y1="854.4" x2="1140.2" y2="848.6" stroke="#f6e08a" stroke-width="0.8" />
<circle cx="1120.9" cy="897.2" r="3" fill="#f0a040" opacity="0.9"/>
<circle cx="1093.7" cy="846.7" r="3.9" fill="url(#gR)"/>
<circle cx="1140.2" cy="848.6" r="3.9" fill="url(#gR)"/>
<circle cx="1103.5" cy="854.4" r="3.9" fill="url(#gR)"/>
<circle cx="1085.1" cy="903.7" r="3.9" fill="url(#gR)"/>
<circle cx="1131.4" cy="905.3" r="3.9" fill="url(#gR)"/>
<line x1="707.3" y1="971.5" x2="707.3" y2="938" stroke="#1414c8" stroke-width="2.4" />
<polygon points="707.3,928 702.8,941 711.8,941" fill="#1414c8" stroke="none" stroke-width="0" />
<line x1="707.3" y1="971.8" x2="683" y2="974.8" stroke="#c81414" stroke-width="2.4" />
<polygon points="673,976 685.5,970.2 686.5,979" fill="#c81414" stroke="none" stroke-width="0" />
<line x1="707.3" y1="971.8" x2="737" y2="973.4" stroke="#14b428" stroke-width="2.4" />
<polygon points="747.8,974 735,969.2 734.5,978" fill="#14b428" stroke="none" stroke-width="0" />
<circle cx="707.3" cy="971.8" r="3.6" fill="#e8e8e8" stroke="#777" stroke-width="0.8"/>
</g>
<text x="681.5" y="718" font-size="21" text-anchor="start" font-weight="normal" font-family="'Liberation Serif',serif" fill="#111" >TM layer</text>
<text x="728.6" y="762" font-size="21" text-anchor="start" font-weight="normal" font-family="'Liberation Serif',serif" fill="#111" >Na layer</text>
<text x="715.3" y="818.2" font-size="21" text-anchor="start" font-weight="normal" font-family="'Liberation Serif',serif" fill="#111" >Na</text>
<text x="721" y="854" font-size="21" text-anchor="start" font-weight="normal" font-family="'Liberation Serif',serif" fill="#111" >O</text>
<text x="713.4" y="894" font-size="21" text-anchor="start" font-weight="normal" font-family="'Liberation Serif',serif" fill="#111" >TM</text>
<text x="1056" y="704.7" font-size="21" text-anchor="middle" font-weight="normal" font-family="'Liberation Serif',serif" fill="#111" >A</text>
<text x="1056" y="739.7" font-size="21" text-anchor="middle" font-weight="normal" font-family="'Liberation Serif',serif" fill="#111" >B</text>
<text x="1056" y="781.5" font-size="21" text-anchor="middle" font-weight="normal" font-family="'Liberation Serif',serif" fill="#111" >C</text>
<text x="1056" y="818" font-size="21" text-anchor="middle" font-weight="normal" font-family="'Liberation Serif',serif" fill="#111" >A</text>
<text x="1056" y="864.5" font-size="21" text-anchor="middle" font-weight="normal" font-family="'Liberation Serif',serif" fill="#111" >B</text>
<text x="1056" y="901.8" font-size="21" text-anchor="middle" font-weight="normal" font-family="'Liberation Serif',serif" fill="#111" >C</text>
<text x="1056" y="940.6" font-size="21" text-anchor="middle" font-weight="normal" font-family="'Liberation Serif',serif" fill="#111" >A</text>
<text x="1056" y="976" font-size="21" text-anchor="middle" font-weight="normal" font-family="'Liberation Serif',serif" fill="#111" >B</text>
<text x="1083.3" y="809" font-family="'Liberation Serif',serif" font-size="25" fill="#111">TMO<tspan font-size="12" dy="0" fill="#555">6</tspan></text>
<text x="1086" y="932.8" font-family="'Liberation Serif',serif" font-size="25" fill="#111">NaO<tspan font-size="12" dy="0" fill="#555">6</tspan></text>
<text x="707.3" y="921.5" font-size="8" text-anchor="middle" font-weight="bold" font-family="'Liberation Serif',serif" fill="#111" >c</text>
<text x="664.8" y="979.5" font-size="8" text-anchor="middle" font-weight="bold" font-family="'Liberation Serif',serif" fill="#111" >a</text>
<text x="757" y="977.5" font-size="9" text-anchor="middle" font-weight="bold" font-family="'Liberation Serif',serif" fill="#111" >b</text>
<!-- p_b3 -->
<clipPath id="b3c1"><rect x="1342.6" y="697" width="120.4" height="272.4"/></clipPath>
<g clip-path="url(#b3c1)">
<polyline points="1342.6,755.8 1385.3,755.7 1389,755.2 1395.6,755 1401.6,753.9 1404,752.4 1405.2,751.2 1407,747.7 1408.2,743.9 1411.2,728.4 1412.4,724.1 1413,724.2 1413.6,725.7 1416.6,741.3 1417.8,746 1419.7,750.4 1422.1,753 1426.3,754.4 1437.7,755.7 1463,755.7" fill="none" stroke="#3a40a8" stroke-width="2.0" stroke-linejoin="round" />
<polyline points="1342.6,781.5 1363.1,781.7 1364.9,781.3 1368.5,781.5 1377.5,781.2 1385.9,781.4 1396.8,780.3 1399.8,779.7 1402.8,778.5 1405.2,775.3 1407,769.7 1408.2,763.5 1410.6,745.9 1411.2,742.7 1411.8,741.6 1412.4,742.7 1413,745.9 1415.4,763.6 1416.6,769.9 1418.5,775.2 1420.3,777.7 1422.7,779.2 1424.5,779.8 1431.7,781 1434.7,780.7 1437.7,781.3 1441.9,781.1 1444.9,781.6 1453.4,781.3 1455.2,781.6 1463,781.6" fill="none" stroke="#8f8c2c" stroke-width="2.0" stroke-linejoin="round" />
<rect x="1414.2" y="699" width="45" height="70.4" stroke="none" stroke-width="0" fill="#fff" />
<polyline points="1342.6,806.2 1348,806.5 1352.8,806.2 1373.3,806.1 1384.7,805.7 1394.4,804.8 1399.8,802.8 1402.8,799.7 1404,797.2 1405.2,793.4 1407,784 1410,761.3 1410.6,758.5 1411.2,757.5 1411.8,758.5 1412.4,761.4 1414.8,779.8 1416.6,790.5 1418.5,797.2 1419.7,799.9 1420.9,801.6 1422.1,802.6 1424.5,803.8 1431.1,805.2 1449.2,806.2 1463,806.2" fill="none" stroke="#8c2890" stroke-width="2.0" stroke-linejoin="round" />
<polyline points="1342.6,833.6 1377.5,833.3 1384.7,832.8 1389.6,832 1393.2,830.5 1395.6,828.2 1399.2,821.7 1401,819.6 1401.6,819.5 1404,820.6 1405.2,820.3 1405.8,819.7 1407,818.1 1410,811.5 1411.2,810.6 1412.4,811.8 1416,822.2 1417.8,826.1 1420.9,829.9 1423.3,831.2 1428.1,832.4 1437.7,832.9 1439.5,833.4 1463,833.5" fill="none" stroke="#f040cc" stroke-width="2.0" stroke-linejoin="round" />
<polyline points="1342.6,859.5 1363.7,859.6 1364.9,859.3 1376.3,859.2 1385.9,858.3 1388.4,857.8 1390.8,856.8 1393.2,854.3 1393.8,853.2 1398,841.8 1398.6,841.4 1399.2,841.8 1401.6,845.4 1402.2,845.5 1402.8,845 1403.4,843.9 1405.2,837.4 1407.6,824.5 1408.2,822.4 1408.8,821.6 1409.4,822.5 1410,824.8 1412.4,839.1 1414.2,847.5 1416.6,853.6 1418.5,855.6 1421.5,857.2 1425.7,858.4 1428.7,858.3 1431.7,859 1438.9,859.4 1444.3,859.1 1447.9,859.5 1451.6,859.2 1463,859.7" fill="none" stroke="#20c4f0" stroke-width="2.0" stroke-linejoin="round" />
<polyline points="1342.6,885.6 1359.5,885.4 1362.5,885.7 1364.9,885.3 1379.9,885.2 1381.1,884.8 1385.3,884.9 1392,884.1 1395,883.3 1398,881.8 1401,878.2 1403.4,872.6 1407,860.6 1408.2,858.1 1408.8,857.8 1409.4,858 1410,858.9 1414.2,872.6 1416,877.1 1418.5,880.8 1421.5,883 1425.7,884 1434.7,885 1463,885.5" fill="none" stroke="#3c48dc" stroke-width="2.0" stroke-linejoin="round" />
<polyline points="1342.6,911.4 1355.2,911.3 1357,911 1369.1,911.4 1370.9,911.1 1379.9,911.1 1381.7,910.7 1384.1,910.8 1395,909.7 1399.8,907.8 1401.6,906.2 1404,901.5 1405.8,894.7 1408.8,879.1 1410,875.5 1410.6,875.5 1411.8,879.1 1414.8,894.9 1416,899.6 1417.8,904.3 1419.7,907 1420.9,908 1428.1,910.3 1441.9,911.1 1443.1,910.8 1448.6,911.2 1463,911.3" fill="none" stroke="#24c840" stroke-width="2.0" stroke-linejoin="round" />
<polyline points="1342.6,938.7 1381.7,938.4 1392.6,937.7 1396.8,937 1399.2,936.2 1402.2,934.2 1404,931.7 1406.4,926.2 1409.4,916.5 1410.6,914 1411.2,913.7 1411.8,914.1 1413,916.6 1416,926.2 1417.8,930.7 1420.3,934.3 1422.7,935.9 1426.3,937.1 1434.1,938.1 1463,938.6" fill="none" stroke="#f04444" stroke-width="2.0" stroke-linejoin="round" />
<polyline points="1342.6,962.4 1343.8,962.7 1353.4,962.4 1364.9,962.8 1373.9,962.3 1377.5,962.6 1379.3,962.2 1385.3,962.6 1390.2,961.9 1398,961.7 1402.2,960.8 1404.6,959.6 1407,956.5 1408.8,952.1 1411.2,944 1412.4,941.6 1413,941.7 1414.2,944 1416.6,952.1 1418.5,956.4 1420.3,959.1 1422.7,960.6 1428.1,961.8 1438.3,962.1 1440.1,962.5 1446.1,962.3 1447.9,962.6 1457.6,962.6 1460,962.3 1463,962.6" fill="none" stroke="#3c3c3c" stroke-width="2.0" stroke-linejoin="round" />
</g>
<clipPath id="b3c0"><rect x="1390" y="700" width="24.2" height="30"/></clipPath>
<text x="1399" y="717" font-size="11.5" text-anchor="start" font-weight="bold" font-family="'Liberation Serif',serif" fill="#333" clip-path="url(#b3c0)">(003)</text>
<rect x="1342.6" y="697" width="120.4" height="272.4" stroke="#444" stroke-width="2.4" fill="none" />
<line x1="1339.6" y1="692" x2="1339.6" y2="702" stroke="#999" stroke-width="1" />
<line x1="1340" y1="680" x2="1910" y2="680" stroke="#f0f0f0" stroke-width="1" />
<line x1="1342.6" y1="969.4" x2="1342.6" y2="965.4" stroke="#444" stroke-width="1.4" />
<line x1="1357.6" y1="969.4" x2="1357.6" y2="967" stroke="#444" stroke-width="1.4" />
<line x1="1372.7" y1="969.4" x2="1372.7" y2="965.4" stroke="#444" stroke-width="1.4" />
<line x1="1387.8" y1="969.4" x2="1387.8" y2="967" stroke="#444" stroke-width="1.4" />
<line x1="1402.8" y1="969.4" x2="1402.8" y2="965.4" stroke="#444" stroke-width="1.4" />
<line x1="1417.8" y1="969.4" x2="1417.8" y2="967" stroke="#444" stroke-width="1.4" />
<line x1="1432.9" y1="969.4" x2="1432.9" y2="965.4" stroke="#444" stroke-width="1.4" />
<line x1="1448" y1="969.4" x2="1448" y2="967" stroke="#444" stroke-width="1.4" />
<line x1="1463" y1="969.4" x2="1463" y2="965.4" stroke="#444" stroke-width="1.4" />
<text x="1342.6" y="984.8" font-size="12.5" text-anchor="middle" font-weight="bold" font-family="'Liberation Serif',serif" fill="#222" >14</text>
<text x="1372.7" y="984.8" font-size="12.5" text-anchor="middle" font-weight="bold" font-family="'Liberation Serif',serif" fill="#222" >15</text>
<text x="1402.8" y="984.8" font-size="12.5" text-anchor="middle" font-weight="bold" font-family="'Liberation Serif',serif" fill="#222" >16</text>
<text x="1432.9" y="984.8" font-size="12.5" text-anchor="middle" font-weight="bold" font-family="'Liberation Serif',serif" fill="#222" >17</text>
<text x="1462.5" y="984.8" font-size="12.5" text-anchor="middle" font-weight="bold" font-family="'Liberation Serif',serif" fill="#222" >18</text>
<text x="1402.7" y="1010.2" font-size="16" text-anchor="middle" font-weight="bold" font-family="'Liberation Serif',serif" fill="#222" >2-theta (degree)</text>
<text transform="translate(1325.5 832.5) rotate(-90)" font-size="16.2" text-anchor="middle" font-weight="bold" font-family="'Liberation Serif',serif" fill="#222" >Intensity (a.u.)</text>
<clipPath id="b3c2"><rect x="1477" y="697" width="433.2" height="272.4"/></clipPath>
<g clip-path="url(#b3c2)">
<polyline points="1477,757.1 1490.9,756.3 1492.6,756.6 1496.1,756 1497.8,756.4 1502.4,755.8 1504.1,756.2 1509.9,756.1 1513.4,755.5 1516.9,755.8 1518.6,755.4 1520.3,754.3 1520.9,753.2 1521.5,749.6 1522.6,726.9 1523.2,729.9 1524.4,751.2 1524.9,753.7 1526.7,755.2 1529.6,755.9 1535.9,755.9 1537.6,755.6 1539.4,756 1540.5,755.8 1544.6,756.2 1548,755.8 1559.6,756 1561.9,755.6 1563.6,756.1 1565.4,755.7 1566.5,756.1 1570,755.8 1579.8,756.1 1582.7,755.7 1587.3,755.9 1589.1,755.7 1597.7,756 1598.9,755.5 1602.3,756 1604.6,755.8 1607,756.1 1613.9,755.7 1617.9,756 1620.2,755.7 1630.6,755.8 1631.8,755.7 1633.5,753.8 1635.3,755.3 1637.6,755.6 1639.3,755.4 1640.5,754.8 1642.2,751.7 1642.8,752.1 1644.5,755 1645.1,755.5 1646.2,755.9 1660.7,755.7 1662.4,755 1663.6,754.9 1669.3,756 1671.7,754.8 1674.5,755.8 1680.3,756 1688.4,755.7 1693,756 1694.2,755.7 1697.1,756 1702.3,755.6 1704.6,754.8 1705.2,754.2 1706.9,748.9 1709.2,754.5 1710.4,755.5 1712.1,755.9 1728.8,755.6 1731.7,754.1 1733.5,754.4 1735.2,755.5 1745.6,755.8 1746.7,756.2 1757.7,755.7 1764.6,755.8 1769.8,756.3 1771.6,755.6 1772.7,756 1774.5,755.7 1777.4,756.1 1780.8,755.6 1784.9,755.8 1788.9,754.4 1791.8,755.7 1799.3,756.1 1805.1,755.8 1806.8,756.1 1810.3,756 1812,755.6 1814.9,756 1818.4,755.9 1822.4,754.5 1824.7,755.6 1825.9,755.4 1828.8,756 1830.5,755.8 1832.2,756.1 1836.3,755.9 1840.9,756.2 1845.5,755.7 1847.2,756 1849.6,755.6 1855.3,756.1 1857.1,755.6 1859.9,756 1866.3,755.6 1868.6,755.9 1870.3,755.4 1872.7,755.3 1873.8,754.3 1874.4,752.7 1875.5,743.6 1876.1,742.6 1877.3,752.2 1877.9,754.2 1879,755.2 1885.9,756.1 1887.7,755.7 1888.8,756 1892.9,755.6 1896.9,755.8 1898.6,755.2 1905.6,756.1 1910.2,755.7" fill="none" stroke="#3a40a8" stroke-width="1.6" stroke-linejoin="round" />
<polyline points="1477,783.4 1480.5,783 1483.4,783.2 1485.1,782.7 1488.6,783.2 1490.9,782.5 1493.8,782.7 1494.9,782.4 1498.9,782.4 1500.7,782.1 1502.4,782.5 1505.3,782.2 1507,782.6 1513.4,782 1516.3,782.1 1518.6,781.4 1519.7,780.7 1520.9,779 1521.5,775.1 1522.6,748.3 1523.2,751.7 1524.4,776.4 1524.9,779.4 1526.1,781.1 1527.3,781.6 1531.9,782.2 1535.9,782 1539.4,782.4 1544.6,782.2 1548,782.4 1549.8,782.1 1551.5,782.3 1556.1,782.1 1559.6,782.4 1563.1,781.9 1565.4,782.3 1567.1,782 1572.9,782.4 1576.3,781.9 1578.1,782.4 1582.1,782.1 1587.9,782.4 1590.8,782 1594.8,782.5 1597.1,782.2 1600,782.5 1601.8,782 1605.8,782.3 1607,782.1 1608.7,782.4 1628.9,782.2 1631.8,781.8 1633.5,780 1634.1,780.2 1635.8,781.8 1637,782 1639.9,781.6 1642.2,778.2 1645.1,781.7 1648,781.8 1649.7,782.3 1661.3,781.9 1663,781.1 1665.9,782.2 1669.9,782.1 1671.7,781.2 1674,781.9 1677.4,782.3 1682,781.9 1684.4,782.2 1695.3,782.1 1697.1,782.4 1702.8,781.9 1704.6,781.1 1705.7,779 1706.9,775 1709.2,781.2 1710.4,781.9 1713.2,782.2 1727.1,782.2 1731.7,780.6 1735.8,782.2 1738.1,782 1741,782.4 1742.7,782 1746.7,782.1 1747.9,782.4 1750.2,781.9 1753.1,782.3 1759.4,782.3 1761.2,782 1763.5,782.4 1765.2,782 1777.4,782.4 1782.6,782.1 1783.7,782.3 1784.9,781.9 1786,782 1788.9,780.7 1791.8,781.9 1793.5,782.1 1799.9,782.2 1801.6,781.9 1803.3,782.3 1805.1,781.9 1808,781.9 1809.7,782.3 1814.3,782 1815.5,782.4 1818.4,782.3 1822.4,780.6 1824.7,781.7 1827,782.3 1837.4,782.3 1839.2,782 1840.9,782.4 1843.8,782 1850.7,782.5 1852.4,782 1855.9,782 1858.2,782.4 1862.8,781.9 1865.7,782.3 1869.8,782.2 1872.1,781.8 1873.2,781 1873.8,780.1 1874.4,777.8 1875.5,765.5 1876.1,764.2 1877.3,777 1877.9,779.7 1878.4,780.6 1880.2,781.9 1890,782.3 1891.7,781.9 1895.2,782.4 1896.9,781.7 1899.8,781.3 1905,782.3 1909,782.2 1910.2,781.9" fill="none" stroke="#8f8c2c" stroke-width="1.6" stroke-linejoin="round" />
<polyline points="1477,808.2 1479.3,808.2 1481,807.7 1489.1,807.6 1491.4,807.2 1499.5,807.1 1500.7,807.5 1502.4,807.1 1507.6,807 1508.8,807.2 1510.5,806.8 1514,807.1 1516.3,806.6 1518,806.7 1520.3,805.7 1520.9,804.7 1521.5,801.6 1522.6,781 1523.2,783.7 1524.4,802.7 1524.9,804.8 1525.5,805.7 1526.7,806.4 1532.4,807.2 1535.3,806.9 1537.1,807.1 1538.2,806.8 1539.4,807.1 1544.6,807.1 1545.7,806.8 1547.5,807.1 1548.6,806.8 1553.8,807.1 1556.7,806.7 1558.4,807.1 1560.2,806.9 1562.5,807.1 1564.2,806.7 1566.5,807.2 1572.3,806.8 1574.6,807.2 1577.5,806.8 1580.4,807.2 1586.2,806.8 1589.1,807.1 1590.2,806.8 1591.9,807.3 1596,806.9 1601.2,807.2 1602.9,806.8 1605.8,807 1613.3,806.8 1614.5,807.2 1616.2,806.8 1619.1,807.2 1623.7,806.8 1624.9,807.2 1626,806.9 1627.2,807.3 1628.9,806.8 1630.6,806.8 1633.5,805 1635.8,806.6 1638.2,806.8 1640.5,805.8 1642.2,803.1 1642.8,803.3 1643.9,805.4 1645.1,806.6 1648,806.9 1653.7,807.2 1658.4,807.1 1663,805.9 1665.9,806.9 1669.3,806.7 1672.2,806.1 1675.7,807 1676.8,806.7 1680.3,807.1 1683.2,806.8 1691.9,807.1 1699.4,806.8 1701.7,807 1703.4,806.7 1704.6,806.1 1706.9,800.3 1709.2,806 1709.8,806.5 1713.2,807 1715.5,806.7 1717.9,807 1719.6,806.7 1720.7,807 1727.7,806.9 1731.7,805.3 1732.9,805.6 1735.8,807 1742.7,806.8 1745.6,807.1 1750.8,806.9 1758.3,807.3 1764.6,806.9 1769.3,807.2 1770.4,806.9 1775.6,807.2 1776.8,806.8 1783.1,807 1789.5,805.6 1792.9,807 1797,806.9 1798.7,807.2 1800.5,806.8 1806.2,807.3 1807.4,807 1810.3,807.2 1813.2,806.8 1818.9,806.8 1821.8,805.5 1826.4,806.9 1828.2,806.6 1831.1,807.1 1834.5,807.1 1835.7,806.8 1839.2,807 1840.3,806.7 1843.2,807.3 1844.9,806.9 1850.7,807.2 1853.6,806.7 1855.3,807.1 1859.4,806.8 1863.4,807.1 1864.6,806.7 1868,807 1872.1,806.5 1873.2,805.7 1873.8,804.7 1874.4,802.4 1875.5,789.4 1876.1,787.9 1877.3,801.2 1877.9,804.2 1878.4,805.5 1879.6,806.5 1884.8,806.9 1887.7,806.8 1889.4,807.1 1892.3,806.8 1894,807.1 1901,806.2 1903.3,807 1905,806.6 1910.2,807" fill="none" stroke="#8c2890" stroke-width="1.6" stroke-linejoin="round" />
<polyline points="1477,834.9 1478.7,835.2 1482.8,834.4 1483.9,834.8 1486.2,834.8 1491.4,834.3 1492.6,834.6 1494.3,834.3 1497.2,834.6 1505.9,833.9 1511.1,834.1 1516.9,833.4 1518,832 1518.6,830.3 1519.7,824.4 1520.3,824.6 1520.9,826.8 1521.5,826.7 1522.6,810.6 1523.2,813.2 1524.4,829.9 1524.9,831.9 1525.5,832.7 1529,834 1531.9,833.7 1537.1,834.1 1541.1,833.7 1544,834.2 1552.1,833.8 1555,834.3 1556.7,833.9 1569.4,834 1570.6,833.7 1571.7,834.1 1573.5,833.9 1578.1,834.2 1579.2,833.9 1584.4,834.1 1586.2,833.8 1589.1,834.4 1591.9,833.8 1594.3,834.2 1607,833.8 1609.3,834.2 1611,833.8 1613.9,834.1 1619.1,833.8 1621.4,834.3 1626,833.8 1630.6,834 1631.8,833.6 1633.5,831.8 1636.4,833.6 1639.9,833.3 1642.2,830.1 1642.8,830.4 1644.5,833.1 1646.8,833.9 1660.1,834 1663,832.9 1667,834 1669.3,833.8 1672.2,832.8 1674,833.6 1677.4,834.1 1683.2,833.7 1684.9,834.2 1687.8,833.8 1692.4,833.8 1694.2,834.1 1695.9,833.8 1701.7,834.1 1704.6,833 1705.2,832.3 1706.9,827 1709.2,833 1713.2,834.1 1716.1,833.8 1720.7,834.1 1724.2,833.6 1725.9,833.9 1727.7,833.8 1730,833.3 1731.7,832.2 1734.6,833.5 1736.9,833.9 1744.4,833.8 1746.2,834.2 1750.2,833.8 1753.7,834.3 1754.8,833.9 1760,833.7 1761.2,834 1766.4,833.7 1769.3,834.1 1771,833.6 1773.3,834.1 1775,833.5 1776.8,833.9 1783.7,834 1786,833.6 1788.9,832.5 1792.9,834 1808.5,833.8 1812,834.2 1813.7,833.6 1817.8,833.9 1820.1,833.5 1821.8,832.6 1825.9,833.8 1831.6,833.7 1835.1,834.2 1841.5,833.8 1843.2,834.1 1848.4,833.8 1854.8,834.3 1858.2,834 1862.8,834.1 1867.5,833.6 1870.3,833.9 1873.2,833.1 1873.8,832.7 1874.4,831.2 1875.5,822.6 1876.1,821.6 1877.3,830.2 1877.9,832.1 1879.6,833.6 1881.9,833.9 1886.5,834 1887.7,833.6 1889.4,834 1893.4,833.8 1895.2,834.1 1898.6,833 1899.8,833.1 1901.5,833.9 1910.2,834" fill="none" stroke="#f040cc" stroke-width="1.6" stroke-linejoin="round" />
<polyline points="1477,861.5 1479.3,861.1 1490.9,860.9 1495.5,860.4 1497.8,860.7 1505.3,860.1 1507,860.5 1511.1,860.4 1512.8,859.9 1514.5,859.9 1516.3,859.1 1517.4,857.5 1518,854.7 1519.2,844.5 1520.3,852.2 1520.9,854 1521.5,851.1 1522.6,824.2 1523.2,828 1524.4,854.1 1524.9,857.2 1525.5,858.5 1526.7,859.3 1532.4,860.2 1541.1,860.3 1543.4,860 1545.7,860.4 1549.8,860.4 1550.9,860.1 1552.7,860.5 1555.6,860.1 1561.3,860.6 1563.1,860.2 1567.7,860.4 1571.7,860.1 1575.2,860.5 1580.4,860.1 1583.3,860.5 1585,860.2 1587.9,860.5 1590.8,860.1 1598.3,860.5 1610.4,860.3 1611.6,860 1615.6,860.3 1616.8,860 1620.8,860.4 1625.4,859.9 1627.8,860.4 1631.8,859.8 1633.5,857.9 1635.8,859.9 1639.9,859.9 1642.2,856.3 1642.8,856.7 1644.5,859.3 1646.8,860.4 1649.1,859.9 1650.3,860.3 1654.3,860.1 1656.1,860.4 1658.4,860 1660.1,860.3 1661.3,860.2 1663,859 1665.9,860.2 1668.2,860.2 1670.5,859.7 1671.7,859.1 1675.1,860.3 1679.2,859.9 1685.5,860.4 1686.7,860.1 1688.4,860.4 1689.6,860.1 1697.1,860.4 1698.2,860 1702.3,860.1 1704.6,859.3 1705.7,857.1 1706.9,853.4 1709.2,859.3 1712.1,860.3 1716.1,860.4 1723.1,860 1725.9,860.5 1727.1,860 1728.8,860 1732.3,858.6 1734,859.7 1738.7,860.5 1741,860.2 1750.2,860.4 1752.5,860 1757.7,860.3 1762.3,860 1762.9,860.3 1765.2,860.4 1775,860.3 1776.8,860 1780.2,860.3 1782,859.9 1786,859.9 1788.9,858.8 1792.9,860.1 1799.3,860.4 1817.2,860.3 1819.5,859.9 1822.4,858.7 1825.9,860.3 1835.1,860.3 1840.3,860.6 1846.1,860 1847.8,860.4 1854.8,860 1861.7,860.3 1865.7,860.3 1867.5,859.8 1869.2,860.2 1872.7,859.5 1873.2,859.2 1873.8,858.2 1874.4,855.7 1875.5,842 1876.1,840.4 1877.3,854.4 1877.9,857.6 1879,859.2 1881.9,860.3 1886.5,859.9 1892.3,860.4 1896.3,860.3 1899.8,859.5 1901.5,860 1910.2,860.2" fill="none" stroke="#20c4f0" stroke-width="1.6" stroke-linejoin="round" />
<polyline points="1477,887.6 1489.1,886.7 1491.4,887.1 1495.5,886.6 1497.2,886.8 1499.5,886.5 1503.6,886.7 1506.5,886.4 1508.2,886.7 1509.9,886.3 1513.4,886.6 1515.1,886 1517.4,886.3 1519.7,885.4 1520.9,883.7 1521.5,880.3 1522.6,858.2 1523.2,861 1524.4,881.3 1524.9,883.8 1525.5,884.8 1527.3,885.8 1531.3,886.3 1534.2,886.2 1539.4,886.7 1546.9,886.2 1548.6,886.6 1552.7,886.3 1559.6,886.5 1561.3,886.2 1565.4,886.6 1578.1,886.2 1581.5,886.6 1584.4,886.2 1586.2,886.4 1589.1,886.2 1590.8,886.5 1594.3,886.2 1603.5,886.6 1607.5,886.2 1611,886.6 1616.2,886.3 1622,886.5 1626.6,886 1630.6,886.4 1633.5,884.2 1634.1,884.3 1635.8,886.4 1639.9,885.6 1642.2,882.4 1642.8,882.7 1644.5,885.3 1646.8,886.3 1650.3,886.1 1653.2,886.6 1657.2,886.7 1660.7,886.2 1663,885.4 1668.8,886.4 1672.2,885.4 1674.5,886.1 1678.6,886.5 1683.8,885.9 1685.5,886.3 1689.6,886.2 1691.3,886.6 1693,886.2 1696.5,886.4 1704,885.9 1705.2,884.7 1706.9,879.6 1707.5,880.4 1709.2,885.4 1710.9,886.2 1727.7,886.4 1729.4,885.8 1731.7,884.3 1735.2,886.3 1740.4,885.9 1742.1,886.5 1744.4,886.6 1745.6,886.2 1753.7,886.2 1754.8,886.5 1760,886.1 1762.3,886.6 1764.1,886.2 1765.8,886.6 1768.7,886.3 1772.2,886.7 1773.9,886.1 1775.6,886.1 1777.4,886.5 1780.2,886.2 1782.6,886.5 1786.6,885.9 1788.9,884.9 1792.4,886.5 1794.1,886.2 1797.6,886.7 1799.3,886.4 1806.8,886.3 1808.5,885.9 1809.7,886.3 1816.6,886.3 1819.5,885.9 1822.4,884.8 1825.9,886.3 1829.3,886.1 1843.2,886.5 1846.1,886.2 1853,886.6 1854.8,886.3 1866.3,886.3 1870.9,886.1 1873.2,885.4 1873.8,884.7 1874.4,882.9 1875.5,872.9 1876.1,871.9 1877.3,882.3 1877.9,884.5 1879,885.7 1883.6,886.3 1888.8,886.2 1890,886.7 1891.7,886.2 1892.9,886.5 1896.3,885.8 1899.8,885.7 1903.8,886.4 1905.6,886.1 1910.2,886.5" fill="none" stroke="#3c48dc" stroke-width="1.6" stroke-linejoin="round" />
<polyline points="1477,912.9 1479.9,913 1484.5,912.3 1486.2,912.6 1487.4,912.2 1489.1,912.6 1495.5,911.8 1500.1,912.3 1501.8,911.7 1505.3,912 1508.8,911.6 1512.8,912.1 1519.2,911.2 1520.3,910.3 1520.9,909.3 1521.5,906.2 1522.6,884.7 1523.2,887.3 1524.4,907.1 1524.9,909.6 1526.1,910.9 1527.3,911.5 1531.3,911.8 1535.3,911.4 1537.6,911.9 1542.8,912 1544.6,911.7 1546.9,912.2 1549.2,911.8 1559,912 1561.3,911.5 1563.6,912 1568.8,911.6 1572.9,912.1 1574,911.7 1579.8,912 1584.4,911.7 1586.7,912.1 1588.5,911.7 1589.1,911.9 1591.9,911.6 1604.1,912 1605.8,911.6 1610.4,912.1 1613.9,911.6 1615,912 1620.2,911.6 1624.3,912 1627.8,911.5 1629.5,911.9 1630.6,911.7 1632.4,910.8 1633.5,909.6 1634.1,909.6 1635.8,911.6 1638.2,911.6 1639.3,911.3 1640.5,910.4 1642.2,907.7 1642.8,908 1644.5,910.7 1646.8,911.8 1660.7,911.7 1663,910.7 1664.1,911.2 1668.2,911.7 1669.9,911.4 1671.7,910.6 1675.1,911.8 1682.6,911.5 1684.4,911.9 1689,911.5 1697.1,911.9 1699.4,911.5 1701.1,911.7 1704.6,910.8 1706.9,904.8 1709.2,910.7 1711.5,911.6 1715.5,911.8 1727.7,911.7 1731.7,910 1735.8,911.4 1745,912.1 1749.6,911.6 1753.1,912 1754.2,911.7 1756.6,911.9 1758.3,911.6 1760,912 1767.5,911.6 1770.4,911.9 1772.2,911.7 1773.9,912 1779.1,911.7 1781.4,912.1 1783.7,911.5 1786,911.3 1788.3,910.4 1792.4,911.7 1794.1,911.9 1796.4,911.6 1803.3,911.9 1812.6,911.5 1817.8,911.8 1820.1,911.1 1821.8,910 1825.3,911.5 1829.9,911.9 1832.8,911.6 1834.5,911.9 1836.3,911.4 1838.6,912 1842,911.5 1844.4,911.5 1846.7,912 1851.3,911.6 1853,911.9 1855.3,911.6 1860.5,912 1867.5,911.4 1869.2,911.7 1871.5,911.3 1873.2,910.5 1873.8,909.9 1874.4,907.5 1875.5,895.1 1876.1,893.6 1877.3,906.3 1877.9,909.3 1879,910.7 1880.7,911.5 1883.1,911.3 1888.8,912 1891.7,911.4 1893.4,911.7 1896.3,911.6 1899.2,911.1 1903.8,911.8 1905.6,911.6 1908.5,912 1910.2,911.7" fill="none" stroke="#24c840" stroke-width="1.6" stroke-linejoin="round" />
<polyline points="1477,939.9 1489.7,939 1492,939.3 1494.9,938.9 1497.2,939.3 1500.7,938.8 1505.9,939.1 1507.6,938.7 1509.9,938.9 1513.4,938.4 1515.7,938.7 1519.7,937.9 1520.9,936.5 1521.5,933.6 1522.6,914.4 1523.2,916.7 1524.4,934.3 1524.9,936.6 1526.1,938 1526.7,938.1 1533,938.9 1535.9,938.5 1540,938.8 1548.6,938.5 1552.1,938.8 1555.6,938.5 1560.8,938.5 1561.9,938.8 1570.6,938.5 1572.3,938.8 1576.3,938.5 1578.1,938.8 1581.5,938.4 1583.3,938.8 1586.2,938.9 1588.5,938.6 1605.8,938.8 1607.5,938.4 1612.7,938.9 1614.5,938.6 1620.2,938.9 1623.1,938.4 1624.3,938.7 1630.1,938.6 1632.4,938 1633.5,936.5 1635.3,938 1637.6,938.6 1639.9,938 1642.2,934.9 1642.8,935.2 1644.5,938 1646.8,938.6 1652.6,938.5 1658.9,938.8 1661.8,938.4 1663,937.8 1665.9,938.7 1670.5,938.4 1672.2,937.8 1674,938.5 1676.8,938.8 1682,938.6 1683.8,938.9 1688.4,938.5 1691.3,938.9 1695.3,938.6 1697.1,938.9 1698.8,938.5 1702.3,938.7 1704.6,937.7 1705.7,935.4 1706.9,931.6 1707.5,932.5 1708.6,936.7 1709.2,937.5 1710.9,938.3 1714.4,938.6 1720.2,938.7 1721.9,938.5 1725.4,938.9 1728.8,938.2 1731.7,937 1734,938.1 1737.5,938.8 1748.5,938.5 1751.4,938.9 1769.3,938.5 1771,938.9 1773.9,938.5 1780.2,938.8 1786,938.6 1788.9,937 1791.8,938.5 1798.1,938.9 1802.2,938.5 1804.5,938.8 1809.7,938.6 1811.4,938.9 1812.6,938.6 1814.3,938.8 1815.5,938.4 1817.2,938.7 1821.8,937.3 1825.3,938.5 1831.1,938.9 1839.7,938.6 1844.4,939 1850.1,938.5 1851.9,938.8 1853.6,938.5 1865.1,938.8 1866.9,938.4 1869.8,938.5 1870.9,938 1872.7,938.2 1873.2,938 1874.4,935.5 1875.5,926.5 1876.1,925.5 1877.3,934.9 1877.9,936.8 1878.4,937.5 1880.2,938.5 1891.7,939 1894,938.4 1896.3,938.7 1897.5,938.1 1899.8,937.8 1903.8,938.6 1910.2,938.5" fill="none" stroke="#f04444" stroke-width="1.6" stroke-linejoin="round" />
<polyline points="1477,966 1485.1,965.1 1488,965.4 1490.9,964.9 1497.2,965 1498.9,964.7 1503.6,965 1507.6,964.6 1509.3,965 1512.2,964.6 1516.3,964.7 1519.7,964 1520.9,963.1 1521.5,961.1 1522.6,945 1523.2,947.2 1524.4,961.8 1524.9,963.2 1526.7,964.2 1534.2,964.8 1539.4,964.5 1548.6,964.7 1550.4,964.4 1552.1,964.8 1553.2,964.5 1556.1,964.9 1561.3,964.5 1563.1,964.8 1579.8,964.4 1585.6,964.8 1587.3,964.3 1589.6,965 1591.4,964.5 1596,964.9 1598.3,964.4 1604.6,964.7 1609.3,964.4 1611,964.9 1612.7,964.4 1616.8,964.7 1623.1,964.3 1624.9,964.9 1626.6,964.5 1631.2,964.6 1633,964.3 1634.7,964.7 1637.6,964.4 1638.7,963.9 1640.5,961.5 1641,961.6 1642.2,963.2 1643.3,964.1 1653.7,964.8 1658.4,964.3 1659.5,963.9 1661.8,959.6 1663,962.2 1664.1,963.8 1665.9,964.2 1668.2,964.1 1670.5,959 1672.2,963.3 1672.8,963.8 1674.5,964.2 1682.6,964.7 1684.4,964.3 1686.7,964.7 1689.6,964.2 1691.9,964.6 1700.5,964.4 1702.8,963.8 1704,962.5 1704.6,959.9 1705.7,944.2 1707.5,961.7 1708,963.2 1710.9,964.2 1717.3,964.7 1723.1,964.4 1724.2,964.7 1730,963.6 1733.5,964.6 1735.8,964.2 1737.5,964.6 1742.1,964.8 1750.2,964.7 1751.9,964.2 1754.8,964.6 1761.8,964.4 1768.7,964.8 1776.8,964.3 1780.2,964.7 1786,964.6 1787.2,963.7 1788.9,961.4 1790.6,963.7 1792.9,964.5 1795.3,964.2 1797,964.7 1799.3,964.4 1803.3,964.7 1808.5,964.5 1810.3,964.8 1811.4,964.5 1818.4,964.3 1819.5,963.4 1821.2,960.7 1821.8,961.1 1823,963.1 1824.7,964.2 1829.9,964.8 1833.4,964.4 1838,964.8 1844.4,964.5 1846.7,964.7 1852.4,964.2 1855.9,964.7 1858.8,963.8 1861.1,961.1 1861.7,961.4 1863.4,963.8 1865.1,964.4 1866.3,964.1 1872.1,964.6 1873.2,964.2 1876.7,964.3 1879.6,962.3 1882.5,964.1 1885.4,964.7 1890.6,964.2 1892.3,964.4 1894.6,963.3 1896.3,963.2 1900.4,964.5 1910.2,964.6" fill="none" stroke="#3c3c3c" stroke-width="1.6" stroke-linejoin="round" />
</g>
<text x="1780.2" y="750.2" font-size="12.8" text-anchor="start" font-weight="bold" font-family="'Liberation Serif',serif" fill="#3a40a8" >Dis. 3.0 V</text>
<text x="1780.2" y="775.5" font-size="12.8" text-anchor="start" font-weight="bold" font-family="'Liberation Serif',serif" fill="#8f8c2c" >Dis. 3.5 V</text>
<text x="1780.2" y="801.1" font-size="12.8" text-anchor="start" font-weight="bold" font-family="'Liberation Serif',serif" fill="#8c2890" >Dis. 4.0 V</text>
<text x="1780.2" y="828.2" font-size="12.8" text-anchor="start" font-weight="bold" font-family="'Liberation Serif',serif" fill="#f040cc" >Dis. 4.1 V</text>
<text x="1780.2" y="853.5" font-size="12.8" text-anchor="start" font-weight="bold" font-family="'Liberation Serif',serif" fill="#20c4f0" >Char. 4.2 V</text>
<text x="1780.2" y="879.5" font-size="12.8" text-anchor="start" font-weight="bold" font-family="'Liberation Serif',serif" fill="#3c48dc" >Char. 4.1 V</text>
<text x="1780.2" y="905.5" font-size="12.8" text-anchor="start" font-weight="bold" font-family="'Liberation Serif',serif" fill="#24c840" >Char. 4.0 V</text>
<text x="1780.2" y="931.9" font-size="12.8" text-anchor="start" font-weight="bold" font-family="'Liberation Serif',serif" fill="#f04444" >Char. 3.0 V</text>
<text x="1780.2" y="955.5" font-size="12.8" text-anchor="start" font-weight="normal" font-family="'Liberation Serif',serif" fill="#3c3c3c" >Pristine</text>
<rect x="1796.2" y="736" width="45.6" height="50.5" stroke="none" stroke-width="0" fill="#fff" />
<text x="1685.8" y="751.8" font-size="10.5" text-anchor="middle" font-family="'DejaVu Sans',sans-serif" fill="#222" stroke="#222" stroke-width="0.3">&#9734;</text>
<text x="1732.6" y="751.8" font-size="10.5" text-anchor="middle" font-family="'DejaVu Sans',sans-serif" fill="#222" stroke="#222" stroke-width="0.3">&#9734;</text>
<text x="1875" y="737.8" font-size="10.5" text-anchor="middle" font-family="'DejaVu Sans',sans-serif" fill="#222" stroke="#222" stroke-width="0.3">&#9734;</text>
<text x="1868.5" y="710.4" font-size="9.5" text-anchor="middle" font-family="'DejaVu Sans',sans-serif" fill="#222" stroke="#222" stroke-width="0.3">&#9734;</text>
<text x="1876.5" y="711.2" font-size="12.5" text-anchor="start" font-weight="bold" font-family="'Liberation Serif',serif" fill="#222" >Al</text>
<rect x="1477" y="697" width="433.2" height="272.4" stroke="#444" stroke-width="2.4" fill="none" />
<line x1="1477" y1="969.4" x2="1477" y2="965.4" stroke="#444" stroke-width="1.4" />
<line x1="1513.1" y1="969.4" x2="1513.1" y2="967" stroke="#444" stroke-width="1.4" />
<line x1="1549.2" y1="969.4" x2="1549.2" y2="965.4" stroke="#444" stroke-width="1.4" />
<line x1="1585.3" y1="969.4" x2="1585.3" y2="967" stroke="#444" stroke-width="1.4" />
<line x1="1621.4" y1="969.4" x2="1621.4" y2="965.4" stroke="#444" stroke-width="1.4" />
<line x1="1657.5" y1="969.4" x2="1657.5" y2="967" stroke="#444" stroke-width="1.4" />
<line x1="1693.6" y1="969.4" x2="1693.6" y2="965.4" stroke="#444" stroke-width="1.4" />
<line x1="1729.7" y1="969.4" x2="1729.7" y2="967" stroke="#444" stroke-width="1.4" />
<line x1="1765.8" y1="969.4" x2="1765.8" y2="965.4" stroke="#444" stroke-width="1.4" />
<line x1="1801.9" y1="969.4" x2="1801.9" y2="967" stroke="#444" stroke-width="1.4" />
<line x1="1838" y1="969.4" x2="1838" y2="965.4" stroke="#444" stroke-width="1.4" />
<line x1="1874.1" y1="969.4" x2="1874.1" y2="967" stroke="#444" stroke-width="1.4" />
<line x1="1910.2" y1="969.4" x2="1910.2" y2="965.4" stroke="#444" stroke-width="1.4" />
<text x="1473.8" y="984.8" font-size="12.5" text-anchor="middle" font-weight="bold" font-family="'Liberation Serif',serif" fill="#222" >10</text>
<text x="1549.2" y="984.8" font-size="12.5" text-anchor="middle" font-weight="bold" font-family="'Liberation Serif',serif" fill="#222" >20</text>
<text x="1621.4" y="984.8" font-size="12.5" text-anchor="middle" font-weight="bold" font-family="'Liberation Serif',serif" fill="#222" >30</text>
<text x="1693.6" y="984.8" font-size="12.5" text-anchor="middle" font-weight="bold" font-family="'Liberation Serif',serif" fill="#222" >40</text>
<text x="1765.8" y="984.8" font-size="12.5" text-anchor="middle" font-weight="bold" font-family="'Liberation Serif',serif" fill="#222" >50</text>
<text x="1838" y="984.8" font-size="12.5" text-anchor="middle" font-weight="bold" font-family="'Liberation Serif',serif" fill="#222" >60</text>
<text x="1911.2" y="984.8" font-size="12.5" text-anchor="middle" font-weight="bold" font-family="'Liberation Serif',serif" fill="#222" >70</text>
<text x="1693" y="1010.2" font-size="16" text-anchor="middle" font-weight="bold" font-family="'Liberation Serif',serif" fill="#222" >2-theta (degree)</text>
<path d="M1928.5,711.2C1928.7,712.3 1929.5,715.5 1930.1,718C1930.6,720.4 1930.9,723.4 1931.7,726C1932.4,728.5 1933.3,731.3 1934.5,733.2C1935.6,735 1936.3,736.2 1938.5,737.2C1940.7,738.1 1944.5,738.2 1947.7,738.8C1950.9,739.4 1954.7,739.8 1957.7,740.8C1960.7,741.8 1963,743 1965.7,744.7C1968.3,746.5 1970.6,747.9 1973.6,751.1C1976.6,754.3 1980,759.1 1983.6,763.9C1987.3,768.7 1991.6,774.6 1995.6,779.9C1999.6,785.3 2004.3,791.8 2007.6,795.9C2011,800.1 2013.6,802.4 2015.6,804.7C2017.6,807.1 2018.5,808.2 2019.6,809.9C2020.8,811.7 2021.6,813.9 2022.4,815.1C2023.2,816.3 2023.7,816.6 2024.4,817.1C2025.2,817.6 2026.4,817.8 2026.8,817.9" fill="none" stroke="#333" stroke-width="1.5" stroke-linecap="round" stroke-linejoin="round" />
<path d="M1932.9,955C1933.2,954 1934.1,951.1 1934.9,948.7C1935.7,946.3 1936.5,942.8 1937.7,940.7C1938.8,938.5 1940,937.1 1941.7,935.9C1943.3,934.7 1944.7,934.1 1947.7,933.5C1950.7,932.8 1956.5,932.5 1959.7,931.9C1962.9,931.3 1965.1,931.1 1966.9,929.9C1968.6,928.7 1968.9,926.5 1970,924.7C1971.2,922.9 1971.4,922.2 1973.6,919.1C1975.9,915.9 1980,910.7 1983.6,905.9C1987.3,901 1991.6,895.2 1995.6,889.9C1999.6,884.5 2004,878.2 2007.6,873.9C2011.3,869.6 2015,866.4 2017.6,863.9C2020.3,861.4 2022.2,860.6 2023.6,859.1C2025,857.6 2025.4,857.1 2026,855.1C2026.6,853.1 2027,848.4 2027.2,847.1" fill="none" stroke="#333" stroke-width="1.5" stroke-linecap="round" stroke-linejoin="round" />
<rect x="1920.3" y="697" width="119.3" height="272.4" stroke="#444" stroke-width="2.4" fill="none" />
<line x1="1920.3" y1="833" x2="2039.6" y2="833" stroke="#444" stroke-width="2.4" />
<line x1="1928.9" y1="969.4" x2="1928.9" y2="965.4" stroke="#444" stroke-width="1.4" />
<line x1="1928.9" y1="697" x2="1928.9" y2="701" stroke="#444" stroke-width="1.4" />
<line x1="1951" y1="969.4" x2="1951" y2="967" stroke="#444" stroke-width="1.4" />
<line x1="1951" y1="697" x2="1951" y2="699.4" stroke="#444" stroke-width="1.4" />
<line x1="1973.1" y1="969.4" x2="1973.1" y2="965.4" stroke="#444" stroke-width="1.4" />
<line x1="1973.1" y1="697" x2="1973.1" y2="701" stroke="#444" stroke-width="1.4" />
<line x1="1995.2" y1="969.4" x2="1995.2" y2="967" stroke="#444" stroke-width="1.4" />
<line x1="1995.2" y1="697" x2="1995.2" y2="699.4" stroke="#444" stroke-width="1.4" />
<line x1="2017.3" y1="969.4" x2="2017.3" y2="965.4" stroke="#444" stroke-width="1.4" />
<line x1="2017.3" y1="697" x2="2017.3" y2="701" stroke="#444" stroke-width="1.4" />
<text x="1928.9" y="984.8" font-size="12.5" text-anchor="middle" font-weight="bold" font-family="'Liberation Serif',serif" fill="#222" >2</text>
<text x="1928.9" y="689.2" font-size="12.5" text-anchor="middle" font-weight="bold" font-family="'Liberation Serif',serif" fill="#222" >2</text>
<text x="1973.1" y="984.8" font-size="12.5" text-anchor="middle" font-weight="bold" font-family="'Liberation Serif',serif" fill="#222" >3</text>
<text x="1973.1" y="689.2" font-size="12.5" text-anchor="middle" font-weight="bold" font-family="'Liberation Serif',serif" fill="#222" >3</text>
<text x="2017.3" y="984.8" font-size="12.5" text-anchor="middle" font-weight="bold" font-family="'Liberation Serif',serif" fill="#222" >4</text>
<text x="2017.3" y="689.2" font-size="12.5" text-anchor="middle" font-weight="bold" font-family="'Liberation Serif',serif" fill="#222" >4</text>
<line x1="2039.6" y1="698" x2="2035.6" y2="698" stroke="#444" stroke-width="1.4" />
<text x="2043" y="702.3" font-size="12.5" text-anchor="start" font-weight="bold" font-family="'Liberation Serif',serif" fill="#222" >200</text>
<line x1="2039.6" y1="758" x2="2035.6" y2="758" stroke="#444" stroke-width="1.4" />
<text x="2043" y="762.3" font-size="12.5" text-anchor="start" font-weight="bold" font-family="'Liberation Serif',serif" fill="#222" >100</text>
<line x1="2039.6" y1="818" x2="2035.6" y2="818" stroke="#444" stroke-width="1.4" />
<text x="2043" y="822.3" font-size="12.5" text-anchor="start" font-weight="bold" font-family="'Liberation Serif',serif" fill="#222" >0</text>
<line x1="2039.6" y1="834" x2="2035.6" y2="834" stroke="#444" stroke-width="1.4" />
<text x="2043" y="838.3" font-size="12.5" text-anchor="start" font-weight="bold" font-family="'Liberation Serif',serif" fill="#222" >200</text>
<line x1="2039.6" y1="894" x2="2035.6" y2="894" stroke="#444" stroke-width="1.4" />
<text x="2043" y="898.3" font-size="12.5" text-anchor="start" font-weight="bold" font-family="'Liberation Serif',serif" fill="#222" >100</text>
<line x1="2039.6" y1="954.8" x2="2035.6" y2="954.8" stroke="#444" stroke-width="1.4" />
<text x="2043" y="959.1" font-size="12.5" text-anchor="start" font-weight="bold" font-family="'Liberation Serif',serif" fill="#222" >0</text>
<text x="1980.5" y="1010.2" font-size="17" text-anchor="middle" font-weight="bold" font-family="'Liberation Serif',serif" fill="#222" >Voltage (V)</text>
</svg>
</body></html>
